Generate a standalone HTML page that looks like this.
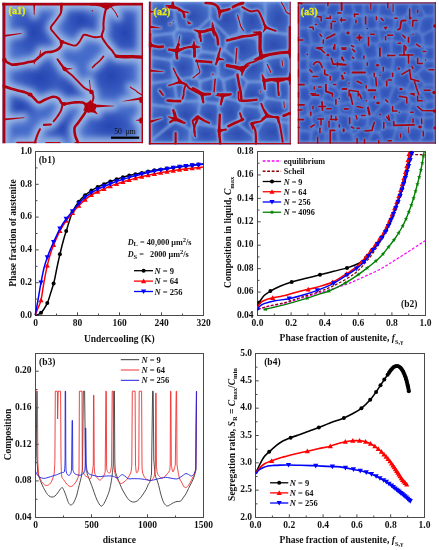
<!DOCTYPE html>
<html><head><meta charset="utf-8"><title>Figure</title>
<style>html,body{margin:0;padding:0;background:#fff;} svg{display:block;}</style>
</head><body>
<svg width="439" height="550" viewBox="0 0 439 550"><defs><clipPath id="ca1"><rect x="2.3" y="2.7" width="140.7" height="140.5"/></clipPath><radialGradient id="ca1g"><stop offset="0" stop-color="#2645b2" stop-opacity="1"/><stop offset="0.55" stop-color="#2645b2" stop-opacity="0.55"/><stop offset="1" stop-color="#2645b2" stop-opacity="0"/></radialGradient><filter id="hb" x="-20%" y="-20%" width="140%" height="140%"><feGaussianBlur stdDeviation="3.0"/></filter><clipPath id="ca2"><rect x="148.8" y="1.8" width="142.2" height="142.6"/></clipPath><radialGradient id="ca2g" cx="50%" cy="50%" r="65%"><stop offset="0" stop-color="#2d4cb0"/><stop offset="0.55" stop-color="#3d62c0"/><stop offset="1" stop-color="#5f87d4"/></radialGradient><filter id="ca2f" x="0" y="0" width="100%" height="100%"><feGaussianBlur stdDeviation="0.9"/></filter><filter id="hb2" x="-20%" y="-20%" width="140%" height="140%"><feGaussianBlur stdDeviation="1.2"/></filter><clipPath id="ca3"><rect x="297.7" y="2.3" width="138.3" height="141.4"/></clipPath><radialGradient id="ca3g" cx="50%" cy="50%" r="65%"><stop offset="0" stop-color="#3152b6"/><stop offset="0.55" stop-color="#3b5ec2"/><stop offset="1" stop-color="#4a70ca"/></radialGradient><filter id="ca3f" x="0" y="0" width="100%" height="100%"><feGaussianBlur stdDeviation="1.1"/></filter><filter id="hb3" x="-20%" y="-20%" width="140%" height="140%"><feGaussianBlur stdDeviation="1.0"/></filter></defs><rect x="35.5" y="151.5" width="168" height="164" fill="none" stroke="#4a4a4a" stroke-width="1"/>
<line x1="35.5" y1="315.5" x2="35.5" y2="312.3" stroke="#4a4a4a" stroke-width="1"/>
<text x="35.5" y="326.2" font-size="9.5" text-anchor="middle" fill="#111" font-family="Liberation Serif, serif" font-weight="bold" >0</text>
<line x1="77.5" y1="315.5" x2="77.5" y2="312.3" stroke="#4a4a4a" stroke-width="1"/>
<text x="77.5" y="326.2" font-size="9.5" text-anchor="middle" fill="#111" font-family="Liberation Serif, serif" font-weight="bold" >80</text>
<line x1="119.5" y1="315.5" x2="119.5" y2="312.3" stroke="#4a4a4a" stroke-width="1"/>
<text x="119.5" y="326.2" font-size="9.5" text-anchor="middle" fill="#111" font-family="Liberation Serif, serif" font-weight="bold" >160</text>
<line x1="161.5" y1="315.5" x2="161.5" y2="312.3" stroke="#4a4a4a" stroke-width="1"/>
<text x="161.5" y="326.2" font-size="9.5" text-anchor="middle" fill="#111" font-family="Liberation Serif, serif" font-weight="bold" >240</text>
<line x1="203.5" y1="315.5" x2="203.5" y2="312.3" stroke="#4a4a4a" stroke-width="1"/>
<text x="203.5" y="326.2" font-size="9.5" text-anchor="middle" fill="#111" font-family="Liberation Serif, serif" font-weight="bold" >320</text>
<line x1="56.5" y1="315.5" x2="56.5" y2="313.5" stroke="#4a4a4a" stroke-width="1"/>
<line x1="98.5" y1="315.5" x2="98.5" y2="313.5" stroke="#4a4a4a" stroke-width="1"/>
<line x1="140.5" y1="315.5" x2="140.5" y2="313.5" stroke="#4a4a4a" stroke-width="1"/>
<line x1="182.5" y1="315.5" x2="182.5" y2="313.5" stroke="#4a4a4a" stroke-width="1"/>
<line x1="35.5" y1="315.5" x2="38.7" y2="315.5" stroke="#4a4a4a" stroke-width="1"/>
<text x="32" y="317.7" font-size="9.5" text-anchor="end" fill="#111" font-family="Liberation Serif, serif" font-weight="bold" >0.0</text>
<line x1="35.5" y1="282.7" x2="38.7" y2="282.7" stroke="#4a4a4a" stroke-width="1"/>
<text x="32" y="284.9" font-size="9.5" text-anchor="end" fill="#111" font-family="Liberation Serif, serif" font-weight="bold" >0.2</text>
<line x1="35.5" y1="249.9" x2="38.7" y2="249.9" stroke="#4a4a4a" stroke-width="1"/>
<text x="32" y="252.1" font-size="9.5" text-anchor="end" fill="#111" font-family="Liberation Serif, serif" font-weight="bold" >0.4</text>
<line x1="35.5" y1="217.1" x2="38.7" y2="217.1" stroke="#4a4a4a" stroke-width="1"/>
<text x="32" y="219.3" font-size="9.5" text-anchor="end" fill="#111" font-family="Liberation Serif, serif" font-weight="bold" >0.6</text>
<line x1="35.5" y1="184.3" x2="38.7" y2="184.3" stroke="#4a4a4a" stroke-width="1"/>
<text x="32" y="186.5" font-size="9.5" text-anchor="end" fill="#111" font-family="Liberation Serif, serif" font-weight="bold" >0.8</text>
<line x1="35.5" y1="151.5" x2="38.7" y2="151.5" stroke="#4a4a4a" stroke-width="1"/>
<text x="32" y="153.7" font-size="9.5" text-anchor="end" fill="#111" font-family="Liberation Serif, serif" font-weight="bold" >1.0</text>
<line x1="35.5" y1="299.1" x2="37.5" y2="299.1" stroke="#4a4a4a" stroke-width="1"/>
<line x1="35.5" y1="266.3" x2="37.5" y2="266.3" stroke="#4a4a4a" stroke-width="1"/>
<line x1="35.5" y1="233.5" x2="37.5" y2="233.5" stroke="#4a4a4a" stroke-width="1"/>
<line x1="35.5" y1="200.7" x2="37.5" y2="200.7" stroke="#4a4a4a" stroke-width="1"/>
<line x1="35.5" y1="167.9" x2="37.5" y2="167.9" stroke="#4a4a4a" stroke-width="1"/>
<path d="M35.2,315.2 C35.67,315.1 37.03,315.02 38,314.6 C38.97,314.18 40,313.63 41,312.7 C42,311.77 42.9,310.72 44,309 C45.1,307.28 46.43,305.23 47.6,302.4 C48.77,299.57 49.9,295.52 51,292 C52.1,288.48 53.2,285.38 54.2,281.3 C55.2,277.22 56.02,272.13 57,267.5 C57.98,262.87 59.02,258.08 60.1,253.5 C61.18,248.92 62.32,244.25 63.5,240 C64.68,235.75 65.73,232.58 67.2,228 C68.67,223.42 70.38,216.87 72.3,212.5 C74.22,208.13 76.57,204.67 78.7,201.8 C80.83,198.93 82.98,197.17 85.1,195.3 C87.22,193.43 89.22,192.02 91.4,190.6 C93.58,189.18 96.02,187.9 98.2,186.8 C100.38,185.7 102.43,184.88 104.5,184 C106.57,183.12 108.53,182.3 110.6,181.5 C112.67,180.7 114.78,179.93 116.9,179.2 C119.02,178.47 121.12,177.75 123.3,177.1 C125.48,176.45 126.83,176.02 130,175.3 C133.17,174.58 138.13,173.65 142.3,172.8 C146.47,171.95 150.75,170.92 155,170.2 C159.25,169.48 163.53,169.1 167.8,168.5 C172.07,167.9 176.35,167.17 180.6,166.6 C184.85,166.03 189.52,165.53 193.3,165.1 C197.08,164.67 201.63,164.18 203.3,164" fill="none" stroke="#000" stroke-width="1.5" stroke-linejoin="round" />
<circle cx="41" cy="312.7" r="2" fill="#000"/>
<circle cx="47.3" cy="303.1" r="2" fill="#000"/>
<circle cx="53.6" cy="283.6" r="2" fill="#000"/>
<circle cx="59.9" cy="254.35" r="2" fill="#000"/>
<circle cx="66.2" cy="231.12" r="2" fill="#000"/>
<circle cx="72.5" cy="212.05" r="2" fill="#000"/>
<circle cx="78.8" cy="201.67" r="2" fill="#000"/>
<circle cx="85.1" cy="195.3" r="2" fill="#000"/>
<circle cx="91.4" cy="190.6" r="2" fill="#000"/>
<circle cx="97.7" cy="187.05" r="2" fill="#000"/>
<circle cx="104" cy="184.21" r="2" fill="#000"/>
<circle cx="110.3" cy="181.62" r="2" fill="#000"/>
<circle cx="116.6" cy="179.3" r="2" fill="#000"/>
<circle cx="122.9" cy="177.22" r="2" fill="#000"/>
<circle cx="129.2" cy="175.48" r="2" fill="#000"/>
<circle cx="135.5" cy="174.15" r="2" fill="#000"/>
<circle cx="141.8" cy="172.9" r="2" fill="#000"/>
<circle cx="148.1" cy="171.56" r="2" fill="#000"/>
<circle cx="154.4" cy="170.3" r="2" fill="#000"/>
<circle cx="160.7" cy="169.39" r="2" fill="#000"/>
<circle cx="167" cy="168.61" r="2" fill="#000"/>
<circle cx="173.3" cy="167.68" r="2" fill="#000"/>
<circle cx="179.6" cy="166.74" r="2" fill="#000"/>
<circle cx="185.9" cy="165.94" r="2" fill="#000"/>
<circle cx="192.2" cy="165.23" r="2" fill="#000"/>
<circle cx="198.5" cy="164.52" r="2" fill="#000"/>
<path d="M35.2,315.2 C35.67,314 37.03,310.5 38,308 C38.97,305.5 40,304.53 41,300.2 C42,295.87 42.9,288 44,282 C45.1,276 46.43,269.2 47.6,264.2 C48.77,259.2 49.9,255.47 51,252 C52.1,248.53 52.68,246.97 54.2,243.4 C55.72,239.83 58.08,234.42 60.1,230.6 C62.12,226.78 64.27,223.4 66.3,220.5 C68.33,217.6 70.23,215.65 72.3,213.2 C74.37,210.75 76.57,208.07 78.7,205.8 C80.83,203.53 82.98,201.4 85.1,199.6 C87.22,197.8 89.22,196.37 91.4,195 C93.58,193.63 96.02,192.47 98.2,191.4 C100.38,190.33 102.43,189.48 104.5,188.6 C106.57,187.72 108.53,186.9 110.6,186.1 C112.67,185.3 114.78,184.53 116.9,183.8 C119.02,183.07 121.12,182.37 123.3,181.7 C125.48,181.03 126.83,180.67 130,179.8 C133.17,178.93 138.13,177.5 142.3,176.5 C146.47,175.5 150.75,174.63 155,173.8 C159.25,172.97 163.53,172.2 167.8,171.5 C172.07,170.8 176.35,170.18 180.6,169.6 C184.85,169.02 189.52,168.43 193.3,168 C197.08,167.57 201.63,167.17 203.3,167" fill="none" stroke="#ff0000" stroke-width="1.5" stroke-linejoin="round" />
<path d="M41,297.6 L43.6,302.28 L38.4,302.28Z" fill="#ff0000"/>
<path d="M47.3,262.91 L49.9,267.59 L44.7,267.59Z" fill="#ff0000"/>
<path d="M53.6,242.22 L56.2,246.9 L51,246.9Z" fill="#ff0000"/>
<path d="M59.9,228.38 L62.5,233.06 L57.3,233.06Z" fill="#ff0000"/>
<path d="M66.2,218.04 L68.8,222.72 L63.6,222.72Z" fill="#ff0000"/>
<path d="M72.5,210.36 L75.1,215.04 L69.9,215.04Z" fill="#ff0000"/>
<path d="M78.8,203.09 L81.4,207.77 L76.2,207.77Z" fill="#ff0000"/>
<path d="M85.1,197 L87.7,201.68 L82.5,201.68Z" fill="#ff0000"/>
<path d="M91.4,192.4 L94,197.08 L88.8,197.08Z" fill="#ff0000"/>
<path d="M97.7,189.04 L100.3,193.72 L95.1,193.72Z" fill="#ff0000"/>
<path d="M104,186.21 L106.6,190.89 L101.4,190.89Z" fill="#ff0000"/>
<path d="M110.3,183.62 L112.9,188.3 L107.7,188.3Z" fill="#ff0000"/>
<path d="M116.6,181.3 L119.2,185.98 L114,185.98Z" fill="#ff0000"/>
<path d="M122.9,179.22 L125.5,183.9 L120.3,183.9Z" fill="#ff0000"/>
<path d="M129.2,177.42 L131.8,182.1 L126.6,182.1Z" fill="#ff0000"/>
<path d="M135.5,175.68 L138.1,180.36 L132.9,180.36Z" fill="#ff0000"/>
<path d="M141.8,174.02 L144.4,178.7 L139.2,178.7Z" fill="#ff0000"/>
<path d="M148.1,172.6 L150.7,177.28 L145.5,177.28Z" fill="#ff0000"/>
<path d="M154.4,171.32 L157,176 L151.8,176Z" fill="#ff0000"/>
<path d="M160.7,170.13 L163.3,174.81 L158.1,174.81Z" fill="#ff0000"/>
<path d="M167,169.03 L169.6,173.71 L164.4,173.71Z" fill="#ff0000"/>
<path d="M173.3,168.04 L175.9,172.72 L170.7,172.72Z" fill="#ff0000"/>
<path d="M179.6,167.14 L182.2,171.82 L177,171.82Z" fill="#ff0000"/>
<path d="M185.9,166.3 L188.5,170.98 L183.3,170.98Z" fill="#ff0000"/>
<path d="M192.2,165.53 L194.8,170.21 L189.6,170.21Z" fill="#ff0000"/>
<path d="M198.5,164.86 L201.1,169.54 L195.9,169.54Z" fill="#ff0000"/>
<path d="M35.2,315.2 C35.67,312.67 37.03,305.42 38,300 C38.97,294.58 40,288.03 41,282.7 C42,277.37 42.9,272.37 44,268 C45.1,263.63 46.43,259.83 47.6,256.5 C48.77,253.17 49.9,250.62 51,248 C52.1,245.38 52.68,244.08 54.2,240.8 C55.72,237.52 58.08,231.97 60.1,228.3 C62.12,224.63 64.27,221.6 66.3,218.8 C68.33,216 70.23,214.02 72.3,211.5 C74.37,208.98 76.57,206.07 78.7,203.7 C80.83,201.33 82.98,199.12 85.1,197.3 C87.22,195.48 89.22,194.17 91.4,192.8 C93.58,191.43 96.02,190.2 98.2,189.1 C100.38,188 102.43,187.1 104.5,186.2 C106.57,185.3 108.53,184.52 110.6,183.7 C112.67,182.88 114.78,182.05 116.9,181.3 C119.02,180.55 121.12,179.87 123.3,179.2 C125.48,178.53 126.83,178.18 130,177.3 C133.17,176.42 138.13,174.93 142.3,173.9 C146.47,172.87 150.75,171.95 155,171.1 C159.25,170.25 163.53,169.52 167.8,168.8 C172.07,168.08 176.35,167.38 180.6,166.8 C184.85,166.22 189.52,165.73 193.3,165.3 C197.08,164.87 201.63,164.38 203.3,164.2" fill="none" stroke="#0000ff" stroke-width="1.5" stroke-linejoin="round" />
<path d="M41,285.3 L43.6,280.62 L38.4,280.62Z" fill="#0000ff"/>
<path d="M47.3,259.96 L49.9,255.28 L44.7,255.28Z" fill="#0000ff"/>
<path d="M53.6,244.7 L56.2,240.02 L51,240.02Z" fill="#0000ff"/>
<path d="M59.9,231.27 L62.5,226.59 L57.3,226.59Z" fill="#0000ff"/>
<path d="M66.2,221.54 L68.8,216.86 L63.6,216.86Z" fill="#0000ff"/>
<path d="M72.5,213.86 L75.1,209.18 L69.9,209.18Z" fill="#0000ff"/>
<path d="M78.8,206.19 L81.4,201.51 L76.2,201.51Z" fill="#0000ff"/>
<path d="M85.1,199.9 L87.7,195.22 L82.5,195.22Z" fill="#0000ff"/>
<path d="M91.4,195.4 L94,190.72 L88.8,190.72Z" fill="#0000ff"/>
<path d="M97.7,191.95 L100.3,187.27 L95.1,187.27Z" fill="#0000ff"/>
<path d="M104,189.02 L106.6,184.34 L101.4,184.34Z" fill="#0000ff"/>
<path d="M110.3,186.42 L112.9,181.74 L107.7,181.74Z" fill="#0000ff"/>
<path d="M116.6,184.01 L119.2,179.33 L114,179.33Z" fill="#0000ff"/>
<path d="M122.9,181.92 L125.5,177.24 L120.3,177.24Z" fill="#0000ff"/>
<path d="M129.2,180.12 L131.8,175.44 L126.6,175.44Z" fill="#0000ff"/>
<path d="M135.5,178.33 L138.1,173.65 L132.9,173.65Z" fill="#0000ff"/>
<path d="M141.8,176.63 L144.4,171.95 L139.2,171.95Z" fill="#0000ff"/>
<path d="M148.1,175.15 L150.7,170.47 L145.5,170.47Z" fill="#0000ff"/>
<path d="M154.4,173.82 L157,169.14 L151.8,169.14Z" fill="#0000ff"/>
<path d="M160.7,172.62 L163.3,167.94 L158.1,167.94Z" fill="#0000ff"/>
<path d="M167,171.53 L169.6,166.85 L164.4,166.85Z" fill="#0000ff"/>
<path d="M173.3,170.49 L175.9,165.81 L170.7,165.81Z" fill="#0000ff"/>
<path d="M179.6,169.54 L182.2,164.86 L177,164.86Z" fill="#0000ff"/>
<path d="M185.9,168.74 L188.5,164.06 L183.3,164.06Z" fill="#0000ff"/>
<path d="M192.2,168.02 L194.8,163.34 L189.6,163.34Z" fill="#0000ff"/>
<path d="M198.5,167.32 L201.1,162.64 L195.9,162.64Z" fill="#0000ff"/>
<text x="127.7" y="244.5" font-size="8.2" text-anchor="start" fill="#111" font-family="Liberation Serif, serif" font-weight="bold" ><tspan font-style="italic">D</tspan><tspan font-size="6.5" dy="1.5">L</tspan><tspan dy="-1.5"> = 40,000 μm</tspan><tspan font-size="6.5" dy="-3">2</tspan><tspan dy="3">/s</tspan></text>
<text x="127.7" y="257" font-size="8.2" text-anchor="start" fill="#111" font-family="Liberation Serif, serif" font-weight="bold" ><tspan font-style="italic">D</tspan><tspan font-size="6.5" dy="1.5">S</tspan><tspan dy="-1.5" xml:space="preserve"> =   2000 μm</tspan><tspan font-size="6.5" dy="-3">2</tspan><tspan dy="3">/s</tspan></text>
<line x1="134" y1="270.7" x2="153" y2="270.7" stroke="#000" stroke-width="1.3"/>
<circle cx="143.6" cy="270.7" r="2" fill="#000"/>
<text x="154.5" y="273.7" font-size="8.5" text-anchor="start" fill="#111" font-family="Liberation Serif, serif" font-weight="bold" ><tspan font-style="italic">N</tspan> = 9</text>
<line x1="134" y1="281.1" x2="153" y2="281.1" stroke="#ff0000" stroke-width="1.3"/>
<path d="M143.6,278.5 L146.2,283.18 L141,283.18Z" fill="#ff0000"/>
<text x="154.5" y="284.1" font-size="8.5" text-anchor="start" fill="#111" font-family="Liberation Serif, serif" font-weight="bold" ><tspan font-style="italic">N</tspan> = 64</text>
<line x1="134" y1="291.5" x2="153" y2="291.5" stroke="#0000ff" stroke-width="1.3"/>
<path d="M143.6,294.1 L146.2,289.42 L141,289.42Z" fill="#0000ff"/>
<text x="154.5" y="294.5" font-size="8.5" text-anchor="start" fill="#111" font-family="Liberation Serif, serif" font-weight="bold" ><tspan font-style="italic">N</tspan> = 256</text>
<text x="38.7" y="162.8" font-size="9.5" text-anchor="start" fill="#111" font-family="Liberation Serif, serif" font-weight="bold" >(b1)</text>
<text x="119.3" y="341.9" font-size="9.5" text-anchor="middle" fill="#111" font-family="Liberation Serif, serif" font-weight="bold" >Undercooling (K)</text>
<text x="16" y="233" font-size="9.5" text-anchor="middle" fill="#111" font-family="Liberation Serif, serif" font-weight="bold" transform="rotate(-90 16 233)">Phase fraction of austenite</text>
<rect x="257.5" y="151.5" width="168" height="164" fill="none" stroke="#4a4a4a" stroke-width="1"/>
<line x1="257.5" y1="315.5" x2="257.5" y2="312.3" stroke="#4a4a4a" stroke-width="1"/>
<text x="257.5" y="326.2" font-size="9.5" text-anchor="middle" fill="#111" font-family="Liberation Serif, serif" font-weight="bold" >0.0</text>
<line x1="291.1" y1="315.5" x2="291.1" y2="312.3" stroke="#4a4a4a" stroke-width="1"/>
<text x="291.1" y="326.2" font-size="9.5" text-anchor="middle" fill="#111" font-family="Liberation Serif, serif" font-weight="bold" >0.2</text>
<line x1="324.7" y1="315.5" x2="324.7" y2="312.3" stroke="#4a4a4a" stroke-width="1"/>
<text x="324.7" y="326.2" font-size="9.5" text-anchor="middle" fill="#111" font-family="Liberation Serif, serif" font-weight="bold" >0.4</text>
<line x1="358.3" y1="315.5" x2="358.3" y2="312.3" stroke="#4a4a4a" stroke-width="1"/>
<text x="358.3" y="326.2" font-size="9.5" text-anchor="middle" fill="#111" font-family="Liberation Serif, serif" font-weight="bold" >0.6</text>
<line x1="391.9" y1="315.5" x2="391.9" y2="312.3" stroke="#4a4a4a" stroke-width="1"/>
<text x="391.9" y="326.2" font-size="9.5" text-anchor="middle" fill="#111" font-family="Liberation Serif, serif" font-weight="bold" >0.8</text>
<line x1="425.5" y1="315.5" x2="425.5" y2="312.3" stroke="#4a4a4a" stroke-width="1"/>
<text x="425.5" y="326.2" font-size="9.5" text-anchor="middle" fill="#111" font-family="Liberation Serif, serif" font-weight="bold" >1.0</text>
<line x1="274.3" y1="315.5" x2="274.3" y2="313.5" stroke="#4a4a4a" stroke-width="1"/>
<line x1="307.9" y1="315.5" x2="307.9" y2="313.5" stroke="#4a4a4a" stroke-width="1"/>
<line x1="341.5" y1="315.5" x2="341.5" y2="313.5" stroke="#4a4a4a" stroke-width="1"/>
<line x1="375.1" y1="315.5" x2="375.1" y2="313.5" stroke="#4a4a4a" stroke-width="1"/>
<line x1="408.7" y1="315.5" x2="408.7" y2="313.5" stroke="#4a4a4a" stroke-width="1"/>
<line x1="257.5" y1="315.5" x2="260.7" y2="315.5" stroke="#4a4a4a" stroke-width="1"/>
<text x="253.5" y="317.7" font-size="9.5" text-anchor="end" fill="#111" font-family="Liberation Serif, serif" font-weight="bold" >0.04</text>
<line x1="257.5" y1="292.07" x2="260.7" y2="292.07" stroke="#4a4a4a" stroke-width="1"/>
<text x="253.5" y="294.27" font-size="9.5" text-anchor="end" fill="#111" font-family="Liberation Serif, serif" font-weight="bold" >0.06</text>
<line x1="257.5" y1="268.64" x2="260.7" y2="268.64" stroke="#4a4a4a" stroke-width="1"/>
<text x="253.5" y="270.84" font-size="9.5" text-anchor="end" fill="#111" font-family="Liberation Serif, serif" font-weight="bold" >0.08</text>
<line x1="257.5" y1="245.21" x2="260.7" y2="245.21" stroke="#4a4a4a" stroke-width="1"/>
<text x="253.5" y="247.41" font-size="9.5" text-anchor="end" fill="#111" font-family="Liberation Serif, serif" font-weight="bold" >0.10</text>
<line x1="257.5" y1="221.79" x2="260.7" y2="221.79" stroke="#4a4a4a" stroke-width="1"/>
<text x="253.5" y="223.99" font-size="9.5" text-anchor="end" fill="#111" font-family="Liberation Serif, serif" font-weight="bold" >0.12</text>
<line x1="257.5" y1="198.36" x2="260.7" y2="198.36" stroke="#4a4a4a" stroke-width="1"/>
<text x="253.5" y="200.56" font-size="9.5" text-anchor="end" fill="#111" font-family="Liberation Serif, serif" font-weight="bold" >0.14</text>
<line x1="257.5" y1="174.93" x2="260.7" y2="174.93" stroke="#4a4a4a" stroke-width="1"/>
<text x="253.5" y="177.13" font-size="9.5" text-anchor="end" fill="#111" font-family="Liberation Serif, serif" font-weight="bold" >0.16</text>
<line x1="257.5" y1="151.5" x2="260.7" y2="151.5" stroke="#4a4a4a" stroke-width="1"/>
<text x="253.5" y="153.7" font-size="9.5" text-anchor="end" fill="#111" font-family="Liberation Serif, serif" font-weight="bold" >0.18</text>
<line x1="257.5" y1="303.79" x2="259.5" y2="303.79" stroke="#4a4a4a" stroke-width="1"/>
<line x1="257.5" y1="280.36" x2="259.5" y2="280.36" stroke="#4a4a4a" stroke-width="1"/>
<line x1="257.5" y1="256.93" x2="259.5" y2="256.93" stroke="#4a4a4a" stroke-width="1"/>
<line x1="257.5" y1="233.5" x2="259.5" y2="233.5" stroke="#4a4a4a" stroke-width="1"/>
<line x1="257.5" y1="210.07" x2="259.5" y2="210.07" stroke="#4a4a4a" stroke-width="1"/>
<line x1="257.5" y1="186.64" x2="259.5" y2="186.64" stroke="#4a4a4a" stroke-width="1"/>
<line x1="257.5" y1="163.21" x2="259.5" y2="163.21" stroke="#4a4a4a" stroke-width="1"/>
<path d="M258,309.5 C259.78,308.97 264.2,307.35 268.7,306.3 C273.2,305.25 279.78,304.48 285,303.2 C290.22,301.92 294.17,300.37 300,298.6 C305.83,296.83 312.42,294.93 320,292.6 C327.58,290.27 338.82,286.95 345.5,284.6 C352.18,282.25 354.35,281.07 360.1,278.5 C365.85,275.93 373.35,272.78 380,269.2 C386.65,265.62 392.42,261.78 400,257 C407.58,252.22 421.25,243.25 425.5,240.5" fill="none" stroke="#ff00ff" stroke-width="1.2" stroke-dasharray="2.8,1.7" stroke-linejoin="round" />
<path d="M258,309.3 C259.78,308.75 264.2,307.12 268.7,306 C273.2,304.88 279.78,304 285,302.6 C290.22,301.2 294.17,299.48 300,297.6 C305.83,295.72 313.93,293.5 320,291.3 C326.07,289.1 330.63,287.37 336.4,284.4 C342.17,281.43 349.67,277.23 354.6,273.5 C359.53,269.77 362.93,265.42 366,262 C369.07,258.58 370.83,256 373,253 C375.17,250 376.83,247.67 379,244 C381.17,240.33 383.67,236 386,231 C388.33,226 390.83,219.67 393,214 C395.17,208.33 397.17,202.5 399,197 C400.83,191.5 402.5,186.17 404,181 C405.5,175.83 406.92,170.3 408,166 C409.08,161.7 409.92,157.08 410.5,155.2 C411.08,153.32 409,154.78 411.5,154.7 C414,154.62 423.17,154.7 425.5,154.7" fill="none" stroke="#8b0000" stroke-width="1.2" stroke-dasharray="2.8,1.7" stroke-linejoin="round" />
<path d="M257.5,306.6 C257.8,305.92 258.2,304.33 259.3,302.5 C260.4,300.67 262.25,297.5 264.1,295.6 C265.95,293.7 267.75,292.67 270.4,291.1 C273.05,289.53 276.45,287.72 280,286.2 C283.55,284.68 287.7,283.23 291.7,282 C295.7,280.77 299.28,280 304,278.8 C308.72,277.6 315.05,276.05 320,274.8 C324.95,273.55 329.2,272.45 333.7,271.3 C338.2,270.15 343.45,268.95 347,267.9 C350.55,266.85 352.82,265.88 355,265 C357.18,264.12 358.57,263.5 360.1,262.6 C361.63,261.7 362.55,261.2 364.2,259.6 C365.85,258 367.95,255.47 370,253 C372.05,250.53 374.65,247.27 376.5,244.8 C378.35,242.33 379.53,240.55 381.1,238.2 C382.67,235.85 383.92,234.63 385.9,230.7 C387.88,226.77 390.8,220.05 393,214.6 C395.2,209.15 397.27,203.52 399.1,198 C400.93,192.48 402.5,186.83 404,181.5 C405.5,176.17 406.98,170.42 408.1,166 C409.22,161.58 410.13,157.5 410.7,155 C411.27,152.5 411.37,151.67 411.5,151" fill="none" stroke="#000" stroke-width="1.5" stroke-linejoin="round" />
<circle cx="259.3" cy="302.5" r="2" fill="#000"/>
<circle cx="270.4" cy="291.1" r="2" fill="#000"/>
<circle cx="291.7" cy="282" r="2" fill="#000"/>
<circle cx="320" cy="274.8" r="2" fill="#000"/>
<circle cx="347" cy="267.9" r="2" fill="#000"/>
<circle cx="365.73" cy="258" r="2" fill="#000"/>
<circle cx="371.64" cy="251" r="2" fill="#000"/>
<circle cx="377.09" cy="244" r="2" fill="#000"/>
<circle cx="381.94" cy="237" r="2" fill="#000"/>
<circle cx="386.25" cy="230" r="2" fill="#000"/>
<circle cx="389.46" cy="223" r="2" fill="#000"/>
<circle cx="392.43" cy="216" r="2" fill="#000"/>
<circle cx="395.19" cy="209" r="2" fill="#000"/>
<circle cx="397.74" cy="202" r="2" fill="#000"/>
<circle cx="400.07" cy="195" r="2" fill="#000"/>
<circle cx="402.16" cy="188" r="2" fill="#000"/>
<circle cx="404.14" cy="181" r="2" fill="#000"/>
<circle cx="406.04" cy="174" r="2" fill="#000"/>
<circle cx="407.85" cy="167" r="2" fill="#000"/>
<circle cx="409.56" cy="160" r="2" fill="#000"/>
<circle cx="411.13" cy="153" r="2" fill="#000"/>
<path d="M257.5,307.6 C257.83,307 258.58,305.1 259.5,304 C260.42,302.9 260.8,302.03 263,301 C265.2,299.97 269.03,298.7 272.7,297.8 C276.37,296.9 282.25,296.2 285,295.6 C287.75,295 286.03,295.08 289.2,294.2 C292.37,293.32 299.37,291.47 304,290.3 C308.63,289.13 312.2,288.58 317,287.2 C321.8,285.82 327.9,284.22 332.8,282 C337.7,279.78 342.45,276.43 346.4,273.9 C350.35,271.37 353.62,269.2 356.5,266.8 C359.38,264.4 361.53,261.92 363.7,259.5 C365.87,257.08 367.45,254.92 369.5,252.3 C371.55,249.68 374.13,246.35 376,243.8 C377.87,241.25 379.12,239.38 380.7,237 C382.28,234.62 383.5,233.45 385.5,229.5 C387.5,225.55 390.5,218.8 392.7,213.3 C394.9,207.8 396.9,202.05 398.7,196.5 C400.5,190.95 402.08,185.33 403.5,180 C404.92,174.67 406.2,169.33 407.2,164.5 C408.2,159.67 409.12,153.25 409.5,151" fill="none" stroke="#ff0000" stroke-width="1.5" stroke-linejoin="round" />
<path d="M272.7,295.2 L275.3,299.88 L270.1,299.88Z" fill="#ff0000"/>
<path d="M308.2,286.72 L310.8,291.4 L305.6,291.4Z" fill="#ff0000"/>
<path d="M332.8,279.4 L335.4,284.08 L330.2,284.08Z" fill="#ff0000"/>
<path d="M346.4,271.3 L349,275.98 L343.8,275.98Z" fill="#ff0000"/>
<path d="M361.45,259.4 L364.05,264.08 L358.85,264.08Z" fill="#ff0000"/>
<path d="M366.62,253.4 L369.22,258.08 L364.02,258.08Z" fill="#ff0000"/>
<path d="M371.29,247.4 L373.89,252.08 L368.69,252.08Z" fill="#ff0000"/>
<path d="M375.85,241.4 L378.45,246.08 L373.25,246.08Z" fill="#ff0000"/>
<path d="M380.03,235.4 L382.63,240.08 L377.43,240.08Z" fill="#ff0000"/>
<path d="M384.13,229.4 L386.73,234.08 L381.53,234.08Z" fill="#ff0000"/>
<path d="M387.19,223.4 L389.79,228.08 L384.59,228.08Z" fill="#ff0000"/>
<path d="M389.9,217.4 L392.5,222.08 L387.3,222.08Z" fill="#ff0000"/>
<path d="M392.42,211.4 L395.02,216.08 L389.82,216.08Z" fill="#ff0000"/>
<path d="M394.73,205.4 L397.33,210.08 L392.13,210.08Z" fill="#ff0000"/>
<path d="M396.87,199.4 L399.47,204.08 L394.27,204.08Z" fill="#ff0000"/>
<path d="M398.86,193.4 L401.46,198.08 L396.26,198.08Z" fill="#ff0000"/>
<path d="M400.71,187.4 L403.31,192.08 L398.11,192.08Z" fill="#ff0000"/>
<path d="M402.42,181.4 L405.02,186.08 L399.82,186.08Z" fill="#ff0000"/>
<path d="M404.02,175.4 L406.62,180.08 L401.42,180.08Z" fill="#ff0000"/>
<path d="M405.52,169.4 L408.12,174.08 L402.92,174.08Z" fill="#ff0000"/>
<path d="M406.88,163.4 L409.48,168.08 L404.28,168.08Z" fill="#ff0000"/>
<path d="M408.04,157.4 L410.64,162.08 L405.44,162.08Z" fill="#ff0000"/>
<path d="M409.02,151.4 L411.62,156.08 L406.42,156.08Z" fill="#ff0000"/>
<path d="M257.5,310.4 C257.83,309.75 258.4,307.63 259.5,306.5 C260.6,305.37 261.52,304.55 264.1,303.6 C266.68,302.65 270.82,301.62 275,300.8 C279.18,299.98 284.37,299.7 289.2,298.7 C294.03,297.7 299.32,296.18 304,294.8 C308.68,293.42 312.35,292.32 317.3,290.4 C322.25,288.48 328.75,285.87 333.7,283.3 C338.65,280.73 343.2,277.45 347,275 C350.8,272.55 353.58,270.85 356.5,268.6 C359.42,266.35 362.22,263.98 364.5,261.5 C366.78,259.02 368.17,256.37 370.2,253.7 C372.23,251.03 374.85,247.95 376.7,245.5 C378.55,243.05 379.77,241.33 381.3,239 C382.83,236.67 383.95,235.42 385.9,231.5 C387.85,227.58 390.8,220.92 393,215.5 C395.2,210.08 397.27,204.42 399.1,199 C400.93,193.58 402.5,188.17 404,183 C405.5,177.83 406.98,172.17 408.1,168 C409.22,163.83 409.97,160.83 410.7,158 C411.43,155.17 412.2,152.17 412.5,151" fill="none" stroke="#0000ff" stroke-width="1.5" stroke-linejoin="round" />
<path d="M289.2,301.3 L291.8,296.62 L286.6,296.62Z" fill="#0000ff"/>
<path d="M317.3,293 L319.9,288.32 L314.7,288.32Z" fill="#0000ff"/>
<path d="M333.7,285.9 L336.3,281.22 L331.1,281.22Z" fill="#0000ff"/>
<path d="M347,277.6 L349.6,272.92 L344.4,272.92Z" fill="#0000ff"/>
<path d="M356.5,271.2 L359.1,266.52 L353.9,266.52Z" fill="#0000ff"/>
<path d="M364.03,264.6 L366.63,259.92 L361.43,259.92Z" fill="#0000ff"/>
<path d="M368.57,258.6 L371.17,253.92 L365.97,253.92Z" fill="#0000ff"/>
<path d="M373.13,252.6 L375.73,247.92 L370.53,247.92Z" fill="#0000ff"/>
<path d="M377.82,246.6 L380.42,241.92 L375.22,241.92Z" fill="#0000ff"/>
<path d="M381.97,240.6 L384.57,235.92 L379.37,235.92Z" fill="#0000ff"/>
<path d="M385.65,234.6 L388.25,229.92 L383.05,229.92Z" fill="#0000ff"/>
<path d="M388.49,228.6 L391.09,223.92 L385.89,223.92Z" fill="#0000ff"/>
<path d="M391.12,222.6 L393.72,217.92 L388.52,217.92Z" fill="#0000ff"/>
<path d="M393.6,216.6 L396.2,211.92 L391,211.92Z" fill="#0000ff"/>
<path d="M395.91,210.6 L398.51,205.92 L393.31,205.92Z" fill="#0000ff"/>
<path d="M398.07,204.6 L400.67,199.92 L395.47,199.92Z" fill="#0000ff"/>
<path d="M400.09,198.6 L402.69,193.92 L397.49,193.92Z" fill="#0000ff"/>
<path d="M401.95,192.6 L404.55,187.92 L399.35,187.92Z" fill="#0000ff"/>
<path d="M403.71,186.6 L406.31,181.92 L401.11,181.92Z" fill="#0000ff"/>
<path d="M405.41,180.6 L408.01,175.92 L402.81,175.92Z" fill="#0000ff"/>
<path d="M407.03,174.6 L409.63,169.92 L404.43,169.92Z" fill="#0000ff"/>
<path d="M408.63,168.6 L411.23,163.92 L406.03,163.92Z" fill="#0000ff"/>
<path d="M410.19,162.6 L412.79,157.92 L407.59,157.92Z" fill="#0000ff"/>
<path d="M411.73,156.6 L414.33,151.92 L409.13,151.92Z" fill="#0000ff"/>
<path d="M263.5,309.8 C265.25,309.37 270.42,308.07 274,307.2 C277.58,306.33 280,305.93 285,304.6 C290,303.27 298.17,301 304,299.2 C309.83,297.4 315.82,295.17 320,293.8 C324.18,292.43 324.85,292.83 329.1,291 C333.35,289.17 340.63,285.53 345.5,282.8 C350.37,280.07 354.35,277.33 358.3,274.6 C362.25,271.87 365.58,269.28 369.2,266.4 C372.82,263.52 376.77,260.55 380,257.3 C383.23,254.05 386.1,250.03 388.6,246.9 C391.1,243.77 392.83,241.65 395,238.5 C397.17,235.35 399.77,231.25 401.6,228 C403.43,224.75 404.62,222.15 406,219 C407.38,215.85 408.73,212.27 409.9,209.1 C411.07,205.93 412.02,203.15 413,200 C413.98,196.85 414.88,193.53 415.8,190.2 C416.72,186.87 417.7,183.15 418.5,180 C419.3,176.85 419.97,174.13 420.6,171.3 C421.23,168.47 421.8,165.77 422.3,163 C422.8,160.23 423.27,156.7 423.6,154.7 C423.93,152.7 424.18,151.62 424.3,151" fill="none" stroke="#008000" stroke-width="1.4" stroke-linejoin="round" />
<path d="M265.8,306.83 L266.39,308.42 L268.08,308.49 L266.75,309.54 L267.21,311.17 L265.8,310.23 L264.39,311.17 L264.85,309.54 L263.52,308.49 L265.21,308.42Z" fill="#008000"/>
<path d="M307.3,295.74 L307.89,297.34 L309.58,297.4 L308.25,298.45 L308.71,300.09 L307.3,299.14 L305.89,300.09 L306.35,298.45 L305.02,297.4 L306.71,297.34Z" fill="#008000"/>
<path d="M329.1,288.6 L329.69,290.19 L331.38,290.26 L330.05,291.31 L330.51,292.94 L329.1,292 L327.69,292.94 L328.15,291.31 L326.82,290.26 L328.51,290.19Z" fill="#008000"/>
<path d="M345.5,280.4 L346.09,281.99 L347.78,282.06 L346.45,283.11 L346.91,284.74 L345.5,283.8 L344.09,284.74 L344.55,283.11 L343.22,282.06 L344.91,281.99Z" fill="#008000"/>
<path d="M358.3,272.2 L358.89,273.79 L360.58,273.86 L359.25,274.91 L359.71,276.54 L358.3,275.6 L356.89,276.54 L357.35,274.91 L356.02,273.86 L357.71,273.79Z" fill="#008000"/>
<path d="M367.18,265.6 L367.77,267.19 L369.46,267.26 L368.13,268.31 L368.59,269.94 L367.18,269 L365.77,269.94 L366.23,268.31 L364.9,267.26 L366.59,267.19Z" fill="#008000"/>
<path d="M375.93,258.6 L376.52,260.19 L378.22,260.26 L376.89,261.31 L377.34,262.94 L375.93,262 L374.52,262.94 L374.98,261.31 L373.65,260.26 L375.35,260.19Z" fill="#008000"/>
<path d="M382.99,251.6 L383.58,253.19 L385.27,253.26 L383.94,254.31 L384.4,255.94 L382.99,255 L381.58,255.94 L382.04,254.31 L380.71,253.26 L382.4,253.19Z" fill="#008000"/>
<path d="M388.52,244.6 L389.11,246.19 L390.8,246.26 L389.47,247.31 L389.93,248.94 L388.52,248 L387.11,248.94 L387.57,247.31 L386.24,246.26 L387.93,246.19Z" fill="#008000"/>
<path d="M393.95,237.6 L394.53,239.19 L396.23,239.26 L394.9,240.31 L395.36,241.94 L393.95,241 L392.53,241.94 L392.99,240.31 L391.66,239.26 L393.36,239.19Z" fill="#008000"/>
<path d="M398.61,230.6 L399.19,232.19 L400.89,232.26 L399.56,233.31 L400.02,234.94 L398.61,234 L397.19,234.94 L397.65,233.31 L396.32,232.26 L398.02,232.19Z" fill="#008000"/>
<path d="M402.69,223.6 L403.28,225.19 L404.97,225.26 L403.64,226.31 L404.1,227.94 L402.69,227 L401.28,227.94 L401.74,226.31 L400.41,225.26 L402.1,225.19Z" fill="#008000"/>
<path d="M406,216.6 L406.59,218.19 L408.28,218.26 L406.95,219.31 L407.41,220.94 L406,220 L404.59,220.94 L405.05,219.31 L403.72,218.26 L405.41,218.19Z" fill="#008000"/>
<path d="M408.82,209.6 L409.41,211.19 L411.1,211.26 L409.77,212.31 L410.23,213.94 L408.82,213 L407.41,213.94 L407.87,212.31 L406.54,211.26 L408.23,211.19Z" fill="#008000"/>
<path d="M411.36,202.6 L411.95,204.19 L413.65,204.26 L412.31,205.31 L412.77,206.94 L411.36,206 L409.95,206.94 L410.41,205.31 L409.08,204.26 L410.77,204.19Z" fill="#008000"/>
<path d="M413.61,195.6 L414.2,197.19 L415.89,197.26 L414.56,198.31 L415.02,199.94 L413.61,199 L412.2,199.94 L412.66,198.31 L411.33,197.26 L413.02,197.19Z" fill="#008000"/>
<path d="M415.58,188.6 L416.17,190.19 L417.86,190.26 L416.53,191.31 L416.99,192.94 L415.58,192 L414.17,192.94 L414.63,191.31 L413.3,190.26 L414.99,190.19Z" fill="#008000"/>
<path d="M417.47,181.6 L418.05,183.19 L419.75,183.26 L418.42,184.31 L418.88,185.94 L417.47,185 L416.05,185.94 L416.51,184.31 L415.18,183.26 L416.88,183.19Z" fill="#008000"/>
<path d="M419.25,174.6 L419.84,176.19 L421.54,176.26 L420.2,177.31 L420.66,178.94 L419.25,178 L417.84,178.94 L418.3,177.31 L416.97,176.26 L418.66,176.19Z" fill="#008000"/>
<path d="M420.89,167.6 L421.48,169.19 L423.17,169.26 L421.84,170.31 L422.3,171.94 L420.89,171 L419.48,171.94 L419.94,170.31 L418.61,169.26 L420.3,169.19Z" fill="#008000"/>
<path d="M422.3,160.6 L422.89,162.19 L424.58,162.26 L423.25,163.31 L423.71,164.94 L422.3,164 L420.89,164.94 L421.35,163.31 L420.02,162.26 L421.71,162.19Z" fill="#008000"/>
<path d="M423.39,153.6 L423.98,155.19 L425.68,155.26 L424.35,156.31 L424.81,157.94 L423.39,157 L421.98,157.94 L422.44,156.31 L421.11,155.26 L422.81,155.19Z" fill="#008000"/>
<line x1="262.7" y1="161" x2="281.1" y2="161" stroke="#ff00ff" stroke-width="1.3" stroke-dasharray="2.8,1.7"/>
<text x="283.7" y="164" font-size="8.2" text-anchor="start" fill="#111" font-family="Liberation Serif, serif" font-weight="bold" >equilibrium</text>
<line x1="262.7" y1="171.25" x2="281.1" y2="171.25" stroke="#8b0000" stroke-width="1.3" stroke-dasharray="2.8,1.7"/>
<text x="283.7" y="174.25" font-size="8.2" text-anchor="start" fill="#111" font-family="Liberation Serif, serif" font-weight="bold" >Scheil</text>
<line x1="262.7" y1="181.5" x2="281.1" y2="181.5" stroke="#000" stroke-width="1.3"/>
<circle cx="272" cy="181.5" r="2" fill="#000"/>
<text x="283.7" y="184.5" font-size="8.2" text-anchor="start" fill="#111" font-family="Liberation Serif, serif" font-weight="bold" ><tspan font-style="italic">N</tspan> = 9</text>
<line x1="262.7" y1="191.75" x2="281.1" y2="191.75" stroke="#ff0000" stroke-width="1.3"/>
<path d="M272,189.15 L274.6,193.83 L269.4,193.83Z" fill="#ff0000"/>
<text x="283.7" y="194.75" font-size="8.2" text-anchor="start" fill="#111" font-family="Liberation Serif, serif" font-weight="bold" ><tspan font-style="italic">N</tspan> = 64</text>
<line x1="262.7" y1="202" x2="281.1" y2="202" stroke="#0000ff" stroke-width="1.3"/>
<path d="M272,204.6 L274.6,199.92 L269.4,199.92Z" fill="#0000ff"/>
<text x="283.7" y="205" font-size="8.2" text-anchor="start" fill="#111" font-family="Liberation Serif, serif" font-weight="bold" ><tspan font-style="italic">N</tspan> = 256</text>
<line x1="262.7" y1="212.25" x2="281.1" y2="212.25" stroke="#008000" stroke-width="1.3"/>
<path d="M272,209.85 L272.59,211.44 L274.28,211.51 L272.95,212.56 L273.41,214.19 L272,213.25 L270.59,214.19 L271.05,212.56 L269.72,211.51 L271.41,211.44Z" fill="#008000"/>
<text x="283.7" y="215.25" font-size="8.2" text-anchor="start" fill="#111" font-family="Liberation Serif, serif" font-weight="bold" ><tspan font-style="italic">N</tspan> = 4096</text>
<text x="401" y="306.6" font-size="9.5" text-anchor="start" fill="#111" font-family="Liberation Serif, serif" font-weight="bold" >(b2)</text>
<text x="341.4" y="341.2" font-size="9.5" text-anchor="middle" fill="#111" font-family="Liberation Serif, serif" font-weight="bold" >Phase fraction of austenite, <tspan font-style="italic">f</tspan><tspan font-size="6.5" dy="2.5">S,γ</tspan></text>
<text x="231.5" y="232.3" font-size="9.5" text-anchor="middle" fill="#111" font-family="Liberation Serif, serif" font-weight="bold" transform="rotate(-90 231.5 232.3)">Composition in liquid, <tspan font-style="italic">C</tspan><tspan font-size="6.5" dy="2.5">max</tspan></text>
<rect x="35.5" y="353.5" width="168" height="164" fill="none" stroke="#4a4a4a" stroke-width="1"/>
<line x1="35.5" y1="517.5" x2="35.5" y2="514.3" stroke="#4a4a4a" stroke-width="1"/>
<text x="35.5" y="528" font-size="9.5" text-anchor="middle" fill="#111" font-family="Liberation Serif, serif" font-weight="bold" >0</text>
<line x1="91.5" y1="517.5" x2="91.5" y2="514.3" stroke="#4a4a4a" stroke-width="1"/>
<text x="91.5" y="528" font-size="9.5" text-anchor="middle" fill="#111" font-family="Liberation Serif, serif" font-weight="bold" >500</text>
<line x1="147.5" y1="517.5" x2="147.5" y2="514.3" stroke="#4a4a4a" stroke-width="1"/>
<text x="147.5" y="528" font-size="9.5" text-anchor="middle" fill="#111" font-family="Liberation Serif, serif" font-weight="bold" >1000</text>
<line x1="203.5" y1="517.5" x2="203.5" y2="514.3" stroke="#4a4a4a" stroke-width="1"/>
<text x="203.5" y="528" font-size="9.5" text-anchor="middle" fill="#111" font-family="Liberation Serif, serif" font-weight="bold" >1500</text>
<line x1="63.5" y1="517.5" x2="63.5" y2="515.5" stroke="#4a4a4a" stroke-width="1"/>
<line x1="119.5" y1="517.5" x2="119.5" y2="515.5" stroke="#4a4a4a" stroke-width="1"/>
<line x1="175.5" y1="517.5" x2="175.5" y2="515.5" stroke="#4a4a4a" stroke-width="1"/>
<line x1="35.5" y1="517.5" x2="38.7" y2="517.5" stroke="#4a4a4a" stroke-width="1"/>
<text x="31.5" y="519.7" font-size="9.5" text-anchor="end" fill="#111" font-family="Liberation Serif, serif" font-weight="bold" >0.04</text>
<line x1="35.5" y1="480.93" x2="38.7" y2="480.93" stroke="#4a4a4a" stroke-width="1"/>
<text x="31.5" y="483.13" font-size="9.5" text-anchor="end" fill="#111" font-family="Liberation Serif, serif" font-weight="bold" >0.08</text>
<line x1="35.5" y1="444.37" x2="38.7" y2="444.37" stroke="#4a4a4a" stroke-width="1"/>
<text x="31.5" y="446.57" font-size="9.5" text-anchor="end" fill="#111" font-family="Liberation Serif, serif" font-weight="bold" >0.12</text>
<line x1="35.5" y1="407.8" x2="38.7" y2="407.8" stroke="#4a4a4a" stroke-width="1"/>
<text x="31.5" y="410" font-size="9.5" text-anchor="end" fill="#111" font-family="Liberation Serif, serif" font-weight="bold" >0.16</text>
<line x1="35.5" y1="371.23" x2="38.7" y2="371.23" stroke="#4a4a4a" stroke-width="1"/>
<text x="31.5" y="373.43" font-size="9.5" text-anchor="end" fill="#111" font-family="Liberation Serif, serif" font-weight="bold" >0.20</text>
<line x1="35.5" y1="499.22" x2="37.5" y2="499.22" stroke="#4a4a4a" stroke-width="1"/>
<line x1="35.5" y1="462.65" x2="37.5" y2="462.65" stroke="#4a4a4a" stroke-width="1"/>
<line x1="35.5" y1="426.08" x2="37.5" y2="426.08" stroke="#4a4a4a" stroke-width="1"/>
<line x1="35.5" y1="389.52" x2="37.5" y2="389.52" stroke="#4a4a4a" stroke-width="1"/>
<path d="M35.6,391.2 L36.3,391.2 L36.7,455 L37.8,473.2 C38.37,474.8 39.95,479.83 41.2,482.8 C42.45,485.77 44.08,488.88 45.3,491 C46.52,493.12 47.37,494.48 48.5,495.5 C49.63,496.52 51.02,497.02 52.1,497.1 C53.18,497.18 54.08,496.68 55,496 C55.92,495.32 56.48,494.4 57.6,493 C58.72,491.6 60.72,488.18 61.7,487.6 C62.68,487.02 62.82,488.25 63.5,489.5 C64.18,490.75 65.05,493.1 65.8,495.1 C66.55,497.1 67.32,499.92 68,501.5 C68.68,503.08 69.23,504.08 69.9,504.6 C70.57,505.12 71.32,505.03 72,504.6 C72.68,504.17 73.25,503.43 74,502 C74.75,500.57 75.82,498.07 76.5,496 C77.18,493.93 77.52,491.93 78.1,489.6 C78.68,487.27 79.43,484.27 80,482 C80.57,479.73 81.08,478.33 81.5,476 C81.92,473.67 82.33,469.33 82.5,468 L83.3,391.2 L84.6,391.2 L85.2,440 C85.3,444.33 85.5,460.47 85.8,466 C86.1,471.53 86.47,471.12 87,473.2 C87.53,475.28 88.22,476.45 89,478.5 C89.78,480.55 90.85,483.2 91.7,485.5 C92.55,487.8 93.22,489.88 94.1,492.3 C94.98,494.72 95.87,497.72 97,500 C98.13,502.28 99.73,505.42 100.9,506 C102.07,506.58 102.85,505.32 104,503.5 C105.15,501.68 106.8,497.68 107.8,495.1 C108.8,492.52 109.32,490.97 110,488 C110.68,485.03 111.37,481.13 111.9,477.3 C112.43,473.47 112.98,467.05 113.2,465 L113.8,391.2 L114.4,391.2 L114.8,460 C114.88,461.75 114.93,467.75 115.3,470.5 C115.67,473.25 116.22,474.22 117,476.5 C117.78,478.78 119.08,481.95 120,484.2 C120.92,486.45 121.58,488.18 122.5,490 C123.42,491.82 124.5,493.52 125.5,495.1 C126.5,496.68 127.37,498.37 128.5,499.5 C129.63,500.63 131.05,501.55 132.3,501.9 C133.55,502.25 134.85,502.05 136,501.6 C137.15,501.15 138.12,500.3 139.2,499.2 C140.28,498.1 141.37,496.6 142.5,495 C143.63,493.4 145.08,491.27 146,489.6 C146.92,487.93 147.33,486.37 148,485 C148.67,483.63 149.42,483.23 150,481.4 C150.58,479.57 151.25,475.23 151.5,474 L152.6,391.2 L153.2,391.2 L153.8,460 C154.03,462.43 154.67,471.27 155.2,474.6 C155.73,477.93 156.42,478.18 157,480 C157.58,481.82 158.12,483.33 158.7,485.5 C159.28,487.67 159.82,490.5 160.5,493 C161.18,495.5 162.05,498.58 162.8,500.5 C163.55,502.42 164.22,503.58 165,504.5 C165.78,505.42 166.58,506 167.5,506 C168.42,506 169.47,505.07 170.5,504.5 C171.53,503.93 172.62,503.1 173.7,502.6 C174.78,502.1 175.87,501.73 177,501.5 C178.13,501.27 179.5,501.78 180.5,501.2 C181.5,500.62 182.08,499.25 183,498 C183.92,496.75 185.08,495.28 186,493.7 C186.92,492.12 187.6,490.32 188.5,488.5 C189.4,486.68 190.48,484.72 191.4,482.8 C192.32,480.88 193.27,479.13 194,477 C194.73,474.87 195.5,471.17 195.8,470 L196.4,391.2" fill="none" stroke="#3a3a3a" stroke-width="0.9" stroke-opacity="1.0" stroke-linejoin="miter"/>
<path d="M35.4,391.2 L37.4,391.2 L37.8,462 L38.5,474.6 C38.83,475.42 39.82,478.13 40.5,479.5 C41.18,480.87 41.93,481.92 42.6,482.8 C43.27,483.68 43.82,484.35 44.5,484.8 C45.18,485.25 46,485.5 46.7,485.5 C47.4,485.5 48.02,485.25 48.7,484.8 C49.38,484.35 50.17,483.77 50.8,482.8 C51.43,481.83 51.93,480.6 52.5,479 C53.07,477.4 53.8,476.37 54.2,473.2 C54.6,470.03 54.78,462.2 54.9,460 L55.3,391.2 L57.4,391.2 L57.6,419 L58.2,391.2 L60.6,391.2 L61,460 C61.12,462.67 61.28,472.75 61.7,476 C62.12,479.25 62.82,478.37 63.5,479.5 C64.18,480.63 65.05,481.83 65.8,482.8 C66.55,483.77 67.2,484.67 68,485.3 C68.8,485.93 69.77,486.57 70.6,486.6 C71.43,486.63 72.22,486.13 73,485.5 C73.78,484.87 74.55,483.88 75.3,482.8 C76.05,481.72 76.88,480.47 77.5,479 C78.12,477.53 78.75,474.83 79,474 L79.4,391.2 L82,391.2 L82.3,470 C82.67,470.83 83.62,473.78 84.5,475 C85.38,476.22 86.62,476.68 87.6,477.3 C88.58,477.92 89.67,479.25 90.4,478.7 C91.13,478.15 91.52,476.28 92,474 C92.48,471.72 93.08,466.5 93.3,465 L93.5,395.2 L93.9,395.2 L94.2,465 C94.3,466.37 94.33,471.12 94.8,473.2 C95.27,475.28 96.2,476.35 97,477.5 C97.8,478.65 98.85,479.85 99.6,480.1 C100.35,480.35 100.82,479.68 101.5,479 C102.18,478.32 103.08,477.17 103.7,476 C104.32,474.83 104.95,472.67 105.2,472 L105.9,391.2 L106.3,391.2 L106.6,465 C106.68,465.92 106.68,469.13 107.1,470.5 C107.52,471.87 108.53,473.03 109.1,473.2 C109.67,473.37 110.08,472.87 110.5,471.5 C110.92,470.13 111.42,466.08 111.6,465 L112.2,391.2 L113.2,391.2 L113.6,465 C113.88,466.6 114.65,472.18 115.3,474.6 C115.95,477.02 116.8,478.18 117.5,479.5 C118.2,480.82 118.85,481.83 119.5,482.5 C120.15,483.17 120.65,483.58 121.4,483.5 C122.15,483.42 123.08,482.68 124,482 C124.92,481.32 126.07,480.4 126.9,479.4 C127.73,478.4 128.32,477.25 129,476 C129.68,474.75 130.53,473.73 131,471.9 C131.47,470.07 131.67,466.15 131.8,465 L132.3,391.2 L135.1,391.2 L135.5,465 C135.65,466.25 135.98,471.5 136.4,472.5 C136.82,473.5 137.6,472.25 138,471 C138.4,469.75 138.67,466 138.8,465 L139.2,391.2 L141.6,391.2 L142,465 C142.08,466.17 142.07,469.95 142.5,472 C142.93,474.05 143.85,476.05 144.6,477.3 C145.35,478.55 146.1,478.93 147,479.5 C147.9,480.07 149.08,480.7 150,480.7 C150.92,480.7 151.73,480.52 152.5,479.5 C153.27,478.48 154.12,477.02 154.6,474.6 C155.08,472.18 155.27,466.6 155.4,465 L155.7,393.2 L156.1,393.2 L156.4,465 C156.55,466.37 156.78,471.28 157.3,473.2 C157.82,475.12 158.82,475.7 159.5,476.5 C160.18,477.3 160.73,477.83 161.4,478 C162.07,478.17 162.82,477.83 163.5,477.5 C164.18,477.17 164.83,476.67 165.5,476 C166.17,475.33 166.82,474.42 167.5,473.5 C168.18,472.58 169.15,471.92 169.6,470.5 C170.05,469.08 170.1,465.92 170.2,465 L170.5,391.2 L170.9,391.2 L171.3,465 C171.58,466.15 172.33,471.9 173,471.9 C173.67,471.9 174.92,466.15 175.3,465 L176.2,391.2 L176.6,391.2 L177,465 C177.37,467.05 178.45,474.47 179.2,477.3 C179.95,480.13 180.78,480.55 181.5,482 C182.22,483.45 182.87,485.07 183.5,486 C184.13,486.93 184.63,487.52 185.3,487.6 C185.97,487.68 186.7,487.3 187.5,486.5 C188.3,485.7 189.27,484.22 190.1,482.8 C190.93,481.38 191.77,479.47 192.5,478 C193.23,476.53 193.95,475.67 194.5,474 C195.05,472.33 195.58,469 195.8,468 L196.5,391.2" fill="none" stroke="#f03030" stroke-width="0.9" stroke-opacity="1.0" stroke-linejoin="miter"/>
<path d="M35.4,469.5 C35.45,469.9 35.35,470.98 35.7,471.9 C36.05,472.82 36.82,474.1 37.5,475 C38.18,475.9 38.73,476.73 39.8,477.3 C40.87,477.87 42.7,478.32 43.9,478.4 C45.1,478.48 45.85,478.1 47,477.8 C48.15,477.5 49.48,477.02 50.8,476.6 C52.12,476.18 53.78,475.65 54.9,475.3 C56.02,474.95 56.6,474.85 57.5,474.5 C58.4,474.15 59.47,473.53 60.3,473.2 C61.13,472.87 61.8,472.87 62.5,472.5 C63.2,472.13 64.07,473.08 64.5,471 C64.93,468.92 65,461.83 65.1,460 L65.2,391.2 L65.6,391.2 L65.8,460 C65.88,462 65.85,469.45 66.3,472 C66.75,474.55 67.8,474.97 68.5,475.3 C69.2,475.63 69.98,474.88 70.5,474 C71.02,473.12 71.42,470.67 71.6,470 L72.1,420.5 L72.5,420.5 L72.8,470 C73.08,470.58 73.85,472.73 74.5,473.5 C75.15,474.27 75.77,474.3 76.7,474.6 C77.63,474.9 79.13,475.4 80.1,475.3 C81.07,475.2 81.75,474.63 82.5,474 C83.25,473.37 84.15,473 84.6,471.5 C85.05,470 85.1,466.08 85.2,465 L85.4,428 L85.8,428 L86.2,465 C86.42,466.17 86.8,470.4 87.5,472 C88.2,473.6 89.32,474.02 90.4,474.6 C91.48,475.18 92.7,475.17 94,475.5 C95.3,475.83 96.87,476.47 98.2,476.6 C99.53,476.73 100.63,476.4 102,476.3 C103.37,476.2 104.75,476.05 106.4,476 C108.05,475.95 110.55,475.87 111.9,476 C113.25,476.13 113.6,476.47 114.5,476.8 C115.4,477.13 116.47,478.05 117.3,478 C118.13,477.95 118.7,477.07 119.5,476.5 C120.3,475.93 121.22,474.68 122.1,474.6 C122.98,474.52 123.77,475.32 124.8,476 C125.83,476.68 127.1,478.25 128.3,478.7 C129.5,479.15 130.42,478.7 132,478.7 C133.58,478.7 135.97,478.62 137.8,478.7 C139.63,478.78 140.97,478.93 143,479.2 C145.03,479.47 148.3,480.15 150,480.3 C151.7,480.45 152.2,480.27 153.2,480.1 C154.2,479.93 155.08,479.53 156,479.3 C156.92,479.07 157.7,478.92 158.7,478.7 C159.7,478.48 160.87,478.23 162,478 C163.13,477.77 164.17,477.3 165.5,477.3 C166.83,477.3 168.18,477.72 170,478 C171.82,478.28 174.73,479.08 176.4,479 C178.07,478.92 178.82,478.17 180,477.5 C181.18,476.83 182.5,475.67 183.5,475 C184.5,474.33 185.17,473.58 186,473.5 C186.83,473.42 187.6,474.08 188.5,474.5 C189.4,474.92 190.48,476.08 191.4,476 C192.32,475.92 193.27,475 194,474 C194.73,473 195.5,470.67 195.8,470 L196.6,391.2" fill="none" stroke="#2020e0" stroke-width="0.9" stroke-opacity="1.0" stroke-linejoin="miter"/>
<line x1="120.8" y1="359.7" x2="139.2" y2="359.7" stroke="#3a3a3a" stroke-width="1"/>
<text x="141.4" y="362.7" font-size="8.5" text-anchor="start" fill="#111" font-family="Liberation Serif, serif" font-weight="bold" ><tspan font-style="italic">N</tspan> = 9</text>
<line x1="120.8" y1="370" x2="139.2" y2="370" stroke="#f03030" stroke-width="1"/>
<text x="141.4" y="373" font-size="8.5" text-anchor="start" fill="#111" font-family="Liberation Serif, serif" font-weight="bold" ><tspan font-style="italic">N</tspan> = 64</text>
<line x1="120.8" y1="380.3" x2="139.2" y2="380.3" stroke="#2020e0" stroke-width="1"/>
<text x="141.4" y="383.3" font-size="8.5" text-anchor="start" fill="#111" font-family="Liberation Serif, serif" font-weight="bold" ><tspan font-style="italic">N</tspan> = 256</text>
<text x="39" y="365.1" font-size="9.5" text-anchor="start" fill="#111" font-family="Liberation Serif, serif" font-weight="bold" >(b3)</text>
<text x="119.3" y="543" font-size="9.5" text-anchor="middle" fill="#111" font-family="Liberation Serif, serif" font-weight="bold" >distance</text>
<text x="10.9" y="434.5" font-size="9.5" text-anchor="middle" fill="#111" font-family="Liberation Serif, serif" font-weight="bold" transform="rotate(-90 10.9 434.5)">Composition</text>
<rect x="255.5" y="353.5" width="169" height="164" fill="none" stroke="#4a4a4a" stroke-width="1"/>
<line x1="255.5" y1="517.5" x2="255.5" y2="514.3" stroke="#4a4a4a" stroke-width="1"/>
<text x="255.5" y="528" font-size="9.5" text-anchor="middle" fill="#111" font-family="Liberation Serif, serif" font-weight="bold" >0.0</text>
<line x1="289.3" y1="517.5" x2="289.3" y2="514.3" stroke="#4a4a4a" stroke-width="1"/>
<text x="289.3" y="528" font-size="9.5" text-anchor="middle" fill="#111" font-family="Liberation Serif, serif" font-weight="bold" >0.2</text>
<line x1="323.1" y1="517.5" x2="323.1" y2="514.3" stroke="#4a4a4a" stroke-width="1"/>
<text x="323.1" y="528" font-size="9.5" text-anchor="middle" fill="#111" font-family="Liberation Serif, serif" font-weight="bold" >0.4</text>
<line x1="356.9" y1="517.5" x2="356.9" y2="514.3" stroke="#4a4a4a" stroke-width="1"/>
<text x="356.9" y="528" font-size="9.5" text-anchor="middle" fill="#111" font-family="Liberation Serif, serif" font-weight="bold" >0.6</text>
<line x1="390.7" y1="517.5" x2="390.7" y2="514.3" stroke="#4a4a4a" stroke-width="1"/>
<text x="390.7" y="528" font-size="9.5" text-anchor="middle" fill="#111" font-family="Liberation Serif, serif" font-weight="bold" >0.8</text>
<line x1="424.5" y1="517.5" x2="424.5" y2="514.3" stroke="#4a4a4a" stroke-width="1"/>
<text x="424.5" y="528" font-size="9.5" text-anchor="middle" fill="#111" font-family="Liberation Serif, serif" font-weight="bold" >1.0</text>
<line x1="272.4" y1="517.5" x2="272.4" y2="515.5" stroke="#4a4a4a" stroke-width="1"/>
<line x1="306.2" y1="517.5" x2="306.2" y2="515.5" stroke="#4a4a4a" stroke-width="1"/>
<line x1="340" y1="517.5" x2="340" y2="515.5" stroke="#4a4a4a" stroke-width="1"/>
<line x1="373.8" y1="517.5" x2="373.8" y2="515.5" stroke="#4a4a4a" stroke-width="1"/>
<line x1="407.6" y1="517.5" x2="407.6" y2="515.5" stroke="#4a4a4a" stroke-width="1"/>
<line x1="255.5" y1="517.5" x2="258.7" y2="517.5" stroke="#4a4a4a" stroke-width="1"/>
<text x="252" y="519.7" font-size="9.5" text-anchor="end" fill="#111" font-family="Liberation Serif, serif" font-weight="bold" >2.0</text>
<line x1="255.5" y1="490.17" x2="258.7" y2="490.17" stroke="#4a4a4a" stroke-width="1"/>
<text x="252" y="492.37" font-size="9.5" text-anchor="end" fill="#111" font-family="Liberation Serif, serif" font-weight="bold" >2.5</text>
<line x1="255.5" y1="462.83" x2="258.7" y2="462.83" stroke="#4a4a4a" stroke-width="1"/>
<text x="252" y="465.03" font-size="9.5" text-anchor="end" fill="#111" font-family="Liberation Serif, serif" font-weight="bold" >3.0</text>
<line x1="255.5" y1="435.5" x2="258.7" y2="435.5" stroke="#4a4a4a" stroke-width="1"/>
<text x="252" y="437.7" font-size="9.5" text-anchor="end" fill="#111" font-family="Liberation Serif, serif" font-weight="bold" >3.5</text>
<line x1="255.5" y1="408.17" x2="258.7" y2="408.17" stroke="#4a4a4a" stroke-width="1"/>
<text x="252" y="410.37" font-size="9.5" text-anchor="end" fill="#111" font-family="Liberation Serif, serif" font-weight="bold" >4.0</text>
<line x1="255.5" y1="380.83" x2="258.7" y2="380.83" stroke="#4a4a4a" stroke-width="1"/>
<text x="252" y="383.03" font-size="9.5" text-anchor="end" fill="#111" font-family="Liberation Serif, serif" font-weight="bold" >4.5</text>
<line x1="255.5" y1="353.5" x2="258.7" y2="353.5" stroke="#4a4a4a" stroke-width="1"/>
<text x="252" y="355.7" font-size="9.5" text-anchor="end" fill="#111" font-family="Liberation Serif, serif" font-weight="bold" >5.0</text>
<line x1="255.5" y1="503.83" x2="257.5" y2="503.83" stroke="#4a4a4a" stroke-width="1"/>
<line x1="255.5" y1="476.5" x2="257.5" y2="476.5" stroke="#4a4a4a" stroke-width="1"/>
<line x1="255.5" y1="449.17" x2="257.5" y2="449.17" stroke="#4a4a4a" stroke-width="1"/>
<line x1="255.5" y1="421.83" x2="257.5" y2="421.83" stroke="#4a4a4a" stroke-width="1"/>
<line x1="255.5" y1="394.5" x2="257.5" y2="394.5" stroke="#4a4a4a" stroke-width="1"/>
<line x1="255.5" y1="367.17" x2="257.5" y2="367.17" stroke="#4a4a4a" stroke-width="1"/>
<path d="M256,472.7 C256.67,471.25 258.67,466.62 260,464 C261.33,461.38 262.47,459.03 264,457 C265.53,454.97 267.22,453.67 269.2,451.8 C271.18,449.93 273.77,447.52 275.9,445.8 C278.03,444.08 279.55,442.83 282,441.5 C284.45,440.17 287.6,438.97 290.6,437.8 C293.6,436.63 296.77,435.67 300,434.5 C303.23,433.33 306.87,431.97 310,430.8 C313.13,429.63 315.47,428.8 318.8,427.5 C322.13,426.2 325.82,424.6 330,423 C334.18,421.4 340.23,419.4 343.9,417.9 C347.57,416.4 349.08,415.6 352,414 C354.92,412.4 358.37,410.67 361.4,408.3 C364.43,405.93 367.75,402.53 370.2,399.8 C372.65,397.07 374.38,394.32 376.1,391.9 C377.82,389.48 379.13,387.35 380.5,385.3 C381.87,383.25 383.12,381.35 384.3,379.6 C385.48,377.85 386.53,376.35 387.6,374.8 C388.67,373.25 389.72,371.55 390.7,370.3 C391.68,369.05 392.47,368.03 393.5,367.3 C394.53,366.57 395.77,365.85 396.9,365.9 C398.03,365.95 399.22,366.57 400.3,367.6 C401.38,368.63 402.48,370.33 403.4,372.1 C404.32,373.87 405.07,375.93 405.8,378.2 C406.53,380.47 407.28,383.47 407.8,385.7 C408.32,387.93 408.72,390.62 408.9,391.6" fill="none" stroke="#000" stroke-width="1.6" stroke-linejoin="round" />
<circle cx="269.2" cy="451.8" r="2" fill="#000"/>
<circle cx="290.6" cy="437.8" r="2" fill="#000"/>
<circle cx="318.8" cy="427.5" r="2" fill="#000"/>
<circle cx="343.9" cy="417.9" r="2" fill="#000"/>
<circle cx="361.4" cy="408.3" r="2" fill="#000"/>
<circle cx="370.2" cy="399.8" r="2" fill="#000"/>
<circle cx="376.1" cy="391.9" r="2" fill="#000"/>
<circle cx="380.5" cy="385.3" r="2" fill="#000"/>
<circle cx="384.3" cy="379.6" r="2" fill="#000"/>
<circle cx="387.6" cy="374.8" r="2" fill="#000"/>
<circle cx="389.03" cy="372.67" r="2" fill="#000"/>
<circle cx="389.95" cy="371.31" r="2" fill="#000"/>
<circle cx="390.85" cy="370.11" r="2" fill="#000"/>
<circle cx="391.81" cy="368.92" r="2" fill="#000"/>
<circle cx="392.91" cy="367.77" r="2" fill="#000"/>
<circle cx="394.14" cy="366.87" r="2" fill="#000"/>
<circle cx="395.51" cy="366.16" r="2" fill="#000"/>
<circle cx="396.9" cy="365.9" r="2" fill="#000"/>
<circle cx="398.27" cy="366.22" r="2" fill="#000"/>
<circle cx="399.64" cy="367.03" r="2" fill="#000"/>
<circle cx="400.79" cy="368.11" r="2" fill="#000"/>
<circle cx="401.75" cy="369.35" r="2" fill="#000"/>
<circle cx="402.53" cy="370.54" r="2" fill="#000"/>
<circle cx="403.26" cy="371.84" r="2" fill="#000"/>
<circle cx="403.93" cy="373.2" r="2" fill="#000"/>
<circle cx="404.55" cy="374.66" r="2" fill="#000"/>
<circle cx="405.13" cy="376.22" r="2" fill="#000"/>
<circle cx="405.69" cy="377.86" r="2" fill="#000"/>
<circle cx="406.13" cy="379.26" r="2" fill="#000"/>
<circle cx="406.57" cy="380.79" r="2" fill="#000"/>
<circle cx="406.98" cy="382.36" r="2" fill="#000"/>
<circle cx="407.37" cy="383.9" r="2" fill="#000"/>
<circle cx="407.72" cy="385.36" r="2" fill="#000"/>
<circle cx="408.02" cy="386.73" r="2" fill="#000"/>
<circle cx="408.3" cy="388.12" r="2" fill="#000"/>
<circle cx="408.58" cy="389.74" r="2" fill="#000"/>
<circle cx="408.84" cy="391.26" r="2" fill="#000"/>
<path d="M256,472.7 C256.67,471.83 258.5,469.03 260,467.5 C261.5,465.97 263.05,464.62 265,463.5 C266.95,462.38 269.37,461.68 271.7,460.8 C274.03,459.92 276.55,458.97 279,458.2 C281.45,457.43 283.57,456.93 286.4,456.2 C289.23,455.47 292.52,454.63 296,453.8 C299.48,452.97 303.63,452.03 307.3,451.2 C310.97,450.37 314.17,449.63 318,448.8 C321.83,447.97 326.63,447.17 330.3,446.2 C333.97,445.23 337.05,443.83 340,443 C342.95,442.17 345.33,441.6 348,441.2 C350.67,440.8 353.33,440.6 356,440.6 C358.67,440.6 361.33,440.55 364,441.2 C366.67,441.85 369.57,443.17 372,444.5 C374.43,445.83 376.68,447.65 378.6,449.2 C380.52,450.75 381.88,452.15 383.5,453.8 C385.12,455.45 386.72,457.15 388.3,459.1 C389.88,461.05 391.42,463.25 393,465.5 C394.58,467.75 396.38,470.43 397.8,472.6 C399.22,474.77 400.22,476.72 401.5,478.5 C402.78,480.28 404.48,482.22 405.5,483.3 C406.52,484.38 407.25,484.72 407.6,485" fill="none" stroke="#ff0000" stroke-width="1.6" stroke-linejoin="round" />
<path d="M271.7,458.2 L274.3,462.88 L269.1,462.88Z" fill="#ff0000"/>
<path d="M307.3,448.6 L309.9,453.28 L304.7,453.28Z" fill="#ff0000"/>
<path d="M330.3,443.6 L332.9,448.28 L327.7,448.28Z" fill="#ff0000"/>
<path d="M345.27,439.09 L347.87,443.77 L342.67,443.77Z" fill="#ff0000"/>
<path d="M352.8,438.1 L355.4,442.78 L350.2,442.78Z" fill="#ff0000"/>
<path d="M359.6,438.04 L362.2,442.72 L357,442.72Z" fill="#ff0000"/>
<path d="M365.62,439.06 L368.22,443.74 L363.02,443.74Z" fill="#ff0000"/>
<path d="M370.49,441.11 L373.09,445.79 L367.89,445.79Z" fill="#ff0000"/>
<path d="M374.82,443.68 L377.42,448.36 L372.22,448.36Z" fill="#ff0000"/>
<path d="M378.31,446.37 L380.91,451.05 L375.71,451.05Z" fill="#ff0000"/>
<path d="M381.4,449.09 L384,453.77 L378.8,453.77Z" fill="#ff0000"/>
<path d="M383.98,451.7 L386.58,456.38 L381.38,456.38Z" fill="#ff0000"/>
<path d="M386.15,454 L388.75,458.68 L383.55,458.68Z" fill="#ff0000"/>
<path d="M388.06,456.21 L390.66,460.89 L385.46,460.89Z" fill="#ff0000"/>
<path d="M389.95,458.63 L392.55,463.31 L387.35,463.31Z" fill="#ff0000"/>
<path d="M391.59,460.89 L394.19,465.57 L388.99,465.57Z" fill="#ff0000"/>
<path d="M393,462.9 L395.6,467.58 L390.4,467.58Z" fill="#ff0000"/>
<path d="M394.22,464.65 L396.82,469.33 L391.62,469.33Z" fill="#ff0000"/>
<path d="M395.46,466.48 L398.06,471.16 L392.86,471.16Z" fill="#ff0000"/>
<path d="M396.68,468.29 L399.28,472.97 L394.07,472.97Z" fill="#ff0000"/>
<path d="M397.8,470 L400.4,474.68 L395.2,474.68Z" fill="#ff0000"/>
<path d="M398.98,471.89 L401.58,476.57 L396.38,476.57Z" fill="#ff0000"/>
<path d="M400.05,473.68 L402.65,478.36 L397.45,478.36Z" fill="#ff0000"/>
<path d="M401.31,475.63 L403.91,480.31 L398.71,480.31Z" fill="#ff0000"/>
<path d="M402.52,477.25 L405.12,481.93 L399.92,481.93Z" fill="#ff0000"/>
<path d="M403.81,478.81 L406.41,483.49 L401.21,483.49Z" fill="#ff0000"/>
<path d="M405.18,480.35 L407.78,485.03 L402.58,485.03Z" fill="#ff0000"/>
<path d="M406.69,481.77 L409.29,486.45 L404.09,486.45Z" fill="#ff0000"/>
<path d="M256,473.8 C256.5,473.17 257.77,471.05 259,470 C260.23,468.95 261.9,468.17 263.4,467.5 C264.9,466.83 266.27,466.35 268,466 C269.73,465.65 271.8,465.55 273.8,465.4 C275.8,465.25 277.55,465.17 280,465.1 C282.45,465.03 285.17,464.97 288.5,465 C291.83,465.03 295.47,465.17 300,465.3 C304.53,465.43 310.3,465.58 315.7,465.8 C321.1,466.02 328.35,466.42 332.4,466.6 C336.45,466.78 336.23,466.38 340,466.9 C343.77,467.42 350,468.58 355,469.7 C360,470.82 365,471.7 370,473.6 C375,475.5 380.48,478.35 385,481.1 C389.52,483.85 393.83,487.6 397.1,490.1 C400.37,492.6 402.35,494.2 404.6,496.1 C406.85,498 409.6,500.6 410.6,501.5" fill="none" stroke="#0000ff" stroke-width="1.6" stroke-linejoin="round" />
<path d="M288.5,467.6 L291.1,462.92 L285.9,462.92Z" fill="#0000ff"/>
<path d="M315.7,468.4 L318.3,463.72 L313.1,463.72Z" fill="#0000ff"/>
<path d="M332.4,469.2 L335,464.52 L329.8,464.52Z" fill="#0000ff"/>
<path d="M345.47,470.39 L348.07,465.71 L342.87,465.71Z" fill="#0000ff"/>
<path d="M353.47,471.96 L356.07,467.28 L350.87,467.28Z" fill="#0000ff"/>
<path d="M360.25,473.44 L362.85,468.76 L357.65,468.76Z" fill="#0000ff"/>
<path d="M366.25,474.95 L368.85,470.27 L363.65,470.27Z" fill="#0000ff"/>
<path d="M371.51,476.8 L374.11,472.12 L368.91,472.12Z" fill="#0000ff"/>
<path d="M376.14,478.87 L378.74,474.19 L373.54,474.19Z" fill="#0000ff"/>
<path d="M379.96,480.82 L382.56,476.14 L377.36,476.14Z" fill="#0000ff"/>
<path d="M383.62,482.87 L386.22,478.19 L381.02,478.19Z" fill="#0000ff"/>
<path d="M386.35,484.55 L388.95,479.87 L383.75,479.87Z" fill="#0000ff"/>
<path d="M388.99,486.38 L391.59,481.7 L386.39,481.7Z" fill="#0000ff"/>
<path d="M391.52,488.29 L394.12,483.61 L388.92,483.61Z" fill="#0000ff"/>
<path d="M393.32,489.71 L395.92,485.03 L390.72,485.03Z" fill="#0000ff"/>
<path d="M395.02,491.07 L397.62,486.39 L392.42,486.39Z" fill="#0000ff"/>
<path d="M396.6,492.32 L399.2,487.64 L394,487.64Z" fill="#0000ff"/>
<path d="M398.04,493.42 L400.64,488.74 L395.44,488.74Z" fill="#0000ff"/>
<path d="M399.33,494.43 L401.93,489.75 L396.73,489.75Z" fill="#0000ff"/>
<path d="M400.87,495.64 L403.47,490.96 L398.27,490.96Z" fill="#0000ff"/>
<path d="M402.27,496.76 L404.87,492.08 L399.67,492.08Z" fill="#0000ff"/>
<path d="M403.6,497.86 L406.2,493.18 L401,493.18Z" fill="#0000ff"/>
<path d="M404.94,498.99 L407.54,494.31 L402.34,494.31Z" fill="#0000ff"/>
<path d="M406.35,500.22 L408.95,495.54 L403.75,495.54Z" fill="#0000ff"/>
<path d="M407.74,501.47 L410.34,496.79 L405.14,496.79Z" fill="#0000ff"/>
<path d="M409,502.63 L411.6,497.95 L406.4,497.95Z" fill="#0000ff"/>
<path d="M410.25,503.78 L412.85,499.1 L407.65,499.1Z" fill="#0000ff"/>
<line x1="270.1" y1="482.8" x2="288.3" y2="482.8" stroke="#000" stroke-width="1.3"/>
<circle cx="279.2" cy="482.8" r="2" fill="#000"/>
<text x="289.8" y="485.8" font-size="8.5" text-anchor="start" fill="#111" font-family="Liberation Serif, serif" font-weight="bold" ><tspan font-style="italic">N</tspan> = 9</text>
<line x1="270.1" y1="492.9" x2="288.3" y2="492.9" stroke="#ff0000" stroke-width="1.3"/>
<path d="M279.2,490.3 L281.8,494.98 L276.6,494.98Z" fill="#ff0000"/>
<text x="289.8" y="495.9" font-size="8.5" text-anchor="start" fill="#111" font-family="Liberation Serif, serif" font-weight="bold" ><tspan font-style="italic">N</tspan> = 64</text>
<line x1="270.1" y1="503" x2="288.3" y2="503" stroke="#0000ff" stroke-width="1.3"/>
<path d="M279.2,505.6 L281.8,500.92 L276.6,500.92Z" fill="#0000ff"/>
<text x="289.8" y="506" font-size="8.5" text-anchor="start" fill="#111" font-family="Liberation Serif, serif" font-weight="bold" ><tspan font-style="italic">N</tspan> = 256</text>
<text x="264.2" y="365.2" font-size="9.5" text-anchor="start" fill="#111" font-family="Liberation Serif, serif" font-weight="bold" >(b4)</text>
<text x="341.4" y="543.2" font-size="9.5" text-anchor="middle" fill="#111" font-family="Liberation Serif, serif" font-weight="bold" >Phase fraction of austenite, <tspan font-style="italic">f</tspan><tspan font-size="6.5" dy="2.5">S,γ</tspan></text>
<text x="234.7" y="434.5" font-size="9.5" text-anchor="middle" fill="#111" font-family="Liberation Serif, serif" font-weight="bold" transform="rotate(-90 234.7 434.5)">Segregation ratio, <tspan font-style="italic">S</tspan><tspan font-size="6.5" dy="2.5">R</tspan><tspan dy="-2.5"> = </tspan><tspan font-style="italic">C</tspan><tspan font-size="6.5" dy="2.5">max</tspan><tspan dy="-2.5">/</tspan><tspan font-style="italic">C</tspan><tspan font-size="6.5" dy="2.5">min</tspan></text>
<g clip-path="url(#ca1)">
<rect x="2.3" y="2.7" width="140.7" height="140.5" fill="#456bca"/>
<ellipse cx="33" cy="33" rx="26" ry="26" fill="url(#ca1g)"/>
<ellipse cx="81" cy="21" rx="20" ry="20" fill="url(#ca1g)"/>
<ellipse cx="125" cy="33" rx="20" ry="26" fill="url(#ca1g)"/>
<ellipse cx="40" cy="78" rx="28" ry="22" fill="url(#ca1g)"/>
<ellipse cx="111" cy="76" rx="24" ry="24" fill="url(#ca1g)"/>
<ellipse cx="72" cy="86" rx="16" ry="16" fill="url(#ca1g)"/>
<ellipse cx="20" cy="108" rx="18" ry="18" fill="url(#ca1g)"/>
<ellipse cx="62" cy="127" rx="20" ry="16" fill="url(#ca1g)"/>
<ellipse cx="110" cy="126" rx="26" ry="18" fill="url(#ca1g)"/>
<g filter="url(#hb)" stroke="#9cb9e6" fill="#9cb9e6" stroke-linecap="round" stroke-linejoin="round">
<path d="M2.3,3.9 L141,3.9" fill="none" stroke-width="11"/>
<path d="M3.9,2.7 L3.9,143.2" fill="none" stroke-width="11"/>
<path d="M17,142.6 L36,142.6" fill="none" stroke-width="9.6"/>
<path d="M46,142.6 L60,142.6" fill="none" stroke-width="9.4"/>
<path d="M75,142.6 L143,142.6" fill="none" stroke-width="9.4"/>
<path d="M90,2.7 L120,2.7 L120,5 Q111,5.5 108,9.5 L106,9.5 Q102,5.5 90,5.5 Z" stroke-width="8"/>
<path d="M142.3,2.7 L142.3,143.2" fill="none" stroke-width="9.4"/>
<path d="M33.2,3 L33.9,15 L34.5,15 L35.2,3Z" stroke-width="8"/>
<path d="M3.64,36.89 L21.56,33.8 L21.44,33 L3.36,34.91Z" stroke-width="8"/>
<path d="M61.5,3 C61.42,4.58 61.67,9.97 61,12.5 C60.33,15.03 58.65,16.48 57.5,18.2 C56.35,19.92 55.23,21.18 54.1,22.8 C52.97,24.42 50.7,26.2 50.7,27.9 C50.7,29.6 52.87,31.38 54.1,33 C55.33,34.62 56.87,36.17 58.1,37.6 C59.33,39.03 60.93,40.93 61.5,41.6" fill="none" stroke-width="9.95"/>
<path d="M59.9,2.95 L60.6,12.98 L61.8,13.02 L63.1,3.05Z" stroke-width="8"/>
<path d="M61.5,41.6 C62.55,41.97 65.52,43.13 67.8,43.8 C70.08,44.47 73.3,45.88 75.2,45.6 C77.1,45.32 77.97,43.63 79.2,42.1 C80.43,40.57 81.65,37.63 82.6,36.4 C83.55,35.17 82.83,34.55 84.9,34.7 C86.97,34.85 92.18,37.02 95,37.3 C97.82,37.58 100.67,36.55 101.8,36.4" fill="none" stroke-width="9.95"/>
<path d="M59.5,42 a2.5,2 0 1,0 5,0 a2.5,2 0 1,0 -5,0Z" stroke-width="8"/>
<path d="M107.5,4 C107.03,5.62 105.37,10.57 104.7,13.7 C104.03,16.83 103.7,20.15 103.5,22.8 C103.3,25.45 103.78,27.33 103.5,29.6 C103.22,31.87 101.42,34.12 101.8,36.4 C102.18,38.68 104.65,41.53 105.8,43.3 C106.95,45.07 107.65,45.77 108.7,47 C109.75,48.23 110.87,49.23 112.1,50.7 C113.33,52.17 114.2,54.82 116.1,55.8 C118,56.78 120.75,56.48 123.5,56.6 C126.25,56.72 129.47,56.43 132.6,56.5 C135.73,56.57 140.68,56.92 142.3,57" fill="none" stroke-width="10.08"/>
<path d="M116.1,56.2 C117.33,56.3 120.75,56.73 123.5,56.8 C126.25,56.87 129.47,56.53 132.6,56.6 C135.73,56.67 140.68,57.1 142.3,57.2" fill="none" stroke-width="11.38"/>
<path d="M101,5.5 a5,3 0 1,0 10,0 a5,3 0 1,0 -10,0Z" stroke-width="8"/>
<path d="M110,6 C110.33,6.33 111.08,6.92 112,8 C112.92,9.08 114.53,11 115.5,12.5 C116.47,14 117.42,16.25 117.8,17" fill="none" stroke-width="9.04"/>
<path d="M3.5,59.8 C4.82,60.57 8.57,63.73 11.4,64.4 C14.23,65.07 17.65,64.18 20.5,63.8 C23.35,63.42 26.22,62.57 28.5,62.1 C30.78,61.63 32.3,61.95 34.2,61 C36.1,60.05 38,57.83 39.9,56.4 C41.8,54.97 43.62,53.17 45.6,52.4 C47.58,51.63 49.82,52.27 51.8,51.8 C53.78,51.33 55.97,50.55 57.5,49.6 C59.03,48.65 60.33,47.43 61,46.1 C61.67,44.77 61.42,42.35 61.5,41.6" fill="none" stroke-width="10.6"/>
<path d="M40.9,56.09 L40.8,50.02 L40.4,49.98 L39.1,55.91Z" stroke-width="8"/>
<path d="M33.1,61.06 L34.2,64.51 L34.6,64.49 L35.3,60.94Z" stroke-width="8"/>
<path d="M2.3,60 a2.2,2.5 0 1,0 4.4,0 a2.2,2.5 0 1,0 -4.4,0Z" stroke-width="8"/>
<path d="M57.5,59.2 C58.65,60.82 62.12,66.33 64.4,68.9 C66.68,71.47 68.93,72.52 71.2,74.6 C73.47,76.68 75.72,79.12 78,81.4 C80.28,83.68 82.62,86.58 84.9,88.3 C87.18,90.02 90.27,90.25 91.7,91.7 C93.13,93.15 93.45,95.12 93.5,97 C93.55,98.88 92.25,102 92,103" fill="none" stroke-width="9.95"/>
<path d="M62,68.9 a2.6,2 0 1,0 5.2,0 a2.6,2 0 1,0 -5.2,0Z" stroke-width="8" transform="rotate(40 64.6 68.9)"/>
<path d="M64.61,70 L72.5,69 L72.5,68.6 L64.59,67.8Z" stroke-width="8"/>
<path d="M65.43,68.35 L60.21,61.86 L59.79,62.14 L63.77,69.45Z" stroke-width="8"/>
<path d="M89.2,92 a2.3,2.3 0 1,0 4.6,0 a2.3,2.3 0 1,0 -4.6,0Z" stroke-width="8"/>
<path d="M89.4,80.3 L90.6,90.6" fill="none" stroke-width="8.91"/>
<path d="M92.5,67.5 C92.92,67.07 93.82,65.98 95,64.9 C96.18,63.82 98.18,62.42 99.6,61 C101.02,59.58 102.85,57.17 103.5,56.4" fill="none" stroke-width="9.69"/>
<path d="M3.5,86 C4.82,86.47 8.65,87.95 11.4,88.8 C14.15,89.65 17.73,90.52 20,91.1 C22.27,91.68 23.28,91.72 25,92.3 C26.72,92.88 28.67,93.47 30.3,94.6 C31.93,95.73 33.38,97.78 34.8,99.1 C36.22,100.42 37.1,102.4 38.8,102.5 C40.5,102.6 42.63,100.65 45,99.7 C47.37,98.75 50.72,97 53,96.8 C55.28,96.6 57.08,97.35 58.7,98.5 C60.32,99.65 60.23,103.03 62.7,103.7 C65.17,104.37 70.18,102.7 73.5,102.5 C76.82,102.3 80.13,101.92 82.6,102.5 C85.07,103.08 86.23,105.38 88.3,106 C90.37,106.62 93.88,106.17 95,106.2" fill="none" stroke-width="10.6"/>
<path d="M27.5,94.5 a2.5,2 0 1,0 5,0 a2.5,2 0 1,0 -5,0Z" stroke-width="8"/>
<path d="M61.5,104 a2.5,2 0 1,0 5,0 a2.5,2 0 1,0 -5,0Z" stroke-width="8"/>
<path d="M83,102.5 Q88,104 90.5,99.5 Q92,103.5 96,104 L96,108.5 Q94,110 97.5,114.5 Q92,111 88,113 Q86.5,110 83,110.5 Q86,106.5 83,102.5 Z" stroke-width="8"/>
<path d="M95,107.5 L114,106.3 L114,105.7 L95,104.5Z" stroke-width="8"/>
<path d="M62.7,103.7 C62.42,104.83 61.85,108.42 61,110.5 C60.15,112.58 58.83,114.4 57.6,116.2 C56.37,118 54.27,120.45 53.6,121.3" fill="none" stroke-width="9.95"/>
<path d="M43.9,124.9 L50.8,124.5" fill="none" stroke-width="10.08"/>
<path d="M34.8,143 C35.18,141.77 36.25,137.88 37.1,135.6 C37.95,133.32 39.43,130.35 39.9,129.3" fill="none" stroke-width="10.08"/>
<path d="M3.59,120.6 L24.54,118 L24.46,117.2 L3.41,118.6Z" stroke-width="8"/>
<path d="M86,111 C85.62,111.67 85.03,113 83.7,115 C82.37,117 79.52,120.9 78,123 C76.48,125.1 75.07,125.5 74.6,127.6 C74.13,129.7 74.63,133.13 75.2,135.6 C75.77,138.07 77.53,141.27 78,142.4" fill="none" stroke-width="10.6"/>
<path d="M94.35,112.22 L97.36,114.34 L97.64,114.06 L95.65,110.98Z" stroke-width="8"/>
<path d="M140.8,97.22 L122.27,101.2 L122.33,101.6 L141.2,99.78Z" stroke-width="8"/>
<path d="M139.2,100 a1.8,3 0 1,0 3.6,0 a1.8,3 0 1,0 -3.6,0Z" stroke-width="8"/>
<path d="M139.2,120.5 a1.8,3 0 1,0 3.6,0 a1.8,3 0 1,0 -3.6,0Z" stroke-width="8"/>
<path d="M141,119.1 L136,119.95 L136,120.45 L141,121.3Z" stroke-width="8"/>
<path d="M130.3,87.1 C131.08,87.58 133.67,89.05 135,90 C136.33,90.95 137.13,91.97 138.3,92.8 C139.47,93.63 141.38,94.63 142,95" fill="none" stroke-width="9.17"/>
<path d="M91.6,10.8 a0.7,0.7 0 1,0 1.4,0 a0.7,0.7 0 1,0 -1.4,0Z" stroke-width="8"/>
</g>
<g stroke="#b00010" fill="#b00010" stroke-linecap="round" stroke-linejoin="round">
<path d="M2.3,3.9 L141,3.9" fill="none" stroke-width="3"/>
<path d="M3.9,2.7 L3.9,143.2" fill="none" stroke-width="3"/>
<path d="M17,142.6 L36,142.6" fill="none" stroke-width="1.6"/>
<path d="M46,142.6 L60,142.6" fill="none" stroke-width="1.4"/>
<path d="M75,142.6 L143,142.6" fill="none" stroke-width="1.4"/>
<path d="M90,2.7 L120,2.7 L120,5 Q111,5.5 108,9.5 L106,9.5 Q102,5.5 90,5.5 Z" stroke="none"/>
<path d="M142.3,2.7 L142.3,143.2" fill="none" stroke-width="1.4"/>
<path d="M33.2,3 L33.9,15 L34.5,15 L35.2,3Z" stroke="none"/>
<path d="M3.64,36.89 L21.56,33.8 L21.44,33 L3.36,34.91Z" stroke="none"/>
<path d="M61.5,3 C61.42,4.58 61.67,9.97 61,12.5 C60.33,15.03 58.65,16.48 57.5,18.2 C56.35,19.92 55.23,21.18 54.1,22.8 C52.97,24.42 50.7,26.2 50.7,27.9 C50.7,29.6 52.87,31.38 54.1,33 C55.33,34.62 56.87,36.17 58.1,37.6 C59.33,39.03 60.93,40.93 61.5,41.6" fill="none" stroke-width="1.95"/>
<path d="M59.9,2.95 L60.6,12.98 L61.8,13.02 L63.1,3.05Z" stroke="none"/>
<path d="M61.5,41.6 C62.55,41.97 65.52,43.13 67.8,43.8 C70.08,44.47 73.3,45.88 75.2,45.6 C77.1,45.32 77.97,43.63 79.2,42.1 C80.43,40.57 81.65,37.63 82.6,36.4 C83.55,35.17 82.83,34.55 84.9,34.7 C86.97,34.85 92.18,37.02 95,37.3 C97.82,37.58 100.67,36.55 101.8,36.4" fill="none" stroke-width="1.95"/>
<path d="M59.5,42 a2.5,2 0 1,0 5,0 a2.5,2 0 1,0 -5,0Z" stroke="none"/>
<path d="M107.5,4 C107.03,5.62 105.37,10.57 104.7,13.7 C104.03,16.83 103.7,20.15 103.5,22.8 C103.3,25.45 103.78,27.33 103.5,29.6 C103.22,31.87 101.42,34.12 101.8,36.4 C102.18,38.68 104.65,41.53 105.8,43.3 C106.95,45.07 107.65,45.77 108.7,47 C109.75,48.23 110.87,49.23 112.1,50.7 C113.33,52.17 114.2,54.82 116.1,55.8 C118,56.78 120.75,56.48 123.5,56.6 C126.25,56.72 129.47,56.43 132.6,56.5 C135.73,56.57 140.68,56.92 142.3,57" fill="none" stroke-width="2.08"/>
<path d="M116.1,56.2 C117.33,56.3 120.75,56.73 123.5,56.8 C126.25,56.87 129.47,56.53 132.6,56.6 C135.73,56.67 140.68,57.1 142.3,57.2" fill="none" stroke-width="3.38"/>
<path d="M101,5.5 a5,3 0 1,0 10,0 a5,3 0 1,0 -10,0Z" stroke="none"/>
<path d="M110,6 C110.33,6.33 111.08,6.92 112,8 C112.92,9.08 114.53,11 115.5,12.5 C116.47,14 117.42,16.25 117.8,17" fill="none" stroke-width="1.04"/>
<path d="M3.5,59.8 C4.82,60.57 8.57,63.73 11.4,64.4 C14.23,65.07 17.65,64.18 20.5,63.8 C23.35,63.42 26.22,62.57 28.5,62.1 C30.78,61.63 32.3,61.95 34.2,61 C36.1,60.05 38,57.83 39.9,56.4 C41.8,54.97 43.62,53.17 45.6,52.4 C47.58,51.63 49.82,52.27 51.8,51.8 C53.78,51.33 55.97,50.55 57.5,49.6 C59.03,48.65 60.33,47.43 61,46.1 C61.67,44.77 61.42,42.35 61.5,41.6" fill="none" stroke-width="2.6"/>
<path d="M40.9,56.09 L40.8,50.02 L40.4,49.98 L39.1,55.91Z" stroke="none"/>
<path d="M33.1,61.06 L34.2,64.51 L34.6,64.49 L35.3,60.94Z" stroke="none"/>
<path d="M2.3,60 a2.2,2.5 0 1,0 4.4,0 a2.2,2.5 0 1,0 -4.4,0Z" stroke="none"/>
<path d="M57.5,59.2 C58.65,60.82 62.12,66.33 64.4,68.9 C66.68,71.47 68.93,72.52 71.2,74.6 C73.47,76.68 75.72,79.12 78,81.4 C80.28,83.68 82.62,86.58 84.9,88.3 C87.18,90.02 90.27,90.25 91.7,91.7 C93.13,93.15 93.45,95.12 93.5,97 C93.55,98.88 92.25,102 92,103" fill="none" stroke-width="1.95"/>
<path d="M62,68.9 a2.6,2 0 1,0 5.2,0 a2.6,2 0 1,0 -5.2,0Z" stroke="none" transform="rotate(40 64.6 68.9)"/>
<path d="M64.61,70 L72.5,69 L72.5,68.6 L64.59,67.8Z" stroke="none"/>
<path d="M65.43,68.35 L60.21,61.86 L59.79,62.14 L63.77,69.45Z" stroke="none"/>
<path d="M89.2,92 a2.3,2.3 0 1,0 4.6,0 a2.3,2.3 0 1,0 -4.6,0Z" stroke="none"/>
<path d="M89.4,80.3 L90.6,90.6" fill="none" stroke-width="0.91"/>
<path d="M92.5,67.5 C92.92,67.07 93.82,65.98 95,64.9 C96.18,63.82 98.18,62.42 99.6,61 C101.02,59.58 102.85,57.17 103.5,56.4" fill="none" stroke-width="1.69"/>
<path d="M3.5,86 C4.82,86.47 8.65,87.95 11.4,88.8 C14.15,89.65 17.73,90.52 20,91.1 C22.27,91.68 23.28,91.72 25,92.3 C26.72,92.88 28.67,93.47 30.3,94.6 C31.93,95.73 33.38,97.78 34.8,99.1 C36.22,100.42 37.1,102.4 38.8,102.5 C40.5,102.6 42.63,100.65 45,99.7 C47.37,98.75 50.72,97 53,96.8 C55.28,96.6 57.08,97.35 58.7,98.5 C60.32,99.65 60.23,103.03 62.7,103.7 C65.17,104.37 70.18,102.7 73.5,102.5 C76.82,102.3 80.13,101.92 82.6,102.5 C85.07,103.08 86.23,105.38 88.3,106 C90.37,106.62 93.88,106.17 95,106.2" fill="none" stroke-width="2.6"/>
<path d="M27.5,94.5 a2.5,2 0 1,0 5,0 a2.5,2 0 1,0 -5,0Z" stroke="none"/>
<path d="M61.5,104 a2.5,2 0 1,0 5,0 a2.5,2 0 1,0 -5,0Z" stroke="none"/>
<path d="M83,102.5 Q88,104 90.5,99.5 Q92,103.5 96,104 L96,108.5 Q94,110 97.5,114.5 Q92,111 88,113 Q86.5,110 83,110.5 Q86,106.5 83,102.5 Z" stroke="none"/>
<path d="M95,107.5 L114,106.3 L114,105.7 L95,104.5Z" stroke="none"/>
<path d="M62.7,103.7 C62.42,104.83 61.85,108.42 61,110.5 C60.15,112.58 58.83,114.4 57.6,116.2 C56.37,118 54.27,120.45 53.6,121.3" fill="none" stroke-width="1.95"/>
<path d="M43.9,124.9 L50.8,124.5" fill="none" stroke-width="2.08"/>
<path d="M34.8,143 C35.18,141.77 36.25,137.88 37.1,135.6 C37.95,133.32 39.43,130.35 39.9,129.3" fill="none" stroke-width="2.08"/>
<path d="M3.59,120.6 L24.54,118 L24.46,117.2 L3.41,118.6Z" stroke="none"/>
<path d="M86,111 C85.62,111.67 85.03,113 83.7,115 C82.37,117 79.52,120.9 78,123 C76.48,125.1 75.07,125.5 74.6,127.6 C74.13,129.7 74.63,133.13 75.2,135.6 C75.77,138.07 77.53,141.27 78,142.4" fill="none" stroke-width="2.6"/>
<path d="M94.35,112.22 L97.36,114.34 L97.64,114.06 L95.65,110.98Z" stroke="none"/>
<path d="M140.8,97.22 L122.27,101.2 L122.33,101.6 L141.2,99.78Z" stroke="none"/>
<path d="M139.2,100 a1.8,3 0 1,0 3.6,0 a1.8,3 0 1,0 -3.6,0Z" stroke="none"/>
<path d="M139.2,120.5 a1.8,3 0 1,0 3.6,0 a1.8,3 0 1,0 -3.6,0Z" stroke="none"/>
<path d="M141,119.1 L136,119.95 L136,120.45 L141,121.3Z" stroke="none"/>
<path d="M130.3,87.1 C131.08,87.58 133.67,89.05 135,90 C136.33,90.95 137.13,91.97 138.3,92.8 C139.47,93.63 141.38,94.63 142,95" fill="none" stroke-width="1.17"/>
<path d="M91.6,10.8 a0.7,0.7 0 1,0 1.4,0 a0.7,0.7 0 1,0 -1.4,0Z" stroke="none"/>
</g>
</g>
<text x="8.6" y="14.2" font-size="10" text-anchor="start" fill="#e8e81c" font-family="Liberation Serif, serif" font-weight="bold" stroke="#e8e81c" stroke-width="0.35">(a1)</text>
<rect x="111" y="136.6" width="28.2" height="2.2" fill="#000"/>
<text x="114.3" y="134" font-size="7.6" font-family="Liberation Serif, serif" fill="#111" xml:space="preserve">50  μm</text>
<g clip-path="url(#ca2)">
<rect x="148.8" y="1.8" width="142.2" height="142.6" fill="#5f87d4"/>
<g filter="url(#ca2f)" stroke="#80a6e4" stroke-width="1.4" stroke-linejoin="round">
<path d="M172.82,1.8 L177.3,29.14 L173.79,33.14 L148.8,36.3 L148.8,1.8Z" fill="url(#ca2g)"/>
<path d="M210.49,1.8 L172.82,1.8 L177.3,29.14 L195.69,31.34 L209.82,18.22Z" fill="url(#ca2g)"/>
<path d="M210.49,1.8 L209.82,18.22 L228.99,37.39 L238.9,33.41 L243.34,1.8Z" fill="url(#ca2g)"/>
<path d="M257.09,39.41 L238.9,33.41 L243.34,1.8 L265.25,1.8 L265.25,31.25Z" fill="url(#ca2g)"/>
<path d="M291,1.8 L265.25,1.8 L265.25,31.25 L291,34.98Z" fill="url(#ca2g)"/>
<path d="M148.8,36.3 L173.79,33.14 L176.89,54.51 L171.17,60.23 L148.8,57Z" fill="url(#ca2g)"/>
<path d="M177.3,29.14 L195.69,31.34 L201.47,51.69 L195.2,57.08 L176.89,54.51 L173.79,33.14Z" fill="url(#ca2g)"/>
<path d="M201.47,51.69 L195.69,31.34 L209.82,18.22 L228.99,37.39 L224.15,49.46 L218,53.55Z" fill="url(#ca2g)"/>
<path d="M241.56,63.53 L224.15,49.46 L228.99,37.39 L238.9,33.41 L257.09,39.41 L260.11,54.3Z" fill="url(#ca2g)"/>
<path d="M260.11,54.3 L257.09,39.41 L265.25,31.25 L291,34.98 L291,55.54 L265.25,58.79Z" fill="url(#ca2g)"/>
<path d="M148.8,57 L148.8,83.8 L174.04,80.15 L174.05,80.14 L171.17,60.23Z" fill="url(#ca2g)"/>
<path d="M195.2,77.18 L174.05,80.14 L171.17,60.23 L176.89,54.51 L195.2,57.08Z" fill="url(#ca2g)"/>
<path d="M195.2,77.18 L195.2,57.08 L201.47,51.69 L218,53.55 L218,76.26 L200,81.29Z" fill="url(#ca2g)"/>
<path d="M218,76.26 L223.31,80.06 L239.97,74.45 L241.56,63.53 L224.15,49.46 L218,53.55Z" fill="url(#ca2g)"/>
<path d="M264.05,81.8 L247.37,81.8 L239.97,74.45 L241.56,63.53 L260.11,54.3 L265.25,58.79 L265.25,80.2Z" fill="url(#ca2g)"/>
<path d="M265.25,80.2 L265.25,58.79 L291,55.54 L291,80.2Z" fill="url(#ca2g)"/>
<path d="M177.03,101.4 L174.04,80.15 L148.8,83.8 L148.8,104.5 L171.84,107.41Z" fill="url(#ca2g)"/>
<path d="M200,101.4 L200,81.29 L195.2,77.18 L174.05,80.14 L174.04,80.15 L177.03,101.4Z" fill="url(#ca2g)"/>
<path d="M217.91,103.77 L200.23,101.66 L200,101.4 L200,81.29 L218,76.26 L223.31,80.06 L225.89,98.03Z" fill="url(#ca2g)"/>
<path d="M225.89,98.03 L223.31,80.06 L239.97,74.45 L247.37,81.8 L239.48,101.46Z" fill="url(#ca2g)"/>
<path d="M264.05,81.8 L247.37,81.8 L239.48,101.46 L242.77,105.29 L259.33,107.32 L266.03,97.95Z" fill="url(#ca2g)"/>
<path d="M264.05,81.8 L266.03,97.95 L291,102.18 L291,80.2 L265.25,80.2Z" fill="url(#ca2g)"/>
<path d="M171.84,107.41 L148.8,104.5 L148.8,142.41 L175.28,121.16Z" fill="url(#ca2g)"/>
<path d="M197.13,123.87 L200.23,101.66 L200,101.4 L177.03,101.4 L171.84,107.41 L175.28,121.16 L190.3,129.76Z" fill="url(#ca2g)"/>
<path d="M197.13,123.87 L200.23,101.66 L217.91,103.77 L221.77,127.33 L221.3,127.96Z" fill="url(#ca2g)"/>
<path d="M242.77,105.29 L239.48,101.46 L225.89,98.03 L217.91,103.77 L221.77,127.33 L236.92,122.92Z" fill="url(#ca2g)"/>
<path d="M242.77,105.29 L236.92,122.92 L254.15,136.75 L263.95,119.57 L259.33,107.32Z" fill="url(#ca2g)"/>
<path d="M266.03,97.95 L259.33,107.32 L263.95,119.57 L291,123.37 L291,102.18Z" fill="url(#ca2g)"/>
<path d="M190.3,129.76 L190.3,144.4 L148.8,144.4 L148.8,142.41 L175.28,121.16Z" fill="url(#ca2g)"/>
<path d="M197.13,123.87 L221.3,127.96 L221.3,144.4 L190.3,144.4 L190.3,129.76Z" fill="url(#ca2g)"/>
<path d="M221.3,127.96 L221.77,127.33 L236.92,122.92 L254.15,136.75 L254.84,144.4 L221.3,144.4Z" fill="url(#ca2g)"/>
<path d="M263.95,119.57 L291,123.37 L291,144.4 L254.84,144.4 L254.15,136.75Z" fill="url(#ca2g)"/>
</g>
<g filter="url(#hb2)" stroke="#7ea6e2" fill="#7ea6e2" stroke-linecap="round" stroke-linejoin="round">
<path d="M149.8,1.8 L149.8,144.4" fill="none" stroke-width="4.5"/>
<path d="M148.8,143.7 L291,143.7" fill="none" stroke-width="3.9"/>
<path d="M290.2,1.8 L290.2,144.4" fill="none" stroke-width="3.5"/>
<path d="M289.8,27 L289.8,54" fill="none" stroke-width="4.9"/>
<path d="M148.92,12.6 L155.97,12.4 L156.03,11.6 L149.08,10.4Z" stroke-width="2.5"/>
<path d="M167.6,8 C168.47,7.8 170.9,6.63 172.8,6.8 C174.7,6.97 177.3,8.13 179,9 C180.7,9.87 182.08,10.67 183,12 C183.92,13.33 184.25,16.17 184.5,17" fill="none" stroke-width="4.95"/>
<path d="M172.8,3 L172.8,7" fill="none" stroke-width="4.73"/>
<path d="M179,10.5 L188,12.5" fill="none" stroke-width="4.28"/>
<path d="M187,20.5 L191.6,23.5 L188,24.5 Z" stroke-width="2.5"/>
<path d="M169.2,24 a0.8,0.8 0 1,0 1.6,0 a0.8,0.8 0 1,0 -1.6,0Z" stroke-width="2.5"/>
<path d="M172.7,21.6 a0.6,0.6 0 1,0 1.2,0 a0.6,0.6 0 1,0 -1.2,0Z" stroke-width="2.5"/>
<path d="M149.38,27.99 L160.78,28.15 L160.82,27.65 L149.62,25.61Z" stroke-width="2.5"/>
<path d="M179.6,36.4 L178.5,43.8" fill="none" stroke-width="3.61"/>
<path d="M150,34 C150.08,35.73 149.27,42.28 150.5,44.4 C151.73,46.52 155.32,46.35 157.4,46.7 C159.48,47.05 162.07,46.53 163,46.5" fill="none" stroke-width="5.17"/>
<path d="M168.8,49.6 C170.13,49.78 174.33,50.9 176.8,50.7 C179.27,50.5 181.4,49.02 183.6,48.4 C185.8,47.78 187.85,47.32 190,47 C192.15,46.68 195.42,46.58 196.5,46.5" fill="none" stroke-width="4.73"/>
<path d="M179,44.5 C178.63,45.53 177.08,48.33 176.8,50.7 C176.52,53.07 177.22,57.37 177.3,58.7" fill="none" stroke-width="4.73"/>
<path d="M205.5,3 C206.58,3.08 209.92,2.87 212,3.5 C214.08,4.13 216.7,5.48 218,6.8 C219.3,8.12 218.8,10.78 219.8,11.4 C220.8,12.02 222.4,10.88 224,10.5 C225.6,10.12 228.5,9.33 229.4,9.1" fill="none" stroke-width="4.95"/>
<path d="M233,7 C233.83,6.58 236.33,5.17 238,4.5 C239.67,3.83 242.17,3.25 243,3" fill="none" stroke-width="5.39"/>
<path d="M237.4,14.8 C237.67,15.67 238.43,18.1 239,20 C239.57,21.9 240.03,24.4 240.8,26.2 C241.57,28 243.13,30.03 243.6,30.8" fill="none" stroke-width="3.61"/>
<path d="M199.8,31.9 C200.83,31.75 203.9,31.38 206,31 C208.1,30.62 210.77,29.07 212.4,29.6 C214.03,30.13 214.95,32.68 215.8,34.2 C216.65,35.72 217.13,37 217.5,38.7 C217.87,40.4 217.92,43.45 218,44.4" fill="none" stroke-width="4.95"/>
<path d="M214.09,30.12 L213.7,25.52 L213.3,25.48 L211.91,29.88Z" stroke-width="2.5"/>
<path d="M199.8,31.9 L201,41" fill="none" stroke-width="4.5"/>
<path d="M227.2,40.4 C228.5,40.08 232.37,39.17 235,38.5 C237.63,37.83 240.2,36.9 243,36.4 C245.8,35.9 248.95,36.03 251.8,35.5 C254.65,34.97 258.72,33.58 260.1,33.2" fill="none" stroke-width="5.17"/>
<path d="M242.4,7.1 C243.78,7.8 248.13,10.7 250.7,11.3 C253.27,11.9 256.03,9.82 257.8,10.7 C259.57,11.58 260.32,14.63 261.3,16.6 C262.28,18.57 262.92,20.72 263.7,22.5 C264.48,24.28 264.03,25.92 266,27.3 C267.97,28.68 273.92,30.22 275.5,30.8" fill="none" stroke-width="4.5"/>
<path d="M260.1,33.2 C260.1,34.58 260.1,38.7 260.1,41.5 C260.1,44.3 259.9,47.25 260.1,50 C260.3,52.75 261.1,56.67 261.3,58" fill="none" stroke-width="5.84"/>
<path d="M281.5,2.4 C281.92,3.17 283.22,5.43 284,7 C284.78,8.57 285.23,10.6 286.2,11.8 C287.17,13 289.2,13.8 289.8,14.2" fill="none" stroke-width="3.61"/>
<path d="M261.3,56 C262.68,55.75 266.43,55.05 269.6,54.5 C272.77,53.95 276.93,53.1 280.3,52.7 C283.67,52.3 288.22,52.2 289.8,52.1" fill="none" stroke-width="5.39"/>
<path d="M261.3,58 C260.12,58.6 256.57,60.6 254.2,61.6 C251.83,62.6 248.97,62.93 247.1,64 C245.23,65.07 243.68,67.33 243,68" fill="none" stroke-width="4.28"/>
<path d="M227.2,65.5 C228.5,65.75 232.37,66.43 235,67 C237.63,67.57 241.67,68.58 243,68.9" fill="none" stroke-width="5.84"/>
<path d="M239.2,69 a2.8,3 0 1,0 5.6,0 a2.8,3 0 1,0 -5.6,0Z" stroke-width="2.5"/>
<path d="M267.3,64.5 L270.8,72.3" fill="none" stroke-width="3.61"/>
<path d="M282,60.4 L282.7,65.7" fill="none" stroke-width="3.51"/>
<path d="M263.7,80.5 C265.08,80.33 269.28,79.75 272,79.5 C274.72,79.25 277.03,79.12 280,79 C282.97,78.88 288.17,78.83 289.8,78.8" fill="none" stroke-width="5.39"/>
<path d="M264.2,80.5 L264.9,88.8" fill="none" stroke-width="4.73"/>
<path d="M277.9,80.5 C277.92,81.75 277.9,85.58 278,88 C278.1,90.42 278.42,93.83 278.5,95" fill="none" stroke-width="4.28"/>
<path d="M260,91.8 a0.7,0.7 0 1,0 1.4,0 a0.7,0.7 0 1,0 -1.4,0Z" stroke-width="2.5"/>
<path d="M150.39,71.8 L163.68,72.05 L163.72,71.55 L150.61,69.4Z" stroke-width="2.5"/>
<path d="M173.3,68.3 C173.83,69.42 175.35,72.72 176.5,75 C177.65,77.28 179.58,80.83 180.2,82" fill="none" stroke-width="4.06"/>
<path d="M180.2,82 L168.8,85.4" fill="none" stroke-width="4.06"/>
<path d="M180.2,82 C181.15,82.38 184.38,83.25 185.9,84.3 C187.42,85.35 187.62,87.07 189.3,88.3 C190.98,89.53 194.88,91.13 196,91.7" fill="none" stroke-width="4.5"/>
<path d="M185.9,84.3 C185.58,85.25 184.38,88.22 184,90 C183.62,91.78 183.87,93.53 183.6,95 C183.33,96.47 182.6,98.17 182.4,98.8" fill="none" stroke-width="4.28"/>
<path d="M193.8,45 C193.92,45.83 194.38,48.1 194.5,50 C194.62,51.9 194.5,55.33 194.5,56.4" fill="none" stroke-width="5.39"/>
<path d="M196.4,61 C197.67,61.08 201.53,61.32 204,61.5 C206.47,61.68 210,62 211.2,62.1" fill="none" stroke-width="5.17"/>
<path d="M196.4,59.8 C196.78,61.13 198.13,65.72 198.7,67.8 C199.27,69.88 200.25,71.02 199.8,72.3 C199.35,73.58 197.13,74.55 196,75.5 C194.87,76.45 193.5,77.58 193,78" fill="none" stroke-width="3.61"/>
<path d="M220.3,48.4 C220.08,49.33 219.38,52.28 219,54 C218.62,55.72 218.17,57.92 218,58.7" fill="none" stroke-width="4.28"/>
<path d="M218,58.7 L215.8,64.4" fill="none" stroke-width="4.28"/>
<path d="M217.76,59.77 L222.96,60 L223.04,59.6 L218.24,57.63Z" stroke-width="2.5"/>
<path d="M236.8,48.4 C236.7,49.67 236.38,53.53 236.2,56 C236.02,58.47 235.78,62 235.7,63.2" fill="none" stroke-width="3.84"/>
<path d="M237.4,74.6 C237.67,76.17 238.43,80.97 239,84 C239.57,87.03 240.38,89.97 240.8,92.8 C241.22,95.63 241.38,99.63 241.5,101" fill="none" stroke-width="4.95"/>
<path d="M212.1,74.4 a0.8,0.8 0 1,0 1.6,0 a0.8,0.8 0 1,0 -1.6,0Z" stroke-width="2.5"/>
<path d="M215.2,79.2 C215.1,80.17 214.78,82.92 214.6,85 C214.42,87.08 214.18,90.58 214.1,91.7" fill="none" stroke-width="4.06"/>
<path d="M159.7,90.6 L163,95" fill="none" stroke-width="4.28"/>
<path d="M193,88.3 C193.83,88.75 196.28,90.05 198,91 C199.72,91.95 201.3,93.5 203.3,94 C205.3,94.5 208.88,94 210,94" fill="none" stroke-width="5.17"/>
<path d="M202.1,94.3 L203.3,102.3" fill="none" stroke-width="4.73"/>
<path d="M218,94.3 C219,94.33 221.9,94.5 224,94.5 C226.1,94.5 229.5,94.33 230.6,94.3" fill="none" stroke-width="4.95"/>
<path d="M222.6,95.4 C222.42,96.17 221.78,98.48 221.5,100 C221.22,101.52 221,103.75 220.9,104.5" fill="none" stroke-width="4.5"/>
<path d="M242.4,100.9 C243.5,100.83 246.63,100.7 249,100.5 C251.37,100.3 255.33,99.83 256.6,99.7" fill="none" stroke-width="4.95"/>
<path d="M240,113.3 L242.4,120.4" fill="none" stroke-width="4.5"/>
<path d="M261.3,103.8 C261.7,104.8 262.7,107.82 263.7,109.8 C264.7,111.78 265.92,114.53 267.3,115.7 C268.68,116.87 270.23,116.5 272,116.8 C273.77,117.1 276.92,117.38 277.9,117.5" fill="none" stroke-width="4.5"/>
<path d="M267.3,115.7 C266.3,116.58 263.18,119.9 261.3,121 C259.42,122.1 257.58,121.9 256,122.3 C254.42,122.7 252.5,123.22 251.8,123.4" fill="none" stroke-width="4.5"/>
<path d="M251.8,123.4 C252.4,124.68 254.7,127.67 255.4,131.1 C256.1,134.53 255.9,141.85 256,144" fill="none" stroke-width="4.73"/>
<path d="M277.9,117.5 C278.3,119.17 279.5,123.45 280.3,127.5 C281.1,131.55 282.3,139.42 282.7,141.8" fill="none" stroke-width="4.5"/>
<path d="M283.8,115.7 C284.5,115.42 286.63,114.5 288,114 C289.37,113.5 291.33,112.92 292,112.7" fill="none" stroke-width="5.39"/>
<path d="M279.1,92 L279.1,95.6" fill="none" stroke-width="3.51"/>
<path d="M283.8,101.5 L284.4,107.4" fill="none" stroke-width="3.51"/>
<path d="M167.6,100.5 C168.67,100.58 171.9,100.9 174,101 C176.1,101.1 179.17,101.08 180.2,101.1" fill="none" stroke-width="5.17"/>
<path d="M173.3,110.2 C173.5,111 174.12,113.48 174.5,115 C174.88,116.52 175.42,118.58 175.6,119.3" fill="none" stroke-width="4.95"/>
<path d="M169.9,122.2 C170.85,121.72 173.92,119.42 175.6,119.3 C177.28,119.18 178.48,120.92 180,121.5 C181.52,122.08 183.92,122.58 184.7,122.8" fill="none" stroke-width="4.73"/>
<path d="M173.4,119.5 a2,2 0 1,0 4,0 a2,2 0 1,0 -4,0Z" stroke-width="2.5"/>
<path d="M150.84,122.75 L162.07,118.44 L161.93,117.96 L150.16,120.45Z" stroke-width="2.5"/>
<path d="M175.6,133 L175.6,143.8" fill="none" stroke-width="4.73"/>
<path d="M192.7,121.6 C192.92,122.5 193.62,125.1 194,127 C194.38,128.9 194.83,132 195,133" fill="none" stroke-width="4.28"/>
<path d="M193,120.5 L197.6,117" fill="none" stroke-width="4.5"/>
<path d="M197.6,117 C198.5,117.5 201.1,119.03 203,120 C204.9,120.97 208,122.33 209,122.8" fill="none" stroke-width="4.73"/>
<path d="M197.6,117 C197.02,119.1 194.48,126.37 194.1,129.6 C193.72,132.83 195.1,135.27 195.3,136.4" fill="none" stroke-width="4.28"/>
<path d="M219.8,114.8 C219.75,116.17 219.6,120.35 219.5,123 C219.4,125.65 219.07,127.23 219.2,130.7 C219.33,134.17 220.12,141.62 220.3,143.8" fill="none" stroke-width="4.95"/>
<path d="M219.2,130.7 L226,129.6" fill="none" stroke-width="4.5"/>
<path d="M228.3,126.2 C229.58,125.58 233.55,123.65 236,122.5 C238.45,121.35 241.83,119.83 243,119.3" fill="none" stroke-width="5.17"/>
<path d="M238.6,92 C238.6,93.13 238.37,97.3 238.6,98.8 C238.83,100.3 239.77,100.63 240,101" fill="none" stroke-width="4.28"/>
<path d="M174.69,6.8 L173.25,-0.76 L172.35,-0.76 L170.91,6.8Z" stroke-width="2.5"/>
<path d="M173.13,4.94 L165.43,5.04 L165.28,5.93 L172.47,8.66Z" stroke-width="2.5"/>
<path d="M172.15,8.58 L179.75,9.81 L180.06,8.96 L173.45,5.02Z" stroke-width="2.5"/>
<path d="M171,6.8 a1.8,1.8 0 1,0 3.6,0 a1.8,1.8 0 1,0 -3.6,0Z" stroke-width="2.5"/>
<path d="M221.35,10.51 L216.62,4.99 L215.84,5.44 L218.25,12.29Z" stroke-width="2.5"/>
<path d="M220.26,13.12 L226.81,9.99 L226.58,9.12 L219.34,9.68Z" stroke-width="2.5"/>
<path d="M218.02,11.24 L218.73,18.47 L219.63,18.55 L221.58,11.56Z" stroke-width="2.5"/>
<path d="M218.1,11.4 a1.7,1.7 0 1,0 3.4,0 a1.7,1.7 0 1,0 -3.4,0Z" stroke-width="2.5"/>
<path d="M213,27.71 L205.86,29.05 L205.86,29.95 L213,31.29Z" stroke-width="2.5"/>
<path d="M211.24,29.81 L213.8,36.61 L214.68,36.45 L214.76,29.19Z" stroke-width="2.5"/>
<path d="M214.78,29.34 L212.83,22.35 L211.93,22.43 L211.22,29.66Z" stroke-width="2.5"/>
<path d="M211.3,29.5 a1.7,1.7 0 1,0 3.4,0 a1.7,1.7 0 1,0 -3.4,0Z" stroke-width="2.5"/>
<path d="M260.43,31.34 L252.73,31.44 L252.58,32.33 L259.77,35.06Z" stroke-width="2.5"/>
<path d="M258.21,33.2 L259.65,40.76 L260.55,40.76 L261.99,33.2Z" stroke-width="2.5"/>
<path d="M258.3,33.2 a1.8,1.8 0 1,0 3.6,0 a1.8,1.8 0 1,0 -3.6,0Z" stroke-width="2.5"/>
<path d="M177.15,48.74 L169.02,48.87 L168.86,49.76 L176.45,52.66Z" stroke-width="2.5"/>
<path d="M178.76,51.05 L178.63,42.92 L177.74,42.76 L174.84,50.35Z" stroke-width="2.5"/>
<path d="M174.81,50.53 L175.66,58.61 L176.55,58.69 L178.79,50.87Z" stroke-width="2.5"/>
<path d="M177.32,52.63 L184.62,49.07 L184.39,48.2 L176.28,48.77Z" stroke-width="2.5"/>
<path d="M174.9,50.7 a1.9,1.9 0 1,0 3.8,0 a1.9,1.9 0 1,0 -3.8,0Z" stroke-width="2.5"/>
<path d="M263.3,57 L261.75,49.02 L260.85,49.02 L259.31,57Z" stroke-width="2.5"/>
<path d="M261.65,58.96 L269.24,56.06 L269.08,55.17 L260.95,55.04Z" stroke-width="2.5"/>
<path d="M260.62,55.13 L253.65,59.31 L253.96,60.15 L261.98,58.87Z" stroke-width="2.5"/>
<path d="M259.4,57 a1.9,1.9 0 1,0 3.8,0 a1.9,1.9 0 1,0 -3.8,0Z" stroke-width="2.5"/>
<path d="M202.75,92.52 L195.15,91.29 L194.84,92.14 L201.45,96.08Z" stroke-width="2.5"/>
<path d="M202.1,96.19 L209.66,94.75 L209.66,93.85 L202.1,92.41Z" stroke-width="2.5"/>
<path d="M200.22,94.46 L202.31,101.87 L203.21,101.79 L203.98,94.14Z" stroke-width="2.5"/>
<path d="M200.3,94.3 a1.8,1.8 0 1,0 3.6,0 a1.8,1.8 0 1,0 -3.6,0Z" stroke-width="2.5"/>
<path d="M177.59,119.13 L175.35,111.31 L174.46,111.39 L173.61,119.47Z" stroke-width="2.5"/>
<path d="M176.28,117.43 L168.26,116.15 L167.95,116.99 L174.92,121.17Z" stroke-width="2.5"/>
<path d="M175.08,121.23 L183.19,121.8 L183.42,120.93 L176.12,117.37Z" stroke-width="2.5"/>
<path d="M173.7,119.3 a1.9,1.9 0 1,0 3.8,0 a1.9,1.9 0 1,0 -3.8,0Z" stroke-width="2.5"/>
<path d="M196.58,115.54 L191.49,120.73 L192.01,121.46 L198.62,118.46Z" stroke-width="2.5"/>
<path d="M196.85,118.62 L203.88,120.43 L204.26,119.61 L198.35,115.38Z" stroke-width="2.5"/>
<path d="M195.84,116.69 L195.92,123.95 L196.8,124.11 L199.36,117.31Z" stroke-width="2.5"/>
<path d="M195.9,117 a1.7,1.7 0 1,0 3.4,0 a1.7,1.7 0 1,0 -3.4,0Z" stroke-width="2.5"/>
<path d="M220.98,130.7 L219.65,123.56 L218.75,123.56 L217.41,130.7Z" stroke-width="2.5"/>
<path d="M217.41,130.7 L218.75,137.84 L219.65,137.84 L220.98,130.7Z" stroke-width="2.5"/>
<path d="M219.51,132.46 L226.31,129.9 L226.15,129.02 L218.89,128.94Z" stroke-width="2.5"/>
<path d="M217.5,130.7 a1.7,1.7 0 1,0 3.4,0 a1.7,1.7 0 1,0 -3.4,0Z" stroke-width="2.5"/>
<path d="M268.92,114.95 L264.69,109.04 L263.87,109.42 L265.68,116.45Z" stroke-width="2.5"/>
<path d="M266.99,117.46 L274.25,117.38 L274.41,116.5 L267.61,113.94Z" stroke-width="2.5"/>
<path d="M266.41,114.15 L260.89,118.88 L261.34,119.66 L268.19,117.25Z" stroke-width="2.5"/>
<path d="M265.6,115.7 a1.7,1.7 0 1,0 3.4,0 a1.7,1.7 0 1,0 -3.4,0Z" stroke-width="2.5"/>
<path d="M278.17,115.95 L271.77,115.96 L271.62,116.85 L277.63,119.05Z" stroke-width="2.5"/>
<path d="M276.33,117.64 L278,123.82 L278.9,123.74 L279.47,117.36Z" stroke-width="2.5"/>
<path d="M276.4,117.5 a1.5,1.5 0 1,0 3,0 a1.5,1.5 0 1,0 -3,0Z" stroke-width="2.5"/>
<path d="M252.21,124.92 L258,122.2 L257.77,121.33 L251.39,121.88Z" stroke-width="2.5"/>
<path d="M250.25,123.67 L252.45,129.68 L253.34,129.53 L253.35,123.13Z" stroke-width="2.5"/>
<path d="M250.3,123.4 a1.5,1.5 0 1,0 3,0 a1.5,1.5 0 1,0 -3,0Z" stroke-width="2.5"/>
<path d="M181.72,81.29 L177.77,75.72 L176.95,76.1 L178.68,82.71Z" stroke-width="2.5"/>
<path d="M179.77,80.38 L173.59,83.3 L173.83,84.17 L180.63,83.62Z" stroke-width="2.5"/>
<path d="M179.49,83.52 L186.1,85.25 L186.48,84.43 L180.91,80.48Z" stroke-width="2.5"/>
<path d="M178.6,82 a1.6,1.6 0 1,0 3.2,0 a1.6,1.6 0 1,0 -3.2,0Z" stroke-width="2.5"/>
<path d="M222.6,93.62 L215.46,94.95 L215.46,95.85 L222.6,97.19Z" stroke-width="2.5"/>
<path d="M222.6,97.19 L229.74,95.85 L229.74,94.95 L222.6,93.62Z" stroke-width="2.5"/>
<path d="M220.82,95.24 L221.53,102.47 L222.43,102.55 L224.38,95.56Z" stroke-width="2.5"/>
<path d="M220.9,95.4 a1.7,1.7 0 1,0 3.4,0 a1.7,1.7 0 1,0 -3.4,0Z" stroke-width="2.5"/>
<path d="M219.57,58.84 L219,52.46 L218.1,52.38 L216.43,58.56Z" stroke-width="2.5"/>
<path d="M216.52,58.16 L215.42,64.47 L216.27,64.77 L219.48,59.24Z" stroke-width="2.5"/>
<path d="M217.73,60.25 L224.13,60.24 L224.28,59.35 L218.27,57.15Z" stroke-width="2.5"/>
<path d="M216.5,58.7 a1.5,1.5 0 1,0 3,0 a1.5,1.5 0 1,0 -3,0Z" stroke-width="2.5"/>
<path d="M242.84,66.62 L235.43,68.71 L235.51,69.61 L243.16,70.38Z" stroke-width="2.5"/>
<path d="M243.94,70.14 L249.77,65.11 L249.32,64.33 L242.06,66.86Z" stroke-width="2.5"/>
<path d="M241.14,68.17 L241.24,75.87 L242.13,76.02 L244.86,68.83Z" stroke-width="2.5"/>
<path d="M241.2,68.5 a1.8,1.8 0 1,0 3.6,0 a1.8,1.8 0 1,0 -3.6,0Z" stroke-width="2.5"/>
<path d="M264.2,82.18 L270.92,80.95 L270.92,80.05 L264.2,78.82Z" stroke-width="2.5"/>
<path d="M262.52,80.5 L263.75,87.22 L264.65,87.22 L265.88,80.5Z" stroke-width="2.5"/>
<path d="M265.78,79.93 L262.32,74.03 L261.48,74.34 L262.62,81.07Z" stroke-width="2.5"/>
<path d="M262.6,80.5 a1.6,1.6 0 1,0 3.2,0 a1.6,1.6 0 1,0 -3.2,0Z" stroke-width="2.5"/>
<path d="M277.9,78.82 L271.18,80.05 L271.18,80.95 L277.9,82.18Z" stroke-width="2.5"/>
<path d="M277.9,82.18 L284.62,80.95 L284.62,80.05 L277.9,78.82Z" stroke-width="2.5"/>
<path d="M276.22,80.5 L277.45,87.22 L278.35,87.22 L279.58,80.5Z" stroke-width="2.5"/>
<path d="M276.3,80.5 a1.6,1.6 0 1,0 3.2,0 a1.6,1.6 0 1,0 -3.2,0Z" stroke-width="2.5"/>
<path d="M151.78,45 L150.45,37.86 L149.55,37.86 L148.22,45Z" stroke-width="2.5"/>
<path d="M148.22,45 L149.55,52.14 L150.45,52.14 L151.78,45Z" stroke-width="2.5"/>
<path d="M149.69,46.76 L156.95,46.68 L157.11,45.8 L150.31,43.24Z" stroke-width="2.5"/>
<path d="M148.3,45 a1.7,1.7 0 1,0 3.4,0 a1.7,1.7 0 1,0 -3.4,0Z" stroke-width="2.5"/>
<path d="M194,45.42 L187.7,46.55 L187.7,47.45 L194,48.58Z" stroke-width="2.5"/>
<path d="M194,48.58 L200.3,47.45 L200.3,46.55 L194,45.42Z" stroke-width="2.5"/>
<path d="M195.57,47 L194.45,40.7 L193.55,40.7 L192.43,47Z" stroke-width="2.5"/>
<path d="M192.5,47 a1.5,1.5 0 1,0 3,0 a1.5,1.5 0 1,0 -3,0Z" stroke-width="2.5"/>
<path d="M289.8,50.42 L283.08,51.65 L283.08,52.55 L289.8,53.78Z" stroke-width="2.5"/>
<path d="M291.48,52.1 L290.25,45.38 L289.35,45.38 L288.12,52.1Z" stroke-width="2.5"/>
<path d="M288.12,52.1 L289.35,58.82 L290.25,58.82 L291.48,52.1Z" stroke-width="2.5"/>
<path d="M288.2,52.1 a1.6,1.6 0 1,0 3.2,0 a1.6,1.6 0 1,0 -3.2,0Z" stroke-width="2.5"/>
<path d="M289.8,77.22 L283.5,78.35 L283.5,79.25 L289.8,80.38Z" stroke-width="2.5"/>
<path d="M291.38,78.8 L290.25,72.5 L289.35,72.5 L288.23,78.8Z" stroke-width="2.5"/>
<path d="M288.23,78.8 L289.35,85.1 L290.25,85.1 L291.38,78.8Z" stroke-width="2.5"/>
<path d="M288.3,78.8 a1.5,1.5 0 1,0 3,0 a1.5,1.5 0 1,0 -3,0Z" stroke-width="2.5"/>
<path d="M199.8,33.48 L206.1,32.35 L206.1,31.45 L199.8,30.32Z" stroke-width="2.5"/>
<path d="M198.23,31.76 L198.8,38.14 L199.7,38.22 L201.37,32.04Z" stroke-width="2.5"/>
<path d="M200.34,30.42 L194.03,29.32 L193.73,30.17 L199.26,33.38Z" stroke-width="2.5"/>
<path d="M198.3,31.9 a1.5,1.5 0 1,0 3,0 a1.5,1.5 0 1,0 -3,0Z" stroke-width="2.5"/>
<path d="M267.27,26.57 L263.45,21.98 L262.67,22.43 L264.73,28.04Z" stroke-width="2.5"/>
<path d="M265.5,28.68 L271.37,29.73 L271.68,28.89 L266.5,25.92Z" stroke-width="2.5"/>
<path d="M264.73,26.57 L262.67,32.17 L263.45,32.62 L267.27,28.04Z" stroke-width="2.5"/>
<path d="M264.6,27.3 a1.4,1.4 0 1,0 2.8,0 a1.4,1.4 0 1,0 -2.8,0Z" stroke-width="2.5"/>
</g>
<g stroke="#b00010" fill="#b00010" stroke-linecap="round" stroke-linejoin="round">
<path d="M149.8,1.8 L149.8,144.4" fill="none" stroke-width="2"/>
<path d="M148.8,143.7 L291,143.7" fill="none" stroke-width="1.4"/>
<path d="M290.2,1.8 L290.2,144.4" fill="none" stroke-width="1"/>
<path d="M289.8,27 L289.8,54" fill="none" stroke-width="2.4"/>
<path d="M148.92,12.6 L155.97,12.4 L156.03,11.6 L149.08,10.4Z" stroke="none"/>
<path d="M167.6,8 C168.47,7.8 170.9,6.63 172.8,6.8 C174.7,6.97 177.3,8.13 179,9 C180.7,9.87 182.08,10.67 183,12 C183.92,13.33 184.25,16.17 184.5,17" fill="none" stroke-width="2.45"/>
<path d="M172.8,3 L172.8,7" fill="none" stroke-width="2.23"/>
<path d="M179,10.5 L188,12.5" fill="none" stroke-width="1.78"/>
<path d="M187,20.5 L191.6,23.5 L188,24.5 Z" stroke="none"/>
<path d="M169.2,24 a0.8,0.8 0 1,0 1.6,0 a0.8,0.8 0 1,0 -1.6,0Z" stroke="none"/>
<path d="M172.7,21.6 a0.6,0.6 0 1,0 1.2,0 a0.6,0.6 0 1,0 -1.2,0Z" stroke="none"/>
<path d="M149.38,27.99 L160.78,28.15 L160.82,27.65 L149.62,25.61Z" stroke="none"/>
<path d="M179.6,36.4 L178.5,43.8" fill="none" stroke-width="1.11"/>
<path d="M150,34 C150.08,35.73 149.27,42.28 150.5,44.4 C151.73,46.52 155.32,46.35 157.4,46.7 C159.48,47.05 162.07,46.53 163,46.5" fill="none" stroke-width="2.67"/>
<path d="M168.8,49.6 C170.13,49.78 174.33,50.9 176.8,50.7 C179.27,50.5 181.4,49.02 183.6,48.4 C185.8,47.78 187.85,47.32 190,47 C192.15,46.68 195.42,46.58 196.5,46.5" fill="none" stroke-width="2.23"/>
<path d="M179,44.5 C178.63,45.53 177.08,48.33 176.8,50.7 C176.52,53.07 177.22,57.37 177.3,58.7" fill="none" stroke-width="2.23"/>
<path d="M205.5,3 C206.58,3.08 209.92,2.87 212,3.5 C214.08,4.13 216.7,5.48 218,6.8 C219.3,8.12 218.8,10.78 219.8,11.4 C220.8,12.02 222.4,10.88 224,10.5 C225.6,10.12 228.5,9.33 229.4,9.1" fill="none" stroke-width="2.45"/>
<path d="M233,7 C233.83,6.58 236.33,5.17 238,4.5 C239.67,3.83 242.17,3.25 243,3" fill="none" stroke-width="2.89"/>
<path d="M237.4,14.8 C237.67,15.67 238.43,18.1 239,20 C239.57,21.9 240.03,24.4 240.8,26.2 C241.57,28 243.13,30.03 243.6,30.8" fill="none" stroke-width="1.11"/>
<path d="M199.8,31.9 C200.83,31.75 203.9,31.38 206,31 C208.1,30.62 210.77,29.07 212.4,29.6 C214.03,30.13 214.95,32.68 215.8,34.2 C216.65,35.72 217.13,37 217.5,38.7 C217.87,40.4 217.92,43.45 218,44.4" fill="none" stroke-width="2.45"/>
<path d="M214.09,30.12 L213.7,25.52 L213.3,25.48 L211.91,29.88Z" stroke="none"/>
<path d="M199.8,31.9 L201,41" fill="none" stroke-width="2"/>
<path d="M227.2,40.4 C228.5,40.08 232.37,39.17 235,38.5 C237.63,37.83 240.2,36.9 243,36.4 C245.8,35.9 248.95,36.03 251.8,35.5 C254.65,34.97 258.72,33.58 260.1,33.2" fill="none" stroke-width="2.67"/>
<path d="M242.4,7.1 C243.78,7.8 248.13,10.7 250.7,11.3 C253.27,11.9 256.03,9.82 257.8,10.7 C259.57,11.58 260.32,14.63 261.3,16.6 C262.28,18.57 262.92,20.72 263.7,22.5 C264.48,24.28 264.03,25.92 266,27.3 C267.97,28.68 273.92,30.22 275.5,30.8" fill="none" stroke-width="2"/>
<path d="M260.1,33.2 C260.1,34.58 260.1,38.7 260.1,41.5 C260.1,44.3 259.9,47.25 260.1,50 C260.3,52.75 261.1,56.67 261.3,58" fill="none" stroke-width="3.34"/>
<path d="M281.5,2.4 C281.92,3.17 283.22,5.43 284,7 C284.78,8.57 285.23,10.6 286.2,11.8 C287.17,13 289.2,13.8 289.8,14.2" fill="none" stroke-width="1.11"/>
<path d="M261.3,56 C262.68,55.75 266.43,55.05 269.6,54.5 C272.77,53.95 276.93,53.1 280.3,52.7 C283.67,52.3 288.22,52.2 289.8,52.1" fill="none" stroke-width="2.89"/>
<path d="M261.3,58 C260.12,58.6 256.57,60.6 254.2,61.6 C251.83,62.6 248.97,62.93 247.1,64 C245.23,65.07 243.68,67.33 243,68" fill="none" stroke-width="1.78"/>
<path d="M227.2,65.5 C228.5,65.75 232.37,66.43 235,67 C237.63,67.57 241.67,68.58 243,68.9" fill="none" stroke-width="3.34"/>
<path d="M239.2,69 a2.8,3 0 1,0 5.6,0 a2.8,3 0 1,0 -5.6,0Z" stroke="none"/>
<path d="M267.3,64.5 L270.8,72.3" fill="none" stroke-width="1.11"/>
<path d="M282,60.4 L282.7,65.7" fill="none" stroke-width="1.01"/>
<path d="M263.7,80.5 C265.08,80.33 269.28,79.75 272,79.5 C274.72,79.25 277.03,79.12 280,79 C282.97,78.88 288.17,78.83 289.8,78.8" fill="none" stroke-width="2.89"/>
<path d="M264.2,80.5 L264.9,88.8" fill="none" stroke-width="2.23"/>
<path d="M277.9,80.5 C277.92,81.75 277.9,85.58 278,88 C278.1,90.42 278.42,93.83 278.5,95" fill="none" stroke-width="1.78"/>
<path d="M260,91.8 a0.7,0.7 0 1,0 1.4,0 a0.7,0.7 0 1,0 -1.4,0Z" stroke="none"/>
<path d="M150.39,71.8 L163.68,72.05 L163.72,71.55 L150.61,69.4Z" stroke="none"/>
<path d="M173.3,68.3 C173.83,69.42 175.35,72.72 176.5,75 C177.65,77.28 179.58,80.83 180.2,82" fill="none" stroke-width="1.56"/>
<path d="M180.2,82 L168.8,85.4" fill="none" stroke-width="1.56"/>
<path d="M180.2,82 C181.15,82.38 184.38,83.25 185.9,84.3 C187.42,85.35 187.62,87.07 189.3,88.3 C190.98,89.53 194.88,91.13 196,91.7" fill="none" stroke-width="2"/>
<path d="M185.9,84.3 C185.58,85.25 184.38,88.22 184,90 C183.62,91.78 183.87,93.53 183.6,95 C183.33,96.47 182.6,98.17 182.4,98.8" fill="none" stroke-width="1.78"/>
<path d="M193.8,45 C193.92,45.83 194.38,48.1 194.5,50 C194.62,51.9 194.5,55.33 194.5,56.4" fill="none" stroke-width="2.89"/>
<path d="M196.4,61 C197.67,61.08 201.53,61.32 204,61.5 C206.47,61.68 210,62 211.2,62.1" fill="none" stroke-width="2.67"/>
<path d="M196.4,59.8 C196.78,61.13 198.13,65.72 198.7,67.8 C199.27,69.88 200.25,71.02 199.8,72.3 C199.35,73.58 197.13,74.55 196,75.5 C194.87,76.45 193.5,77.58 193,78" fill="none" stroke-width="1.11"/>
<path d="M220.3,48.4 C220.08,49.33 219.38,52.28 219,54 C218.62,55.72 218.17,57.92 218,58.7" fill="none" stroke-width="1.78"/>
<path d="M218,58.7 L215.8,64.4" fill="none" stroke-width="1.78"/>
<path d="M217.76,59.77 L222.96,60 L223.04,59.6 L218.24,57.63Z" stroke="none"/>
<path d="M236.8,48.4 C236.7,49.67 236.38,53.53 236.2,56 C236.02,58.47 235.78,62 235.7,63.2" fill="none" stroke-width="1.34"/>
<path d="M237.4,74.6 C237.67,76.17 238.43,80.97 239,84 C239.57,87.03 240.38,89.97 240.8,92.8 C241.22,95.63 241.38,99.63 241.5,101" fill="none" stroke-width="2.45"/>
<path d="M212.1,74.4 a0.8,0.8 0 1,0 1.6,0 a0.8,0.8 0 1,0 -1.6,0Z" stroke="none"/>
<path d="M215.2,79.2 C215.1,80.17 214.78,82.92 214.6,85 C214.42,87.08 214.18,90.58 214.1,91.7" fill="none" stroke-width="1.56"/>
<path d="M159.7,90.6 L163,95" fill="none" stroke-width="1.78"/>
<path d="M193,88.3 C193.83,88.75 196.28,90.05 198,91 C199.72,91.95 201.3,93.5 203.3,94 C205.3,94.5 208.88,94 210,94" fill="none" stroke-width="2.67"/>
<path d="M202.1,94.3 L203.3,102.3" fill="none" stroke-width="2.23"/>
<path d="M218,94.3 C219,94.33 221.9,94.5 224,94.5 C226.1,94.5 229.5,94.33 230.6,94.3" fill="none" stroke-width="2.45"/>
<path d="M222.6,95.4 C222.42,96.17 221.78,98.48 221.5,100 C221.22,101.52 221,103.75 220.9,104.5" fill="none" stroke-width="2"/>
<path d="M242.4,100.9 C243.5,100.83 246.63,100.7 249,100.5 C251.37,100.3 255.33,99.83 256.6,99.7" fill="none" stroke-width="2.45"/>
<path d="M240,113.3 L242.4,120.4" fill="none" stroke-width="2"/>
<path d="M261.3,103.8 C261.7,104.8 262.7,107.82 263.7,109.8 C264.7,111.78 265.92,114.53 267.3,115.7 C268.68,116.87 270.23,116.5 272,116.8 C273.77,117.1 276.92,117.38 277.9,117.5" fill="none" stroke-width="2"/>
<path d="M267.3,115.7 C266.3,116.58 263.18,119.9 261.3,121 C259.42,122.1 257.58,121.9 256,122.3 C254.42,122.7 252.5,123.22 251.8,123.4" fill="none" stroke-width="2"/>
<path d="M251.8,123.4 C252.4,124.68 254.7,127.67 255.4,131.1 C256.1,134.53 255.9,141.85 256,144" fill="none" stroke-width="2.23"/>
<path d="M277.9,117.5 C278.3,119.17 279.5,123.45 280.3,127.5 C281.1,131.55 282.3,139.42 282.7,141.8" fill="none" stroke-width="2"/>
<path d="M283.8,115.7 C284.5,115.42 286.63,114.5 288,114 C289.37,113.5 291.33,112.92 292,112.7" fill="none" stroke-width="2.89"/>
<path d="M279.1,92 L279.1,95.6" fill="none" stroke-width="1.01"/>
<path d="M283.8,101.5 L284.4,107.4" fill="none" stroke-width="1.01"/>
<path d="M167.6,100.5 C168.67,100.58 171.9,100.9 174,101 C176.1,101.1 179.17,101.08 180.2,101.1" fill="none" stroke-width="2.67"/>
<path d="M173.3,110.2 C173.5,111 174.12,113.48 174.5,115 C174.88,116.52 175.42,118.58 175.6,119.3" fill="none" stroke-width="2.45"/>
<path d="M169.9,122.2 C170.85,121.72 173.92,119.42 175.6,119.3 C177.28,119.18 178.48,120.92 180,121.5 C181.52,122.08 183.92,122.58 184.7,122.8" fill="none" stroke-width="2.23"/>
<path d="M173.4,119.5 a2,2 0 1,0 4,0 a2,2 0 1,0 -4,0Z" stroke="none"/>
<path d="M150.84,122.75 L162.07,118.44 L161.93,117.96 L150.16,120.45Z" stroke="none"/>
<path d="M175.6,133 L175.6,143.8" fill="none" stroke-width="2.23"/>
<path d="M192.7,121.6 C192.92,122.5 193.62,125.1 194,127 C194.38,128.9 194.83,132 195,133" fill="none" stroke-width="1.78"/>
<path d="M193,120.5 L197.6,117" fill="none" stroke-width="2"/>
<path d="M197.6,117 C198.5,117.5 201.1,119.03 203,120 C204.9,120.97 208,122.33 209,122.8" fill="none" stroke-width="2.23"/>
<path d="M197.6,117 C197.02,119.1 194.48,126.37 194.1,129.6 C193.72,132.83 195.1,135.27 195.3,136.4" fill="none" stroke-width="1.78"/>
<path d="M219.8,114.8 C219.75,116.17 219.6,120.35 219.5,123 C219.4,125.65 219.07,127.23 219.2,130.7 C219.33,134.17 220.12,141.62 220.3,143.8" fill="none" stroke-width="2.45"/>
<path d="M219.2,130.7 L226,129.6" fill="none" stroke-width="2"/>
<path d="M228.3,126.2 C229.58,125.58 233.55,123.65 236,122.5 C238.45,121.35 241.83,119.83 243,119.3" fill="none" stroke-width="2.67"/>
<path d="M238.6,92 C238.6,93.13 238.37,97.3 238.6,98.8 C238.83,100.3 239.77,100.63 240,101" fill="none" stroke-width="1.78"/>
<path d="M174.69,6.8 L173.25,-0.76 L172.35,-0.76 L170.91,6.8Z" stroke="none"/>
<path d="M173.13,4.94 L165.43,5.04 L165.28,5.93 L172.47,8.66Z" stroke="none"/>
<path d="M172.15,8.58 L179.75,9.81 L180.06,8.96 L173.45,5.02Z" stroke="none"/>
<path d="M171,6.8 a1.8,1.8 0 1,0 3.6,0 a1.8,1.8 0 1,0 -3.6,0Z" stroke="none"/>
<path d="M221.35,10.51 L216.62,4.99 L215.84,5.44 L218.25,12.29Z" stroke="none"/>
<path d="M220.26,13.12 L226.81,9.99 L226.58,9.12 L219.34,9.68Z" stroke="none"/>
<path d="M218.02,11.24 L218.73,18.47 L219.63,18.55 L221.58,11.56Z" stroke="none"/>
<path d="M218.1,11.4 a1.7,1.7 0 1,0 3.4,0 a1.7,1.7 0 1,0 -3.4,0Z" stroke="none"/>
<path d="M213,27.71 L205.86,29.05 L205.86,29.95 L213,31.29Z" stroke="none"/>
<path d="M211.24,29.81 L213.8,36.61 L214.68,36.45 L214.76,29.19Z" stroke="none"/>
<path d="M214.78,29.34 L212.83,22.35 L211.93,22.43 L211.22,29.66Z" stroke="none"/>
<path d="M211.3,29.5 a1.7,1.7 0 1,0 3.4,0 a1.7,1.7 0 1,0 -3.4,0Z" stroke="none"/>
<path d="M260.43,31.34 L252.73,31.44 L252.58,32.33 L259.77,35.06Z" stroke="none"/>
<path d="M258.21,33.2 L259.65,40.76 L260.55,40.76 L261.99,33.2Z" stroke="none"/>
<path d="M258.3,33.2 a1.8,1.8 0 1,0 3.6,0 a1.8,1.8 0 1,0 -3.6,0Z" stroke="none"/>
<path d="M177.15,48.74 L169.02,48.87 L168.86,49.76 L176.45,52.66Z" stroke="none"/>
<path d="M178.76,51.05 L178.63,42.92 L177.74,42.76 L174.84,50.35Z" stroke="none"/>
<path d="M174.81,50.53 L175.66,58.61 L176.55,58.69 L178.79,50.87Z" stroke="none"/>
<path d="M177.32,52.63 L184.62,49.07 L184.39,48.2 L176.28,48.77Z" stroke="none"/>
<path d="M174.9,50.7 a1.9,1.9 0 1,0 3.8,0 a1.9,1.9 0 1,0 -3.8,0Z" stroke="none"/>
<path d="M263.3,57 L261.75,49.02 L260.85,49.02 L259.31,57Z" stroke="none"/>
<path d="M261.65,58.96 L269.24,56.06 L269.08,55.17 L260.95,55.04Z" stroke="none"/>
<path d="M260.62,55.13 L253.65,59.31 L253.96,60.15 L261.98,58.87Z" stroke="none"/>
<path d="M259.4,57 a1.9,1.9 0 1,0 3.8,0 a1.9,1.9 0 1,0 -3.8,0Z" stroke="none"/>
<path d="M202.75,92.52 L195.15,91.29 L194.84,92.14 L201.45,96.08Z" stroke="none"/>
<path d="M202.1,96.19 L209.66,94.75 L209.66,93.85 L202.1,92.41Z" stroke="none"/>
<path d="M200.22,94.46 L202.31,101.87 L203.21,101.79 L203.98,94.14Z" stroke="none"/>
<path d="M200.3,94.3 a1.8,1.8 0 1,0 3.6,0 a1.8,1.8 0 1,0 -3.6,0Z" stroke="none"/>
<path d="M177.59,119.13 L175.35,111.31 L174.46,111.39 L173.61,119.47Z" stroke="none"/>
<path d="M176.28,117.43 L168.26,116.15 L167.95,116.99 L174.92,121.17Z" stroke="none"/>
<path d="M175.08,121.23 L183.19,121.8 L183.42,120.93 L176.12,117.37Z" stroke="none"/>
<path d="M173.7,119.3 a1.9,1.9 0 1,0 3.8,0 a1.9,1.9 0 1,0 -3.8,0Z" stroke="none"/>
<path d="M196.58,115.54 L191.49,120.73 L192.01,121.46 L198.62,118.46Z" stroke="none"/>
<path d="M196.85,118.62 L203.88,120.43 L204.26,119.61 L198.35,115.38Z" stroke="none"/>
<path d="M195.84,116.69 L195.92,123.95 L196.8,124.11 L199.36,117.31Z" stroke="none"/>
<path d="M195.9,117 a1.7,1.7 0 1,0 3.4,0 a1.7,1.7 0 1,0 -3.4,0Z" stroke="none"/>
<path d="M220.98,130.7 L219.65,123.56 L218.75,123.56 L217.41,130.7Z" stroke="none"/>
<path d="M217.41,130.7 L218.75,137.84 L219.65,137.84 L220.98,130.7Z" stroke="none"/>
<path d="M219.51,132.46 L226.31,129.9 L226.15,129.02 L218.89,128.94Z" stroke="none"/>
<path d="M217.5,130.7 a1.7,1.7 0 1,0 3.4,0 a1.7,1.7 0 1,0 -3.4,0Z" stroke="none"/>
<path d="M268.92,114.95 L264.69,109.04 L263.87,109.42 L265.68,116.45Z" stroke="none"/>
<path d="M266.99,117.46 L274.25,117.38 L274.41,116.5 L267.61,113.94Z" stroke="none"/>
<path d="M266.41,114.15 L260.89,118.88 L261.34,119.66 L268.19,117.25Z" stroke="none"/>
<path d="M265.6,115.7 a1.7,1.7 0 1,0 3.4,0 a1.7,1.7 0 1,0 -3.4,0Z" stroke="none"/>
<path d="M278.17,115.95 L271.77,115.96 L271.62,116.85 L277.63,119.05Z" stroke="none"/>
<path d="M276.33,117.64 L278,123.82 L278.9,123.74 L279.47,117.36Z" stroke="none"/>
<path d="M276.4,117.5 a1.5,1.5 0 1,0 3,0 a1.5,1.5 0 1,0 -3,0Z" stroke="none"/>
<path d="M252.21,124.92 L258,122.2 L257.77,121.33 L251.39,121.88Z" stroke="none"/>
<path d="M250.25,123.67 L252.45,129.68 L253.34,129.53 L253.35,123.13Z" stroke="none"/>
<path d="M250.3,123.4 a1.5,1.5 0 1,0 3,0 a1.5,1.5 0 1,0 -3,0Z" stroke="none"/>
<path d="M181.72,81.29 L177.77,75.72 L176.95,76.1 L178.68,82.71Z" stroke="none"/>
<path d="M179.77,80.38 L173.59,83.3 L173.83,84.17 L180.63,83.62Z" stroke="none"/>
<path d="M179.49,83.52 L186.1,85.25 L186.48,84.43 L180.91,80.48Z" stroke="none"/>
<path d="M178.6,82 a1.6,1.6 0 1,0 3.2,0 a1.6,1.6 0 1,0 -3.2,0Z" stroke="none"/>
<path d="M222.6,93.62 L215.46,94.95 L215.46,95.85 L222.6,97.19Z" stroke="none"/>
<path d="M222.6,97.19 L229.74,95.85 L229.74,94.95 L222.6,93.62Z" stroke="none"/>
<path d="M220.82,95.24 L221.53,102.47 L222.43,102.55 L224.38,95.56Z" stroke="none"/>
<path d="M220.9,95.4 a1.7,1.7 0 1,0 3.4,0 a1.7,1.7 0 1,0 -3.4,0Z" stroke="none"/>
<path d="M219.57,58.84 L219,52.46 L218.1,52.38 L216.43,58.56Z" stroke="none"/>
<path d="M216.52,58.16 L215.42,64.47 L216.27,64.77 L219.48,59.24Z" stroke="none"/>
<path d="M217.73,60.25 L224.13,60.24 L224.28,59.35 L218.27,57.15Z" stroke="none"/>
<path d="M216.5,58.7 a1.5,1.5 0 1,0 3,0 a1.5,1.5 0 1,0 -3,0Z" stroke="none"/>
<path d="M242.84,66.62 L235.43,68.71 L235.51,69.61 L243.16,70.38Z" stroke="none"/>
<path d="M243.94,70.14 L249.77,65.11 L249.32,64.33 L242.06,66.86Z" stroke="none"/>
<path d="M241.14,68.17 L241.24,75.87 L242.13,76.02 L244.86,68.83Z" stroke="none"/>
<path d="M241.2,68.5 a1.8,1.8 0 1,0 3.6,0 a1.8,1.8 0 1,0 -3.6,0Z" stroke="none"/>
<path d="M264.2,82.18 L270.92,80.95 L270.92,80.05 L264.2,78.82Z" stroke="none"/>
<path d="M262.52,80.5 L263.75,87.22 L264.65,87.22 L265.88,80.5Z" stroke="none"/>
<path d="M265.78,79.93 L262.32,74.03 L261.48,74.34 L262.62,81.07Z" stroke="none"/>
<path d="M262.6,80.5 a1.6,1.6 0 1,0 3.2,0 a1.6,1.6 0 1,0 -3.2,0Z" stroke="none"/>
<path d="M277.9,78.82 L271.18,80.05 L271.18,80.95 L277.9,82.18Z" stroke="none"/>
<path d="M277.9,82.18 L284.62,80.95 L284.62,80.05 L277.9,78.82Z" stroke="none"/>
<path d="M276.22,80.5 L277.45,87.22 L278.35,87.22 L279.58,80.5Z" stroke="none"/>
<path d="M276.3,80.5 a1.6,1.6 0 1,0 3.2,0 a1.6,1.6 0 1,0 -3.2,0Z" stroke="none"/>
<path d="M151.78,45 L150.45,37.86 L149.55,37.86 L148.22,45Z" stroke="none"/>
<path d="M148.22,45 L149.55,52.14 L150.45,52.14 L151.78,45Z" stroke="none"/>
<path d="M149.69,46.76 L156.95,46.68 L157.11,45.8 L150.31,43.24Z" stroke="none"/>
<path d="M148.3,45 a1.7,1.7 0 1,0 3.4,0 a1.7,1.7 0 1,0 -3.4,0Z" stroke="none"/>
<path d="M194,45.42 L187.7,46.55 L187.7,47.45 L194,48.58Z" stroke="none"/>
<path d="M194,48.58 L200.3,47.45 L200.3,46.55 L194,45.42Z" stroke="none"/>
<path d="M195.57,47 L194.45,40.7 L193.55,40.7 L192.43,47Z" stroke="none"/>
<path d="M192.5,47 a1.5,1.5 0 1,0 3,0 a1.5,1.5 0 1,0 -3,0Z" stroke="none"/>
<path d="M289.8,50.42 L283.08,51.65 L283.08,52.55 L289.8,53.78Z" stroke="none"/>
<path d="M291.48,52.1 L290.25,45.38 L289.35,45.38 L288.12,52.1Z" stroke="none"/>
<path d="M288.12,52.1 L289.35,58.82 L290.25,58.82 L291.48,52.1Z" stroke="none"/>
<path d="M288.2,52.1 a1.6,1.6 0 1,0 3.2,0 a1.6,1.6 0 1,0 -3.2,0Z" stroke="none"/>
<path d="M289.8,77.22 L283.5,78.35 L283.5,79.25 L289.8,80.38Z" stroke="none"/>
<path d="M291.38,78.8 L290.25,72.5 L289.35,72.5 L288.23,78.8Z" stroke="none"/>
<path d="M288.23,78.8 L289.35,85.1 L290.25,85.1 L291.38,78.8Z" stroke="none"/>
<path d="M288.3,78.8 a1.5,1.5 0 1,0 3,0 a1.5,1.5 0 1,0 -3,0Z" stroke="none"/>
<path d="M199.8,33.48 L206.1,32.35 L206.1,31.45 L199.8,30.32Z" stroke="none"/>
<path d="M198.23,31.76 L198.8,38.14 L199.7,38.22 L201.37,32.04Z" stroke="none"/>
<path d="M200.34,30.42 L194.03,29.32 L193.73,30.17 L199.26,33.38Z" stroke="none"/>
<path d="M198.3,31.9 a1.5,1.5 0 1,0 3,0 a1.5,1.5 0 1,0 -3,0Z" stroke="none"/>
<path d="M267.27,26.57 L263.45,21.98 L262.67,22.43 L264.73,28.04Z" stroke="none"/>
<path d="M265.5,28.68 L271.37,29.73 L271.68,28.89 L266.5,25.92Z" stroke="none"/>
<path d="M264.73,26.57 L262.67,32.17 L263.45,32.62 L267.27,28.04Z" stroke="none"/>
<path d="M264.6,27.3 a1.4,1.4 0 1,0 2.8,0 a1.4,1.4 0 1,0 -2.8,0Z" stroke="none"/>
</g>
</g>
<text x="153.6" y="14.8" font-size="10" text-anchor="start" fill="#e8e81c" font-family="Liberation Serif, serif" font-weight="bold" stroke="#e8e81c" stroke-width="0.35">(a2)</text>
<g clip-path="url(#ca3)">
<rect x="297.7" y="2.3" width="138.3" height="141.4" fill="#4a70ca"/>
<g filter="url(#ca3f)" stroke="#6188d4" stroke-width="1.2" stroke-linejoin="round">
<path d="M313.13,11.05 L297.7,14.44 L297.7,2.3 L312.72,2.3Z" fill="url(#ca3g)"/>
<path d="M313.25,25.25 L308.56,28.24 L297.7,27.57 L297.7,14.44 L313.13,11.05 L314.78,12.97Z" fill="url(#ca3g)"/>
<path d="M308.56,28.24 L312.12,44.7 L309.91,46.14 L297.7,42.73 L297.7,27.57Z" fill="url(#ca3g)"/>
<path d="M297.7,42.73 L297.7,58.56 L307.74,58.69 L309.91,46.14Z" fill="url(#ca3g)"/>
<path d="M307.6,70.68 L308.55,59.92 L307.74,58.69 L297.7,58.56 L297.7,70.94Z" fill="url(#ca3g)"/>
<path d="M307.82,85.93 L297.7,87.48 L297.7,70.94 L307.6,70.68 L310.55,75.18 L309.39,83.88Z" fill="url(#ca3g)"/>
<path d="M307.82,103.13 L297.7,99.99 L297.7,87.48 L307.82,85.93 L312.87,96.91Z" fill="url(#ca3g)"/>
<path d="M307.97,115.21 L297.7,117.46 L297.7,99.99 L307.82,103.13Z" fill="url(#ca3g)"/>
<path d="M310.3,116.19 L314.42,128.77 L311.8,131.42 L297.7,130.72 L297.7,117.46 L307.97,115.21Z" fill="url(#ca3g)"/>
<path d="M311.8,131.42 L297.7,130.72 L297.7,143.7 L309.98,143.7Z" fill="url(#ca3g)"/>
<path d="M325.48,13.67 L328.32,2.3 L312.72,2.3 L313.13,11.05 L314.78,12.97Z" fill="url(#ca3g)"/>
<path d="M326.6,29.58 L330.09,17.01 L325.48,13.67 L314.78,12.97 L313.25,25.25 L324.13,30.81Z" fill="url(#ca3g)"/>
<path d="M324.13,30.81 L320.42,44.1 L312.12,44.7 L308.56,28.24 L313.25,25.25Z" fill="url(#ca3g)"/>
<path d="M320.42,44.1 L312.12,44.7 L309.91,46.14 L307.74,58.69 L308.55,59.92 L324.39,61.44 L324.85,47.7Z" fill="url(#ca3g)"/>
<path d="M310.55,75.18 L325.63,70.1 L324.41,61.46 L324.39,61.44 L308.55,59.92 L307.6,70.68Z" fill="url(#ca3g)"/>
<path d="M329.17,85.31 L309.39,83.88 L310.55,75.18 L325.63,70.1 L327.33,71.78Z" fill="url(#ca3g)"/>
<path d="M322.17,99.55 L329.19,85.34 L329.17,85.31 L309.39,83.88 L307.82,85.93 L312.87,96.91Z" fill="url(#ca3g)"/>
<path d="M310.3,116.19 L320.85,112.53 L322.87,100.86 L322.17,99.55 L312.87,96.91 L307.82,103.13 L307.97,115.21Z" fill="url(#ca3g)"/>
<path d="M322.09,130.4 L314.42,128.77 L310.3,116.19 L320.85,112.53 L325.97,115.96Z" fill="url(#ca3g)"/>
<path d="M325.69,133.45 L325.75,143.7 L309.98,143.7 L311.8,131.42 L314.42,128.77 L322.09,130.4Z" fill="url(#ca3g)"/>
<path d="M330.09,17.01 L340.62,15.18 L340.71,2.3 L328.32,2.3 L325.48,13.67Z" fill="url(#ca3g)"/>
<path d="M326.6,29.58 L338.16,33.98 L341.8,30.36 L340.7,15.25 L340.62,15.18 L330.09,17.01Z" fill="url(#ca3g)"/>
<path d="M326.6,29.58 L338.16,33.98 L338.89,45.59 L324.85,47.7 L320.42,44.1 L324.13,30.81Z" fill="url(#ca3g)"/>
<path d="M338.89,45.59 L341.14,47.39 L340.74,58.08 L324.41,61.46 L324.39,61.44 L324.85,47.7Z" fill="url(#ca3g)"/>
<path d="M338.93,69.71 L341.79,59.98 L340.74,58.08 L324.41,61.46 L325.63,70.1 L327.33,71.78Z" fill="url(#ca3g)"/>
<path d="M329.17,85.31 L327.33,71.78 L338.93,69.71 L343.79,74.59 L332.77,86.25 L329.19,85.34Z" fill="url(#ca3g)"/>
<path d="M322.17,99.55 L329.19,85.34 L332.77,86.25 L340.27,91.69 L338.62,104.08 L322.87,100.86Z" fill="url(#ca3g)"/>
<path d="M336.6,116.64 L339.65,113.56 L338.8,104.44 L338.62,104.08 L322.87,100.86 L320.85,112.53 L325.97,115.96Z" fill="url(#ca3g)"/>
<path d="M325.69,133.45 L322.09,130.4 L325.97,115.96 L336.6,116.64 L336.6,128.09Z" fill="url(#ca3g)"/>
<path d="M339.2,143.7 L337.06,128.45 L336.6,128.09 L325.69,133.45 L325.75,143.7Z" fill="url(#ca3g)"/>
<path d="M340.7,15.25 L340.62,15.18 L340.71,2.3 L352.15,2.3 L355.36,15.87 L353.58,16.5Z" fill="url(#ca3g)"/>
<path d="M350.71,31.08 L341.8,30.36 L340.7,15.25 L353.58,16.5 L350.78,31.02Z" fill="url(#ca3g)"/>
<path d="M338.16,33.98 L341.8,30.36 L350.71,31.08 L353.53,45.76 L353.41,45.84 L341.14,47.39 L338.89,45.59Z" fill="url(#ca3g)"/>
<path d="M341.79,59.98 L350.25,62.37 L354.33,59.43 L353.41,45.84 L341.14,47.39 L340.74,58.08Z" fill="url(#ca3g)"/>
<path d="M338.93,69.71 L341.79,59.98 L350.25,62.37 L352.77,75.78 L351.81,76.65 L343.79,74.59Z" fill="url(#ca3g)"/>
<path d="M343.79,74.59 L351.81,76.65 L350.75,88.39 L340.27,91.69 L332.77,86.25Z" fill="url(#ca3g)"/>
<path d="M338.8,104.44 L354.22,101.31 L355.27,100.08 L354.64,91.71 L350.75,88.39 L340.27,91.69 L338.62,104.08Z" fill="url(#ca3g)"/>
<path d="M352.24,116.37 L354.22,101.31 L338.8,104.44 L339.65,113.56Z" fill="url(#ca3g)"/>
<path d="M337.06,128.45 L350.85,132.12 L353.01,116.98 L352.24,116.37 L339.65,113.56 L336.6,116.64 L336.6,128.09Z" fill="url(#ca3g)"/>
<path d="M337.06,128.45 L350.85,132.12 L353.03,135.67 L354.04,143.7 L339.2,143.7Z" fill="url(#ca3g)"/>
<path d="M363.23,15.41 L364.21,2.3 L352.15,2.3 L355.36,15.87 L362.27,16.21Z" fill="url(#ca3g)"/>
<path d="M350.78,31.02 L364.57,30.1 L362.27,16.21 L355.36,15.87 L353.58,16.5Z" fill="url(#ca3g)"/>
<path d="M350.71,31.08 L353.53,45.76 L360.9,44.88 L365.54,41.12 L365.61,31.38 L364.57,30.1 L350.78,31.02Z" fill="url(#ca3g)"/>
<path d="M360.9,44.88 L366.72,59.69 L364.62,62.21 L354.33,59.43 L353.41,45.84 L353.53,45.76Z" fill="url(#ca3g)"/>
<path d="M364.62,62.21 L363.91,73.18 L352.77,75.78 L350.25,62.37 L354.33,59.43Z" fill="url(#ca3g)"/>
<path d="M363.91,73.18 L368.5,76.47 L369.51,86.67 L366.99,89.56 L354.64,91.71 L350.75,88.39 L351.81,76.65 L352.77,75.78Z" fill="url(#ca3g)"/>
<path d="M366.99,89.56 L354.64,91.71 L355.27,100.08 L366.56,105.52 L369.21,100.67Z" fill="url(#ca3g)"/>
<path d="M352.24,116.37 L354.22,101.31 L355.27,100.08 L366.56,105.52 L368.42,115.44 L367.56,116.4 L353.01,116.98Z" fill="url(#ca3g)"/>
<path d="M353.03,135.67 L367.99,124.98 L367.56,116.4 L353.01,116.98 L350.85,132.12Z" fill="url(#ca3g)"/>
<path d="M353.03,135.67 L367.99,124.98 L372.52,132.09 L367.35,143.7 L354.04,143.7Z" fill="url(#ca3g)"/>
<path d="M363.23,15.41 L378.05,14.95 L379.25,2.3 L364.21,2.3Z" fill="url(#ca3g)"/>
<path d="M365.61,31.38 L377.24,28.32 L378.6,15.51 L378.05,14.95 L363.23,15.41 L362.27,16.21 L364.57,30.1Z" fill="url(#ca3g)"/>
<path d="M365.54,41.12 L376.38,44.79 L380.46,41.59 L378.02,29 L377.24,28.32 L365.61,31.38Z" fill="url(#ca3g)"/>
<path d="M360.9,44.88 L366.72,59.69 L377.08,57.49 L378.04,56 L376.38,44.79 L365.54,41.12Z" fill="url(#ca3g)"/>
<path d="M364.62,62.21 L363.91,73.18 L368.5,76.47 L375.56,74.04 L380.89,68.66 L377.08,57.49 L366.72,59.69Z" fill="url(#ca3g)"/>
<path d="M375.56,74.04 L368.5,76.47 L369.51,86.67 L377.82,89.09 L385.54,84.84Z" fill="url(#ca3g)"/>
<path d="M366.99,89.56 L369.21,100.67 L380.05,98.94 L377.82,89.09 L369.51,86.67Z" fill="url(#ca3g)"/>
<path d="M368.42,115.44 L366.56,105.52 L369.21,100.67 L380.05,98.94 L384.56,102.38 L372.87,115.01Z" fill="url(#ca3g)"/>
<path d="M372.52,132.09 L378.74,132.18 L385.41,126.97 L381.28,118.79 L372.87,115.01 L368.42,115.44 L367.56,116.4 L367.99,124.98Z" fill="url(#ca3g)"/>
<path d="M372.52,132.09 L378.74,132.18 L384.41,143.7 L367.35,143.7Z" fill="url(#ca3g)"/>
<path d="M395.43,18.2 L378.6,15.51 L378.05,14.95 L379.25,2.3 L392.51,2.3Z" fill="url(#ca3g)"/>
<path d="M377.24,28.32 L378.6,15.51 L395.43,18.2 L395.56,18.32 L393.8,29.47 L393.67,29.64 L378.02,29Z" fill="url(#ca3g)"/>
<path d="M378.02,29 L393.67,29.64 L391.39,40.29 L391,40.67 L380.46,41.59Z" fill="url(#ca3g)"/>
<path d="M376.38,44.79 L378.04,56 L391.6,54.78 L391,40.67 L380.46,41.59Z" fill="url(#ca3g)"/>
<path d="M377.08,57.49 L380.89,68.66 L391.97,70.91 L393.93,56.74 L391.6,54.78 L378.04,56Z" fill="url(#ca3g)"/>
<path d="M380.89,68.66 L375.56,74.04 L385.54,84.84 L393.71,84.38 L393.76,73.21 L391.97,70.91Z" fill="url(#ca3g)"/>
<path d="M393.71,84.38 L394.63,85.55 L387.8,102.5 L384.56,102.38 L380.05,98.94 L377.82,89.09 L385.54,84.84Z" fill="url(#ca3g)"/>
<path d="M393.23,110.47 L381.28,118.79 L372.87,115.01 L384.56,102.38 L387.8,102.5 L391.87,106.68Z" fill="url(#ca3g)"/>
<path d="M394.64,111.77 L393.23,110.47 L381.28,118.79 L385.41,126.97 L396.08,129.15Z" fill="url(#ca3g)"/>
<path d="M378.74,132.18 L384.41,143.7 L391.57,143.7 L396.5,129.55 L396.08,129.15 L385.41,126.97Z" fill="url(#ca3g)"/>
<path d="M408.12,12.99 L403.32,16.78 L395.56,18.32 L395.43,18.2 L392.51,2.3 L411.13,2.3Z" fill="url(#ca3g)"/>
<path d="M407.7,34.48 L412.85,31.21 L403.32,16.78 L395.56,18.32 L393.8,29.47Z" fill="url(#ca3g)"/>
<path d="M405.31,44.74 L391.39,40.29 L393.67,29.64 L393.8,29.47 L407.7,34.48Z" fill="url(#ca3g)"/>
<path d="M391.6,54.78 L391,40.67 L391.39,40.29 L405.31,44.74 L407.5,48.68 L405.33,55.05 L393.93,56.74Z" fill="url(#ca3g)"/>
<path d="M391.97,70.91 L393.76,73.21 L407.01,68.82 L406.69,57.28 L405.33,55.05 L393.93,56.74Z" fill="url(#ca3g)"/>
<path d="M407.01,68.82 L393.76,73.21 L393.71,84.38 L394.63,85.55 L406.42,89.58 L414.78,74.17Z" fill="url(#ca3g)"/>
<path d="M391.87,106.68 L387.8,102.5 L394.63,85.55 L406.42,89.58 L407.38,91.02 L407.7,96.26Z" fill="url(#ca3g)"/>
<path d="M408.67,111.63 L411.28,103.58 L407.7,96.26 L391.87,106.68 L393.23,110.47 L394.64,111.77Z" fill="url(#ca3g)"/>
<path d="M404.01,128.63 L402.89,129.59 L396.5,129.55 L396.08,129.15 L394.64,111.77 L408.67,111.63 L409.85,114.12Z" fill="url(#ca3g)"/>
<path d="M402.89,129.59 L412.71,143.7 L391.57,143.7 L396.5,129.55Z" fill="url(#ca3g)"/>
<path d="M420.98,19.23 L408.12,12.99 L411.13,2.3 L417.54,2.3 L425.87,16.31Z" fill="url(#ca3g)"/>
<path d="M420.98,19.23 L418.38,31.47 L412.85,31.21 L403.32,16.78 L408.12,12.99Z" fill="url(#ca3g)"/>
<path d="M405.31,44.74 L407.5,48.68 L423.61,44.95 L422.26,35.31 L418.38,31.47 L412.85,31.21 L407.7,34.48Z" fill="url(#ca3g)"/>
<path d="M406.69,57.28 L405.33,55.05 L407.5,48.68 L423.61,44.95 L425.21,46.61 L423.7,60.63 L423.67,60.68Z" fill="url(#ca3g)"/>
<path d="M407.01,68.82 L414.78,74.17 L416.53,73.8 L423.21,67.75 L423.67,60.68 L406.69,57.28Z" fill="url(#ca3g)"/>
<path d="M414.78,74.17 L406.42,89.58 L407.38,91.02 L419.93,90.65 L425.15,84.56 L416.53,73.8Z" fill="url(#ca3g)"/>
<path d="M411.28,103.58 L425.04,103.89 L427.6,101.88 L419.93,90.65 L407.38,91.02 L407.7,96.26Z" fill="url(#ca3g)"/>
<path d="M422.42,119.63 L423.28,118.61 L425.04,103.89 L411.28,103.58 L408.67,111.63 L409.85,114.12Z" fill="url(#ca3g)"/>
<path d="M422.54,126.43 L404.01,128.63 L409.85,114.12 L422.42,119.63Z" fill="url(#ca3g)"/>
<path d="M422.54,126.43 L424.61,130.15 L418.91,143.7 L412.71,143.7 L402.89,129.59 L404.01,128.63Z" fill="url(#ca3g)"/>
<path d="M425.87,16.31 L417.54,2.3 L436,2.3 L436,15.13Z" fill="url(#ca3g)"/>
<path d="M420.98,19.23 L418.38,31.47 L422.26,35.31 L436,28.08 L436,15.13 L425.87,16.31Z" fill="url(#ca3g)"/>
<path d="M436,28.08 L422.26,35.31 L423.61,44.95 L425.21,46.61 L436,46.71Z" fill="url(#ca3g)"/>
<path d="M423.7,60.63 L425.21,46.61 L436,46.71 L436,60.39Z" fill="url(#ca3g)"/>
<path d="M423.21,67.75 L423.67,60.68 L423.7,60.63 L436,60.39 L436,74.3Z" fill="url(#ca3g)"/>
<path d="M423.21,67.75 L436,74.3 L436,84.73 L425.15,84.56 L416.53,73.8Z" fill="url(#ca3g)"/>
<path d="M436,100.3 L427.6,101.88 L419.93,90.65 L425.15,84.56 L436,84.73Z" fill="url(#ca3g)"/>
<path d="M436,100.3 L427.6,101.88 L425.04,103.89 L423.28,118.61 L436,116.22Z" fill="url(#ca3g)"/>
<path d="M422.54,126.43 L424.61,130.15 L436,131.28 L436,116.22 L423.28,118.61 L422.42,119.63Z" fill="url(#ca3g)"/>
<path d="M424.61,130.15 L418.91,143.7 L436,143.7 L436,131.28Z" fill="url(#ca3g)"/>
</g>
<g filter="url(#hb3)" stroke="#6a92d8" fill="#6a92d8" stroke-linecap="round" stroke-linejoin="round">
<path d="M297.7,2.9 L436,2.9" fill="none" stroke-width="2.6"/>
<path d="M297.7,143 L436,143" fill="none" stroke-width="2.8"/>
<path d="M298.3,2.3 L298.3,143.7" fill="none" stroke-width="2.6"/>
<path d="M435.3,2.3 L435.3,143.7" fill="none" stroke-width="2.5"/>
<path d="M298.3,6.8 L298.3,22.8" fill="none" stroke-width="3.4"/>
<path d="M298.3,37.6 L298.3,41" fill="none" stroke-width="3.4"/>
<path d="M298.3,53.8 L298.3,60.7" fill="none" stroke-width="3.4"/>
<path d="M298.3,69.8 L298.3,76.6" fill="none" stroke-width="3.4"/>
<path d="M298.3,92.6 L298.3,97" fill="none" stroke-width="3.4"/>
<path d="M298.3,2.8 L301.7,3.5" fill="none" stroke-width="3.6"/>
<path d="M327.9,2.3 L327.9,5.7" fill="none" stroke-width="3.1"/>
<path d="M341.6,3 L341.7,10" fill="none" stroke-width="3.6"/>
<path d="M317.6,16.6 L321.2,17.1 L321.2,21" fill="none" stroke-width="3.1"/>
<path d="M326.2,18.2 L330.2,18.2 L330.2,16" fill="none" stroke-width="3.1"/>
<path d="M332.4,21.6 L335.3,21.6" fill="none" stroke-width="3.1"/>
<path d="M340.4,19.9 L345.7,19.9" fill="none" stroke-width="3.1"/>
<path d="M341.5,18 L341.5,21.5" fill="none" stroke-width="3.1"/>
<path d="M337.6,13.1 L341,13.1" fill="none" stroke-width="3.1"/>
<path d="M309.7,27.3 L313,27.3 L313.3,29.6" fill="none" stroke-width="3.1"/>
<path d="M315.4,24.5 L316.5,24.5" fill="none" stroke-width="3.1"/>
<path d="M331.3,23.3 L331.3,28.5" fill="none" stroke-width="3.3"/>
<path d="M326.8,38.2 L330.5,36.5 L334.7,34.2" fill="none" stroke-width="3.4"/>
<path d="M323.3,39.9 L323.3,43.3" fill="none" stroke-width="3.1"/>
<path d="M319.9,34.2 L321.6,36.4" fill="none" stroke-width="3.1"/>
<path d="M299.4,39.9 L302.8,39.9" fill="none" stroke-width="3.1"/>
<path d="M334.7,44.4 L334.7,49" fill="none" stroke-width="3.1"/>
<path d="M317.6,47.8 L322.2,47.8" fill="none" stroke-width="3.1"/>
<path d="M370.8,3.4 L370.8,9.1" fill="none" stroke-width="2.8"/>
<path d="M387.8,3 L387.8,8" fill="none" stroke-width="3.1"/>
<path d="M354.2,14.2 L358.2,14.2" fill="none" stroke-width="3.1"/>
<path d="M354.6,14.2 L354.6,16.5" fill="none" stroke-width="3.1"/>
<path d="M356,20.5 L356,22.8" fill="none" stroke-width="3.1"/>
<path d="M365.6,17.1 L365.6,23.9" fill="none" stroke-width="3.2"/>
<path d="M376.4,17.1 L376.4,19.4" fill="none" stroke-width="3.1"/>
<path d="M381,18.2 L383.3,20.5" fill="none" stroke-width="3.1"/>
<path d="M383.5,27 L388,26.5 L385.5,30 Z" stroke-width="1.6"/>
<path d="M346.4,33 a1.6,1.4 0 1,0 3.2,0 a1.6,1.4 0 1,0 -3.2,0Z" stroke-width="1.6"/>
<path d="M357,37.6 L361.8,37.6" fill="none" stroke-width="3.4"/>
<path d="M359.4,35.2 L359.4,40" fill="none" stroke-width="3.4"/>
<path d="M357.8,37.6 a1.6,1.6 0 1,0 3.2,0 a1.6,1.6 0 1,0 -3.2,0Z" stroke-width="1.6"/>
<path d="M368.5,37.6 L368.5,45.6" fill="none" stroke-width="3.2"/>
<path d="M370.8,34.2 L374.2,34.2" fill="none" stroke-width="3.1"/>
<path d="M385.6,36.4 L385.6,39.9" fill="none" stroke-width="3.1"/>
<path d="M386.9,35.3 a0.9,0.9 0 1,0 1.8,0 a0.9,0.9 0 1,0 -1.8,0Z" stroke-width="1.6"/>
<path d="M351.4,45.6 L353.7,46.7" fill="none" stroke-width="3.1"/>
<path d="M366.5,28.5 a0.8,0.8 0 1,0 1.6,0 a0.8,0.8 0 1,0 -1.6,0Z" stroke-width="1.6"/>
<path d="M393.1,4.6 L393.1,11.4" fill="none" stroke-width="2.7"/>
<path d="M409.6,9.1 L409.6,17.5" fill="none" stroke-width="3.1"/>
<path d="M408.8,18.2 a1.4,1.4 0 1,0 2.8,0 a1.4,1.4 0 1,0 -2.8,0Z" stroke-width="1.6"/>
<path d="M405.7,20.5 C405,20.58 402.35,20.25 401.5,21 C400.65,21.75 400.85,23.75 400.6,25 C400.35,26.25 400.43,27.73 400,28.5 C399.57,29.27 398.33,29.42 398,29.6" fill="none" stroke-width="3.4"/>
<path d="M413,20.5 L417,20.5" fill="none" stroke-width="3.1"/>
<path d="M413,20.5 L412.6,26.2" fill="none" stroke-width="3.1"/>
<path d="M417.6,10.3 L417.6,12.5" fill="none" stroke-width="3.1"/>
<path d="M433,26 a1.8,1.8 0 1,0 3.6,0 a1.8,1.8 0 1,0 -3.6,0Z" stroke-width="1.6"/>
<path d="M388,35.3 L392.6,35.3" fill="none" stroke-width="3.1"/>
<path d="M402.8,35.3 L405.1,37.6" fill="none" stroke-width="3.1"/>
<path d="M408.5,37.6 L408.5,42.1" fill="none" stroke-width="3.2"/>
<path d="M412.2,34.2 a0.8,0.8 0 1,0 1.6,0 a0.8,0.8 0 1,0 -1.6,0Z" stroke-width="1.6"/>
<path d="M416.5,44.4 L419.9,46.7" fill="none" stroke-width="3.2"/>
<path d="M404,45.6 C404.33,45.92 405.75,46.77 406,47.5 C406.25,48.23 405.58,49.58 405.5,50" fill="none" stroke-width="3.2"/>
<path d="M394.8,18.2 L397.1,18.2" fill="none" stroke-width="3.1"/>
<path d="M398.3,43.3 L400.5,43.3" fill="none" stroke-width="3.1"/>
<path d="M316.5,48.1 L321,49.3 L324.5,52.7" fill="none" stroke-width="3.2"/>
<path d="M326.3,55 a1.6,1.3 0 1,0 3.2,0 a1.6,1.3 0 1,0 -3.2,0Z" stroke-width="1.6"/>
<path d="M306.5,54.4 a0.9,0.9 0 1,0 1.8,0 a0.9,0.9 0 1,0 -1.8,0Z" stroke-width="1.6"/>
<path d="M313.5,64.5 C313.92,64.08 314.92,62.28 316,62 C317.08,61.72 318.97,61.88 320,62.8 C321.03,63.72 321.83,66.72 322.2,67.5" fill="none" stroke-width="3.2"/>
<path d="M331.3,58.4 L333,64.1" fill="none" stroke-width="3.2"/>
<path d="M333.6,64.1 L341.6,64.1" fill="none" stroke-width="3.4"/>
<path d="M337.5,62.5 L337.5,66" fill="none" stroke-width="3.1"/>
<path d="M341.6,57.3 L343.8,60.7" fill="none" stroke-width="3.2"/>
<path d="M333.6,47 L333.6,49.3" fill="none" stroke-width="3.1"/>
<path d="M341.6,48 L346,48" fill="none" stroke-width="3.1"/>
<path d="M309.7,69.8 L312,72.1" fill="none" stroke-width="3.1"/>
<path d="M324.7,70 L324.7,74.3 L327.9,75.2" fill="none" stroke-width="3.2"/>
<path d="M313,76.6 L317.6,76.6" fill="none" stroke-width="3.1"/>
<path d="M330.2,76.6 L330.2,80" fill="none" stroke-width="3.1"/>
<path d="M341.6,75.5 L343.8,78.9" fill="none" stroke-width="3.1"/>
<path d="M298.3,84.6 L304,84.6" fill="none" stroke-width="3.4"/>
<path d="M314.2,86.9 L314.2,89.1" fill="none" stroke-width="3.1"/>
<path d="M325.9,84.6 L325.9,91.4 L332.4,93.7" fill="none" stroke-width="3.5"/>
<path d="M310.8,93.7 L315.4,93.7" fill="none" stroke-width="3.1"/>
<path d="M318.8,86.9 L321,86.9" fill="none" stroke-width="3.1"/>
<path d="M342.7,89.1 L346,89.1" fill="none" stroke-width="3.1"/>
<path d="M333.6,84.6 L335.9,84.6" fill="none" stroke-width="3.1"/>
<path d="M342.3,49.3 L345.7,49.3" fill="none" stroke-width="3.1"/>
<path d="M352.5,49.3 L354.8,51.6" fill="none" stroke-width="3.1"/>
<path d="M379.9,48.1 L379.9,56.1" fill="none" stroke-width="3.4"/>
<path d="M387.8,55 L387.8,56.1" fill="none" stroke-width="3.1"/>
<path d="M342.3,57.3 L342.3,59.5" fill="none" stroke-width="3.1"/>
<path d="M352.5,57.3 L353.7,58.4" fill="none" stroke-width="3.1"/>
<path d="M340,64.6 L345.7,64.8" fill="none" stroke-width="3.6"/>
<path d="M363.9,56.1 L363.9,58.4" fill="none" stroke-width="3.1"/>
<path d="M367.3,63 L367.3,65.2" fill="none" stroke-width="3.1"/>
<path d="M375.9,65.2 a1.6,1.2 0 1,0 3.2,0 a1.6,1.2 0 1,0 -3.2,0Z" stroke-width="1.6"/>
<path d="M383.3,67.5 L383.3,70.9" fill="none" stroke-width="3.1"/>
<path d="M352.5,72.6 L365,72.6" fill="none" stroke-width="3.6"/>
<path d="M343.7,73.2 a0.9,0.9 0 1,0 1.8,0 a0.9,0.9 0 1,0 -1.8,0Z" stroke-width="1.6"/>
<path d="M374.2,73.2 L374.2,76.6" fill="none" stroke-width="3.1"/>
<path d="M375.8,77.8 L376.4,85.7" fill="none" stroke-width="3.2"/>
<path d="M379.1,75.5 a0.8,0.8 0 1,0 1.6,0 a0.8,0.8 0 1,0 -1.6,0Z" stroke-width="1.6"/>
<path d="M342.3,75.5 L342.3,78.9" fill="none" stroke-width="3.1"/>
<path d="M357.1,81.2 L361.6,83.4" fill="none" stroke-width="3.2"/>
<path d="M386.7,81.2 L386.7,85.7" fill="none" stroke-width="3.2"/>
<path d="M348.3,83.4 a0.8,0.8 0 1,0 1.6,0 a0.8,0.8 0 1,0 -1.6,0Z" stroke-width="1.6"/>
<path d="M366.2,85.7 L366.2,88" fill="none" stroke-width="3.1"/>
<path d="M368.5,90.3 L375.3,90.3" fill="none" stroke-width="3.6"/>
<path d="M349.1,96 L349.1,90.3 L358.2,91.5 L358.2,96" fill="none" stroke-width="3.1"/>
<path d="M342.3,89.1 L346.8,89.1" fill="none" stroke-width="3.1"/>
<path d="M388,55.5 L394.8,55.5" fill="none" stroke-width="3.1"/>
<path d="M404,47 L404,55" fill="none" stroke-width="3.2"/>
<path d="M399.4,55 L413,55" fill="none" stroke-width="3.2"/>
<path d="M408.5,55 L408.5,63" fill="none" stroke-width="3.1"/>
<path d="M417.6,58.4 L417.6,63.5 L422.2,63.5" fill="none" stroke-width="3.2"/>
<path d="M423.3,51.6 L425.6,51.6" fill="none" stroke-width="3.1"/>
<path d="M424.8,60 a0.8,0.8 0 1,0 1.6,0 a0.8,0.8 0 1,0 -1.6,0Z" stroke-width="1.6"/>
<path d="M397.6,68.6 a1.2,1.2 0 1,0 2.4,0 a1.2,1.2 0 1,0 -2.4,0Z" stroke-width="1.6"/>
<path d="M411.9,66.4 L413,68.6" fill="none" stroke-width="3.1"/>
<path d="M401.7,74.3 L409.6,69.8" fill="none" stroke-width="3.1"/>
<path d="M409.6,69.8 L410.8,78.9 L418.8,81.2" fill="none" stroke-width="3.2"/>
<path d="M414.5,81.2 L416.5,88 L418.8,94.8" fill="none" stroke-width="3.1"/>
<path d="M429,69.8 L433.6,69.8" fill="none" stroke-width="3.1"/>
<path d="M392.6,73.2 L392.6,76.6" fill="none" stroke-width="3.1"/>
<path d="M388,80 L391.4,80" fill="none" stroke-width="3.1"/>
<path d="M399.4,89 a1.6,1.3 0 1,0 3.2,0 a1.6,1.3 0 1,0 -3.2,0Z" stroke-width="1.6"/>
<path d="M424.4,90.3 L430.1,90.3" fill="none" stroke-width="3.1"/>
<path d="M432.3,92.5 a1.7,1.7 0 1,0 3.4,0 a1.7,1.7 0 1,0 -3.4,0Z" stroke-width="1.6"/>
<path d="M410.8,93.7 L414.2,93.7" fill="none" stroke-width="3.1"/>
<path d="M297.7,104.8 L304,104.8" fill="none" stroke-width="3.4"/>
<path d="M297.7,110 L302,110" fill="none" stroke-width="3.1"/>
<path d="M297.7,119.6 L303.4,119.6" fill="none" stroke-width="3.4"/>
<path d="M297.7,127.5 L299.5,127.5" fill="none" stroke-width="3.1"/>
<path d="M312,95.1 L318.8,95.1" fill="none" stroke-width="3.2"/>
<path d="M332.4,94 L332.4,96.3" fill="none" stroke-width="3.1"/>
<path d="M335.9,99.7 L335.9,104.2" fill="none" stroke-width="3.2"/>
<path d="M338.5,98.6 a0.8,0.8 0 1,0 1.6,0 a0.8,0.8 0 1,0 -1.6,0Z" stroke-width="1.6"/>
<path d="M322,102 L322.5,110" fill="none" stroke-width="3.4"/>
<path d="M318.8,106.5 L325.6,106.5" fill="none" stroke-width="2.9"/>
<path d="M326.8,108.8 L331.3,108.8" fill="none" stroke-width="3.2"/>
<path d="M313,106.5 L313,108.8" fill="none" stroke-width="3.1"/>
<path d="M310.8,112.2 L310.8,115.6" fill="none" stroke-width="3.1"/>
<path d="M344.1,108.8 a0.9,0.9 0 1,0 1.8,0 a0.9,0.9 0 1,0 -1.8,0Z" stroke-width="1.6"/>
<path d="M330.2,119.5 L337,119.5" fill="none" stroke-width="3.2"/>
<path d="M331.3,115.6 L331.3,119.5" fill="none" stroke-width="3.1"/>
<path d="M335.9,116.8 L335.9,120.2" fill="none" stroke-width="3.1"/>
<path d="M317.6,119 L323.3,119" fill="none" stroke-width="3.2"/>
<path d="M321,119 L321,124.8" fill="none" stroke-width="3.1"/>
<path d="M310.8,127 L314.2,124.8" fill="none" stroke-width="3.1"/>
<path d="M329,121.3 L329,127" fill="none" stroke-width="3.1"/>
<path d="M339.3,124.8 L339.3,127" fill="none" stroke-width="3.1"/>
<path d="M319.9,128.2 L319.9,132.7" fill="none" stroke-width="3.1"/>
<path d="M334.7,130.4 L330.2,130.4 L330.2,143" fill="none" stroke-width="3.2"/>
<path d="M317.6,137.3 L317.6,143" fill="none" stroke-width="3.1"/>
<path d="M343.8,129.3 L343.8,131.6" fill="none" stroke-width="3.1"/>
<path d="M350.3,94 L352.5,104.2" fill="none" stroke-width="3.2"/>
<path d="M359.4,94 L361.6,98.6" fill="none" stroke-width="3.1"/>
<path d="M374.2,96.3 L374.2,98.6" fill="none" stroke-width="3.1"/>
<path d="M376.2,103 a1.8,1.3 0 1,0 3.6,0 a1.8,1.3 0 1,0 -3.6,0Z" stroke-width="1.6"/>
<path d="M385.6,99.7 L387.8,102" fill="none" stroke-width="3.1"/>
<path d="M365.4,100.8 a0.8,0.8 0 1,0 1.6,0 a0.8,0.8 0 1,0 -1.6,0Z" stroke-width="1.6"/>
<path d="M344.6,108.8 L348,108.8" fill="none" stroke-width="3.4"/>
<path d="M357.1,106.5 L362.8,107.7" fill="none" stroke-width="3.1"/>
<path d="M368,107.7 L369.5,114.5" fill="none" stroke-width="3.8"/>
<path d="M379,114.5 a0.9,0.9 0 1,0 1.8,0 a0.9,0.9 0 1,0 -1.8,0Z" stroke-width="1.6"/>
<path d="M386.7,116.8 L389,120.2" fill="none" stroke-width="3.1"/>
<path d="M356,115.6 L357.1,119" fill="none" stroke-width="3.1"/>
<path d="M361.6,115.6 L365,115.6" fill="none" stroke-width="3.1"/>
<path d="M349.6,117.9 L349.6,123.6" fill="none" stroke-width="3.2"/>
<path d="M374.2,122.5 L371.9,130.4 L365,131" fill="none" stroke-width="3.2"/>
<path d="M383.8,122.5 L383.8,128.2" fill="none" stroke-width="3.1"/>
<path d="M351.4,127 L353.7,128.2" fill="none" stroke-width="3.1"/>
<path d="M357.1,128.2 L359.4,128.2" fill="none" stroke-width="3.1"/>
<path d="M343.4,129.3 L343.4,131.6" fill="none" stroke-width="3.1"/>
<path d="M357.1,138.4 L357.1,143" fill="none" stroke-width="3.1"/>
<path d="M364.5,139.6 L364.5,143" fill="none" stroke-width="3.1"/>
<path d="M378.7,140.7 L378.7,143" fill="none" stroke-width="3.1"/>
<path d="M399.4,96.3 L406.8,97.5 L406.8,103.1" fill="none" stroke-width="3.1"/>
<path d="M411.9,94 L414.2,95.1" fill="none" stroke-width="3.1"/>
<path d="M417.6,96.3 L417.6,100.8 L422.2,100.8" fill="none" stroke-width="3.1"/>
<path d="M417.6,106.5 L422.2,110.5 L433.6,110.8" fill="none" stroke-width="3.2"/>
<path d="M432.7,111 a1.8,1.8 0 1,0 3.6,0 a1.8,1.8 0 1,0 -3.6,0Z" stroke-width="1.6"/>
<path d="M392.6,106.5 L392.6,111.1 L397,111.1" fill="none" stroke-width="3.1"/>
<path d="M410.8,112.2 L413,112.2" fill="none" stroke-width="3.1"/>
<path d="M398.6,112.2 a0.8,0.8 0 1,0 1.6,0 a0.8,0.8 0 1,0 -1.6,0Z" stroke-width="1.6"/>
<path d="M388.5,115.6 L389.5,120.2" fill="none" stroke-width="3.1"/>
<path d="M413,119 L413,122.5" fill="none" stroke-width="3.1"/>
<path d="M421.5,119 L421.8,123.6" fill="none" stroke-width="3.1"/>
<path d="M393.7,121.5 L393.7,125.3 L414.2,124.8" fill="none" stroke-width="3.3"/>
<path d="M418.1,127 a1.9,1.4 0 1,0 3.8,0 a1.9,1.4 0 1,0 -3.8,0Z" stroke-width="1.6"/>
<path d="M408.5,127 L408.5,132.7" fill="none" stroke-width="2.4"/>
<path d="M433.4,128 a1.4,1.4 0 1,0 2.8,0 a1.4,1.4 0 1,0 -2.8,0Z" stroke-width="1.6"/>
<path d="M400.5,133.9 L400.5,137.3" fill="none" stroke-width="3.1"/>
<path d="M423.3,131.6 L423.3,136.1" fill="none" stroke-width="3.1"/>
<path d="M388,140.7 L391.4,140.7" fill="none" stroke-width="3.1"/>
</g>
<g stroke="#a8000e" fill="#a8000e" stroke-linecap="round" stroke-linejoin="round">
<path d="M297.7,2.9 L436,2.9" fill="none" stroke-width="1"/>
<path d="M297.7,143 L436,143" fill="none" stroke-width="1.2"/>
<path d="M298.3,2.3 L298.3,143.7" fill="none" stroke-width="1"/>
<path d="M435.3,2.3 L435.3,143.7" fill="none" stroke-width="0.9"/>
<path d="M298.3,6.8 L298.3,22.8" fill="none" stroke-width="1.8"/>
<path d="M298.3,37.6 L298.3,41" fill="none" stroke-width="1.8"/>
<path d="M298.3,53.8 L298.3,60.7" fill="none" stroke-width="1.8"/>
<path d="M298.3,69.8 L298.3,76.6" fill="none" stroke-width="1.8"/>
<path d="M298.3,92.6 L298.3,97" fill="none" stroke-width="1.8"/>
<path d="M298.3,2.8 L301.7,3.5" fill="none" stroke-width="2"/>
<path d="M327.9,2.3 L327.9,5.7" fill="none" stroke-width="1.5"/>
<path d="M341.6,3 L341.7,10" fill="none" stroke-width="2"/>
<path d="M317.6,16.6 L321.2,17.1 L321.2,21" fill="none" stroke-width="1.5"/>
<path d="M326.2,18.2 L330.2,18.2 L330.2,16" fill="none" stroke-width="1.5"/>
<path d="M332.4,21.6 L335.3,21.6" fill="none" stroke-width="1.5"/>
<path d="M340.4,19.9 L345.7,19.9" fill="none" stroke-width="1.5"/>
<path d="M341.5,18 L341.5,21.5" fill="none" stroke-width="1.5"/>
<path d="M337.6,13.1 L341,13.1" fill="none" stroke-width="1.5"/>
<path d="M309.7,27.3 L313,27.3 L313.3,29.6" fill="none" stroke-width="1.5"/>
<path d="M315.4,24.5 L316.5,24.5" fill="none" stroke-width="1.5"/>
<path d="M331.3,23.3 L331.3,28.5" fill="none" stroke-width="1.7"/>
<path d="M326.8,38.2 L330.5,36.5 L334.7,34.2" fill="none" stroke-width="1.8"/>
<path d="M323.3,39.9 L323.3,43.3" fill="none" stroke-width="1.5"/>
<path d="M319.9,34.2 L321.6,36.4" fill="none" stroke-width="1.5"/>
<path d="M299.4,39.9 L302.8,39.9" fill="none" stroke-width="1.5"/>
<path d="M334.7,44.4 L334.7,49" fill="none" stroke-width="1.5"/>
<path d="M317.6,47.8 L322.2,47.8" fill="none" stroke-width="1.5"/>
<path d="M370.8,3.4 L370.8,9.1" fill="none" stroke-width="1.2"/>
<path d="M387.8,3 L387.8,8" fill="none" stroke-width="1.5"/>
<path d="M354.2,14.2 L358.2,14.2" fill="none" stroke-width="1.5"/>
<path d="M354.6,14.2 L354.6,16.5" fill="none" stroke-width="1.5"/>
<path d="M356,20.5 L356,22.8" fill="none" stroke-width="1.5"/>
<path d="M365.6,17.1 L365.6,23.9" fill="none" stroke-width="1.6"/>
<path d="M376.4,17.1 L376.4,19.4" fill="none" stroke-width="1.5"/>
<path d="M381,18.2 L383.3,20.5" fill="none" stroke-width="1.5"/>
<path d="M383.5,27 L388,26.5 L385.5,30 Z" stroke="none"/>
<path d="M346.4,33 a1.6,1.4 0 1,0 3.2,0 a1.6,1.4 0 1,0 -3.2,0Z" stroke="none"/>
<path d="M357,37.6 L361.8,37.6" fill="none" stroke-width="1.8"/>
<path d="M359.4,35.2 L359.4,40" fill="none" stroke-width="1.8"/>
<path d="M357.8,37.6 a1.6,1.6 0 1,0 3.2,0 a1.6,1.6 0 1,0 -3.2,0Z" stroke="none"/>
<path d="M368.5,37.6 L368.5,45.6" fill="none" stroke-width="1.6"/>
<path d="M370.8,34.2 L374.2,34.2" fill="none" stroke-width="1.5"/>
<path d="M385.6,36.4 L385.6,39.9" fill="none" stroke-width="1.5"/>
<path d="M386.9,35.3 a0.9,0.9 0 1,0 1.8,0 a0.9,0.9 0 1,0 -1.8,0Z" stroke="none"/>
<path d="M351.4,45.6 L353.7,46.7" fill="none" stroke-width="1.5"/>
<path d="M366.5,28.5 a0.8,0.8 0 1,0 1.6,0 a0.8,0.8 0 1,0 -1.6,0Z" stroke="none"/>
<path d="M393.1,4.6 L393.1,11.4" fill="none" stroke-width="1.1"/>
<path d="M409.6,9.1 L409.6,17.5" fill="none" stroke-width="1.5"/>
<path d="M408.8,18.2 a1.4,1.4 0 1,0 2.8,0 a1.4,1.4 0 1,0 -2.8,0Z" stroke="none"/>
<path d="M405.7,20.5 C405,20.58 402.35,20.25 401.5,21 C400.65,21.75 400.85,23.75 400.6,25 C400.35,26.25 400.43,27.73 400,28.5 C399.57,29.27 398.33,29.42 398,29.6" fill="none" stroke-width="1.8"/>
<path d="M413,20.5 L417,20.5" fill="none" stroke-width="1.5"/>
<path d="M413,20.5 L412.6,26.2" fill="none" stroke-width="1.5"/>
<path d="M417.6,10.3 L417.6,12.5" fill="none" stroke-width="1.5"/>
<path d="M433,26 a1.8,1.8 0 1,0 3.6,0 a1.8,1.8 0 1,0 -3.6,0Z" stroke="none"/>
<path d="M388,35.3 L392.6,35.3" fill="none" stroke-width="1.5"/>
<path d="M402.8,35.3 L405.1,37.6" fill="none" stroke-width="1.5"/>
<path d="M408.5,37.6 L408.5,42.1" fill="none" stroke-width="1.6"/>
<path d="M412.2,34.2 a0.8,0.8 0 1,0 1.6,0 a0.8,0.8 0 1,0 -1.6,0Z" stroke="none"/>
<path d="M416.5,44.4 L419.9,46.7" fill="none" stroke-width="1.6"/>
<path d="M404,45.6 C404.33,45.92 405.75,46.77 406,47.5 C406.25,48.23 405.58,49.58 405.5,50" fill="none" stroke-width="1.6"/>
<path d="M394.8,18.2 L397.1,18.2" fill="none" stroke-width="1.5"/>
<path d="M398.3,43.3 L400.5,43.3" fill="none" stroke-width="1.5"/>
<path d="M316.5,48.1 L321,49.3 L324.5,52.7" fill="none" stroke-width="1.6"/>
<path d="M326.3,55 a1.6,1.3 0 1,0 3.2,0 a1.6,1.3 0 1,0 -3.2,0Z" stroke="none"/>
<path d="M306.5,54.4 a0.9,0.9 0 1,0 1.8,0 a0.9,0.9 0 1,0 -1.8,0Z" stroke="none"/>
<path d="M313.5,64.5 C313.92,64.08 314.92,62.28 316,62 C317.08,61.72 318.97,61.88 320,62.8 C321.03,63.72 321.83,66.72 322.2,67.5" fill="none" stroke-width="1.6"/>
<path d="M331.3,58.4 L333,64.1" fill="none" stroke-width="1.6"/>
<path d="M333.6,64.1 L341.6,64.1" fill="none" stroke-width="1.8"/>
<path d="M337.5,62.5 L337.5,66" fill="none" stroke-width="1.5"/>
<path d="M341.6,57.3 L343.8,60.7" fill="none" stroke-width="1.6"/>
<path d="M333.6,47 L333.6,49.3" fill="none" stroke-width="1.5"/>
<path d="M341.6,48 L346,48" fill="none" stroke-width="1.5"/>
<path d="M309.7,69.8 L312,72.1" fill="none" stroke-width="1.5"/>
<path d="M324.7,70 L324.7,74.3 L327.9,75.2" fill="none" stroke-width="1.6"/>
<path d="M313,76.6 L317.6,76.6" fill="none" stroke-width="1.5"/>
<path d="M330.2,76.6 L330.2,80" fill="none" stroke-width="1.5"/>
<path d="M341.6,75.5 L343.8,78.9" fill="none" stroke-width="1.5"/>
<path d="M298.3,84.6 L304,84.6" fill="none" stroke-width="1.8"/>
<path d="M314.2,86.9 L314.2,89.1" fill="none" stroke-width="1.5"/>
<path d="M325.9,84.6 L325.9,91.4 L332.4,93.7" fill="none" stroke-width="1.9"/>
<path d="M310.8,93.7 L315.4,93.7" fill="none" stroke-width="1.5"/>
<path d="M318.8,86.9 L321,86.9" fill="none" stroke-width="1.5"/>
<path d="M342.7,89.1 L346,89.1" fill="none" stroke-width="1.5"/>
<path d="M333.6,84.6 L335.9,84.6" fill="none" stroke-width="1.5"/>
<path d="M342.3,49.3 L345.7,49.3" fill="none" stroke-width="1.5"/>
<path d="M352.5,49.3 L354.8,51.6" fill="none" stroke-width="1.5"/>
<path d="M379.9,48.1 L379.9,56.1" fill="none" stroke-width="1.8"/>
<path d="M387.8,55 L387.8,56.1" fill="none" stroke-width="1.5"/>
<path d="M342.3,57.3 L342.3,59.5" fill="none" stroke-width="1.5"/>
<path d="M352.5,57.3 L353.7,58.4" fill="none" stroke-width="1.5"/>
<path d="M340,64.6 L345.7,64.8" fill="none" stroke-width="2"/>
<path d="M363.9,56.1 L363.9,58.4" fill="none" stroke-width="1.5"/>
<path d="M367.3,63 L367.3,65.2" fill="none" stroke-width="1.5"/>
<path d="M375.9,65.2 a1.6,1.2 0 1,0 3.2,0 a1.6,1.2 0 1,0 -3.2,0Z" stroke="none"/>
<path d="M383.3,67.5 L383.3,70.9" fill="none" stroke-width="1.5"/>
<path d="M352.5,72.6 L365,72.6" fill="none" stroke-width="2"/>
<path d="M343.7,73.2 a0.9,0.9 0 1,0 1.8,0 a0.9,0.9 0 1,0 -1.8,0Z" stroke="none"/>
<path d="M374.2,73.2 L374.2,76.6" fill="none" stroke-width="1.5"/>
<path d="M375.8,77.8 L376.4,85.7" fill="none" stroke-width="1.6"/>
<path d="M379.1,75.5 a0.8,0.8 0 1,0 1.6,0 a0.8,0.8 0 1,0 -1.6,0Z" stroke="none"/>
<path d="M342.3,75.5 L342.3,78.9" fill="none" stroke-width="1.5"/>
<path d="M357.1,81.2 L361.6,83.4" fill="none" stroke-width="1.6"/>
<path d="M386.7,81.2 L386.7,85.7" fill="none" stroke-width="1.6"/>
<path d="M348.3,83.4 a0.8,0.8 0 1,0 1.6,0 a0.8,0.8 0 1,0 -1.6,0Z" stroke="none"/>
<path d="M366.2,85.7 L366.2,88" fill="none" stroke-width="1.5"/>
<path d="M368.5,90.3 L375.3,90.3" fill="none" stroke-width="2"/>
<path d="M349.1,96 L349.1,90.3 L358.2,91.5 L358.2,96" fill="none" stroke-width="1.5"/>
<path d="M342.3,89.1 L346.8,89.1" fill="none" stroke-width="1.5"/>
<path d="M388,55.5 L394.8,55.5" fill="none" stroke-width="1.5"/>
<path d="M404,47 L404,55" fill="none" stroke-width="1.6"/>
<path d="M399.4,55 L413,55" fill="none" stroke-width="1.6"/>
<path d="M408.5,55 L408.5,63" fill="none" stroke-width="1.5"/>
<path d="M417.6,58.4 L417.6,63.5 L422.2,63.5" fill="none" stroke-width="1.6"/>
<path d="M423.3,51.6 L425.6,51.6" fill="none" stroke-width="1.5"/>
<path d="M424.8,60 a0.8,0.8 0 1,0 1.6,0 a0.8,0.8 0 1,0 -1.6,0Z" stroke="none"/>
<path d="M397.6,68.6 a1.2,1.2 0 1,0 2.4,0 a1.2,1.2 0 1,0 -2.4,0Z" stroke="none"/>
<path d="M411.9,66.4 L413,68.6" fill="none" stroke-width="1.5"/>
<path d="M401.7,74.3 L409.6,69.8" fill="none" stroke-width="1.5"/>
<path d="M409.6,69.8 L410.8,78.9 L418.8,81.2" fill="none" stroke-width="1.6"/>
<path d="M414.5,81.2 L416.5,88 L418.8,94.8" fill="none" stroke-width="1.5"/>
<path d="M429,69.8 L433.6,69.8" fill="none" stroke-width="1.5"/>
<path d="M392.6,73.2 L392.6,76.6" fill="none" stroke-width="1.5"/>
<path d="M388,80 L391.4,80" fill="none" stroke-width="1.5"/>
<path d="M399.4,89 a1.6,1.3 0 1,0 3.2,0 a1.6,1.3 0 1,0 -3.2,0Z" stroke="none"/>
<path d="M424.4,90.3 L430.1,90.3" fill="none" stroke-width="1.5"/>
<path d="M432.3,92.5 a1.7,1.7 0 1,0 3.4,0 a1.7,1.7 0 1,0 -3.4,0Z" stroke="none"/>
<path d="M410.8,93.7 L414.2,93.7" fill="none" stroke-width="1.5"/>
<path d="M297.7,104.8 L304,104.8" fill="none" stroke-width="1.8"/>
<path d="M297.7,110 L302,110" fill="none" stroke-width="1.5"/>
<path d="M297.7,119.6 L303.4,119.6" fill="none" stroke-width="1.8"/>
<path d="M297.7,127.5 L299.5,127.5" fill="none" stroke-width="1.5"/>
<path d="M312,95.1 L318.8,95.1" fill="none" stroke-width="1.6"/>
<path d="M332.4,94 L332.4,96.3" fill="none" stroke-width="1.5"/>
<path d="M335.9,99.7 L335.9,104.2" fill="none" stroke-width="1.6"/>
<path d="M338.5,98.6 a0.8,0.8 0 1,0 1.6,0 a0.8,0.8 0 1,0 -1.6,0Z" stroke="none"/>
<path d="M322,102 L322.5,110" fill="none" stroke-width="1.8"/>
<path d="M318.8,106.5 L325.6,106.5" fill="none" stroke-width="1.3"/>
<path d="M326.8,108.8 L331.3,108.8" fill="none" stroke-width="1.6"/>
<path d="M313,106.5 L313,108.8" fill="none" stroke-width="1.5"/>
<path d="M310.8,112.2 L310.8,115.6" fill="none" stroke-width="1.5"/>
<path d="M344.1,108.8 a0.9,0.9 0 1,0 1.8,0 a0.9,0.9 0 1,0 -1.8,0Z" stroke="none"/>
<path d="M330.2,119.5 L337,119.5" fill="none" stroke-width="1.6"/>
<path d="M331.3,115.6 L331.3,119.5" fill="none" stroke-width="1.5"/>
<path d="M335.9,116.8 L335.9,120.2" fill="none" stroke-width="1.5"/>
<path d="M317.6,119 L323.3,119" fill="none" stroke-width="1.6"/>
<path d="M321,119 L321,124.8" fill="none" stroke-width="1.5"/>
<path d="M310.8,127 L314.2,124.8" fill="none" stroke-width="1.5"/>
<path d="M329,121.3 L329,127" fill="none" stroke-width="1.5"/>
<path d="M339.3,124.8 L339.3,127" fill="none" stroke-width="1.5"/>
<path d="M319.9,128.2 L319.9,132.7" fill="none" stroke-width="1.5"/>
<path d="M334.7,130.4 L330.2,130.4 L330.2,143" fill="none" stroke-width="1.6"/>
<path d="M317.6,137.3 L317.6,143" fill="none" stroke-width="1.5"/>
<path d="M343.8,129.3 L343.8,131.6" fill="none" stroke-width="1.5"/>
<path d="M350.3,94 L352.5,104.2" fill="none" stroke-width="1.6"/>
<path d="M359.4,94 L361.6,98.6" fill="none" stroke-width="1.5"/>
<path d="M374.2,96.3 L374.2,98.6" fill="none" stroke-width="1.5"/>
<path d="M376.2,103 a1.8,1.3 0 1,0 3.6,0 a1.8,1.3 0 1,0 -3.6,0Z" stroke="none"/>
<path d="M385.6,99.7 L387.8,102" fill="none" stroke-width="1.5"/>
<path d="M365.4,100.8 a0.8,0.8 0 1,0 1.6,0 a0.8,0.8 0 1,0 -1.6,0Z" stroke="none"/>
<path d="M344.6,108.8 L348,108.8" fill="none" stroke-width="1.8"/>
<path d="M357.1,106.5 L362.8,107.7" fill="none" stroke-width="1.5"/>
<path d="M368,107.7 L369.5,114.5" fill="none" stroke-width="2.2"/>
<path d="M379,114.5 a0.9,0.9 0 1,0 1.8,0 a0.9,0.9 0 1,0 -1.8,0Z" stroke="none"/>
<path d="M386.7,116.8 L389,120.2" fill="none" stroke-width="1.5"/>
<path d="M356,115.6 L357.1,119" fill="none" stroke-width="1.5"/>
<path d="M361.6,115.6 L365,115.6" fill="none" stroke-width="1.5"/>
<path d="M349.6,117.9 L349.6,123.6" fill="none" stroke-width="1.6"/>
<path d="M374.2,122.5 L371.9,130.4 L365,131" fill="none" stroke-width="1.6"/>
<path d="M383.8,122.5 L383.8,128.2" fill="none" stroke-width="1.5"/>
<path d="M351.4,127 L353.7,128.2" fill="none" stroke-width="1.5"/>
<path d="M357.1,128.2 L359.4,128.2" fill="none" stroke-width="1.5"/>
<path d="M343.4,129.3 L343.4,131.6" fill="none" stroke-width="1.5"/>
<path d="M357.1,138.4 L357.1,143" fill="none" stroke-width="1.5"/>
<path d="M364.5,139.6 L364.5,143" fill="none" stroke-width="1.5"/>
<path d="M378.7,140.7 L378.7,143" fill="none" stroke-width="1.5"/>
<path d="M399.4,96.3 L406.8,97.5 L406.8,103.1" fill="none" stroke-width="1.5"/>
<path d="M411.9,94 L414.2,95.1" fill="none" stroke-width="1.5"/>
<path d="M417.6,96.3 L417.6,100.8 L422.2,100.8" fill="none" stroke-width="1.5"/>
<path d="M417.6,106.5 L422.2,110.5 L433.6,110.8" fill="none" stroke-width="1.6"/>
<path d="M432.7,111 a1.8,1.8 0 1,0 3.6,0 a1.8,1.8 0 1,0 -3.6,0Z" stroke="none"/>
<path d="M392.6,106.5 L392.6,111.1 L397,111.1" fill="none" stroke-width="1.5"/>
<path d="M410.8,112.2 L413,112.2" fill="none" stroke-width="1.5"/>
<path d="M398.6,112.2 a0.8,0.8 0 1,0 1.6,0 a0.8,0.8 0 1,0 -1.6,0Z" stroke="none"/>
<path d="M388.5,115.6 L389.5,120.2" fill="none" stroke-width="1.5"/>
<path d="M413,119 L413,122.5" fill="none" stroke-width="1.5"/>
<path d="M421.5,119 L421.8,123.6" fill="none" stroke-width="1.5"/>
<path d="M393.7,121.5 L393.7,125.3 L414.2,124.8" fill="none" stroke-width="1.7"/>
<path d="M418.1,127 a1.9,1.4 0 1,0 3.8,0 a1.9,1.4 0 1,0 -3.8,0Z" stroke="none"/>
<path d="M408.5,127 L408.5,132.7" fill="none" stroke-width="0.8"/>
<path d="M433.4,128 a1.4,1.4 0 1,0 2.8,0 a1.4,1.4 0 1,0 -2.8,0Z" stroke="none"/>
<path d="M400.5,133.9 L400.5,137.3" fill="none" stroke-width="1.5"/>
<path d="M423.3,131.6 L423.3,136.1" fill="none" stroke-width="1.5"/>
<path d="M388,140.7 L391.4,140.7" fill="none" stroke-width="1.5"/>
</g>
</g>
<text x="300.8" y="14.5" font-size="10" text-anchor="start" fill="#e8e81c" font-family="Liberation Serif, serif" font-weight="bold" stroke="#e8e81c" stroke-width="0.35">(a3)</text></svg>
</body></html>
